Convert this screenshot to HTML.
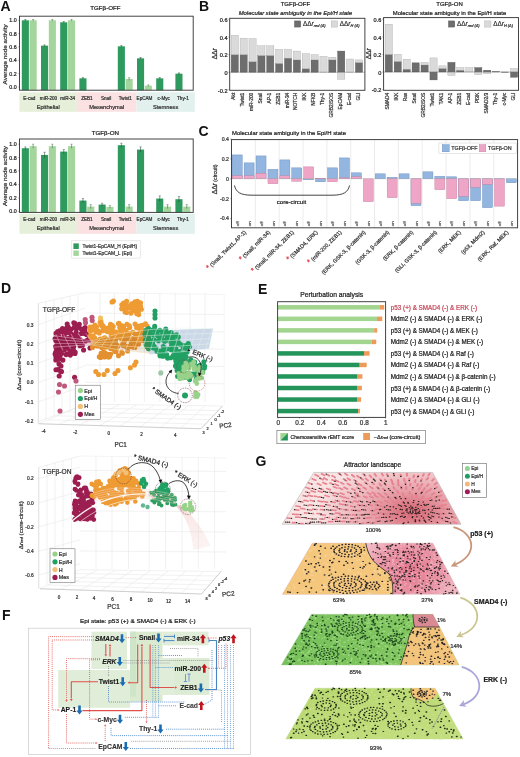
<!DOCTYPE html>
<html><head><meta charset="utf-8"><title>Figure</title>
<style>
html,body{margin:0;padding:0;background:#fff;width:520px;height:757px;overflow:hidden}
svg{display:block}
text{font-family:"Liberation Sans",Arial,sans-serif}
</style></head><body>
<svg xmlns="http://www.w3.org/2000/svg" width="520" height="757" viewBox="0 0 520 757">
<rect width="520" height="757" fill="#fff"/>
<text x="0.6" y="10.6" font-size="14" font-weight="bold" fill="#111">A</text>
<text x="105.4" y="10.2" font-size="6.2" text-anchor="middle" fill="#222" stroke="#222" stroke-width="0.22">TGFβ-OFF</text>
<rect x="19.5" y="92.3" width="57.4" height="19.5" fill="#e6efd9"/>
<rect x="76.9" y="92.3" width="59.6" height="19.5" fill="#fbe1e1"/>
<rect x="136.5" y="92.3" width="58.3" height="19.5" fill="#e2f1ee"/>
<rect x="21.8" y="20.3" width="7.1" height="69.9" fill="#2f9a5e"/>
<rect x="29.6" y="20.3" width="7.1" height="69.9" fill="#a3d59c"/>
<line x1="25.35" y1="19.5" x2="25.35" y2="21.1" stroke="#1a3a26" stroke-width="0.5"/>
<line x1="24.25" y1="19.5" x2="26.45" y2="19.5" stroke="#1a3a26" stroke-width="0.4"/>
<line x1="33.15" y1="19.5" x2="33.15" y2="21.1" stroke="#3a5a36" stroke-width="0.5"/>
<line x1="32.05" y1="19.5" x2="34.25" y2="19.5" stroke="#3a5a36" stroke-width="0.4"/>
<rect x="41" y="45.65" width="7.1" height="44.55" fill="#2f9a5e"/>
<rect x="48.8" y="20.3" width="7.1" height="69.9" fill="#a3d59c"/>
<line x1="44.55" y1="44.85" x2="44.55" y2="46.45" stroke="#1a3a26" stroke-width="0.5"/>
<line x1="43.45" y1="44.85" x2="45.65" y2="44.85" stroke="#1a3a26" stroke-width="0.4"/>
<line x1="52.35" y1="19.5" x2="52.35" y2="21.1" stroke="#3a5a36" stroke-width="0.5"/>
<line x1="51.25" y1="19.5" x2="53.45" y2="19.5" stroke="#3a5a36" stroke-width="0.4"/>
<rect x="60.2" y="22.3" width="7.1" height="67.9" fill="#2f9a5e"/>
<rect x="68" y="20.3" width="7.1" height="69.9" fill="#a3d59c"/>
<line x1="63.75" y1="21.5" x2="63.75" y2="23.1" stroke="#1a3a26" stroke-width="0.5"/>
<line x1="62.65" y1="21.5" x2="64.85" y2="21.5" stroke="#1a3a26" stroke-width="0.4"/>
<line x1="71.55" y1="19.5" x2="71.55" y2="21.1" stroke="#3a5a36" stroke-width="0.5"/>
<line x1="70.45" y1="19.5" x2="72.65" y2="19.5" stroke="#3a5a36" stroke-width="0.4"/>
<rect x="79.4" y="78.33" width="7.1" height="11.87" fill="#2f9a5e"/>
<line x1="82.95" y1="77.53" x2="82.95" y2="79.13" stroke="#1a3a26" stroke-width="0.5"/>
<line x1="81.85" y1="77.53" x2="84.05" y2="77.53" stroke="#1a3a26" stroke-width="0.4"/>
<rect x="117.8" y="46.31" width="7.1" height="43.89" fill="#2f9a5e"/>
<rect x="125.6" y="79" width="7.1" height="11.2" fill="#a3d59c"/>
<line x1="121.35" y1="45.51" x2="121.35" y2="47.11" stroke="#1a3a26" stroke-width="0.5"/>
<line x1="120.25" y1="45.51" x2="122.45" y2="45.51" stroke="#1a3a26" stroke-width="0.4"/>
<line x1="129.15" y1="77.66" x2="129.15" y2="80.33" stroke="#3a5a36" stroke-width="0.5"/>
<line x1="128.05" y1="77.66" x2="130.25" y2="77.66" stroke="#3a5a36" stroke-width="0.4"/>
<rect x="137" y="58.32" width="7.1" height="31.88" fill="#2f9a5e"/>
<rect x="144.8" y="85.67" width="7.1" height="4.53" fill="#a3d59c"/>
<line x1="140.55" y1="57.52" x2="140.55" y2="59.12" stroke="#1a3a26" stroke-width="0.5"/>
<line x1="139.45" y1="57.52" x2="141.65" y2="57.52" stroke="#1a3a26" stroke-width="0.4"/>
<line x1="148.35" y1="84.87" x2="148.35" y2="86.47" stroke="#3a5a36" stroke-width="0.5"/>
<line x1="147.25" y1="84.87" x2="149.45" y2="84.87" stroke="#3a5a36" stroke-width="0.4"/>
<rect x="156.2" y="78.33" width="7.1" height="11.87" fill="#2f9a5e"/>
<line x1="159.75" y1="77.53" x2="159.75" y2="79.13" stroke="#1a3a26" stroke-width="0.5"/>
<line x1="158.65" y1="77.53" x2="160.85" y2="77.53" stroke="#1a3a26" stroke-width="0.4"/>
<rect x="175.4" y="73.66" width="7.1" height="16.54" fill="#2f9a5e"/>
<line x1="178.95" y1="72.86" x2="178.95" y2="74.46" stroke="#1a3a26" stroke-width="0.5"/>
<line x1="177.85" y1="72.86" x2="180.05" y2="72.86" stroke="#1a3a26" stroke-width="0.4"/>
<rect x="19.5" y="16.2" width="173.7" height="74" fill="none" stroke="#3a3a3a" stroke-width="0.95"/>
<text x="16.7" y="88.9" font-size="5.3" text-anchor="end" fill="#222" stroke="#222" stroke-width="0.22">0.0</text>
<line x1="18.2" y1="87" x2="19.5" y2="87" stroke="#333" stroke-width="0.4"/>
<text x="16.7" y="75.56" font-size="5.3" text-anchor="end" fill="#222" stroke="#222" stroke-width="0.22">0.2</text>
<line x1="18.2" y1="73.66" x2="19.5" y2="73.66" stroke="#333" stroke-width="0.4"/>
<text x="16.7" y="62.22" font-size="5.3" text-anchor="end" fill="#222" stroke="#222" stroke-width="0.22">0.4</text>
<line x1="18.2" y1="60.32" x2="19.5" y2="60.32" stroke="#333" stroke-width="0.4"/>
<text x="16.7" y="48.88" font-size="5.3" text-anchor="end" fill="#222" stroke="#222" stroke-width="0.22">0.6</text>
<line x1="18.2" y1="46.98" x2="19.5" y2="46.98" stroke="#333" stroke-width="0.4"/>
<text x="16.7" y="35.54" font-size="5.3" text-anchor="end" fill="#222" stroke="#222" stroke-width="0.22">0.8</text>
<line x1="18.2" y1="33.64" x2="19.5" y2="33.64" stroke="#333" stroke-width="0.4"/>
<text x="16.7" y="22.2" font-size="5.3" text-anchor="end" fill="#222" stroke="#222" stroke-width="0.22">1.0</text>
<line x1="18.2" y1="20.3" x2="19.5" y2="20.3" stroke="#333" stroke-width="0.4"/>
<text x="7.4" y="54.4" font-size="5.8" text-anchor="middle" fill="#333" stroke="#333" stroke-width="0.22" textLength="60" lengthAdjust="spacingAndGlyphs" transform="rotate(-90 7.4 54.4)">Average node activity</text>
<text x="29.3" y="99.7" font-size="4.6" text-anchor="middle" fill="#333" stroke="#333" stroke-width="0.22">E-cad</text>
<text x="48.5" y="99.7" font-size="4.6" text-anchor="middle" fill="#333" stroke="#333" stroke-width="0.22">miR-200</text>
<text x="67.7" y="99.7" font-size="4.6" text-anchor="middle" fill="#333" stroke="#333" stroke-width="0.22">miR-34</text>
<text x="86.9" y="99.7" font-size="4.6" text-anchor="middle" fill="#333" stroke="#333" stroke-width="0.22">ZEB1</text>
<text x="106.1" y="99.7" font-size="4.6" text-anchor="middle" fill="#333" stroke="#333" stroke-width="0.22">Snail</text>
<text x="125.3" y="99.7" font-size="4.6" text-anchor="middle" fill="#333" stroke="#333" stroke-width="0.22">Twist1</text>
<text x="144.5" y="99.7" font-size="4.6" text-anchor="middle" fill="#333" stroke="#333" stroke-width="0.22">EpCAM</text>
<text x="163.7" y="99.7" font-size="4.6" text-anchor="middle" fill="#333" stroke="#333" stroke-width="0.22">c-Myc</text>
<text x="182.9" y="99.7" font-size="4.6" text-anchor="middle" fill="#333" stroke="#333" stroke-width="0.22">Thy-1</text>
<text x="48.2" y="108.5" font-size="5.7" text-anchor="middle" fill="#333" stroke="#333" stroke-width="0.22">Epithelial</text>
<text x="106.7" y="108.5" font-size="5.7" text-anchor="middle" fill="#333" stroke="#333" stroke-width="0.22">Mesenchymal</text>
<text x="165.6" y="108.5" font-size="5.7" text-anchor="middle" fill="#333" stroke="#333" stroke-width="0.22">Stemness</text>
<text x="105.4" y="134.8" font-size="6.2" text-anchor="middle" fill="#222" stroke="#222" stroke-width="0.22">TGFβ-ON</text>
<rect x="19.5" y="213.8" width="57.4" height="20" fill="#e6efd9"/>
<rect x="76.9" y="213.8" width="59.6" height="20" fill="#fbe1e1"/>
<rect x="136.5" y="213.8" width="58.3" height="20" fill="#e2f1ee"/>
<rect x="21.8" y="148.23" width="7.1" height="64.17" fill="#2f9a5e"/>
<rect x="29.6" y="146.21" width="7.1" height="66.19" fill="#a3d59c"/>
<line x1="25.35" y1="146.88" x2="25.35" y2="149.57" stroke="#1a3a26" stroke-width="0.5"/>
<line x1="24.25" y1="146.88" x2="26.45" y2="146.88" stroke="#1a3a26" stroke-width="0.4"/>
<line x1="33.15" y1="144.2" x2="33.15" y2="148.23" stroke="#3a5a36" stroke-width="0.5"/>
<line x1="32.05" y1="144.2" x2="34.25" y2="144.2" stroke="#3a5a36" stroke-width="0.4"/>
<rect x="41" y="154.94" width="7.1" height="57.46" fill="#2f9a5e"/>
<rect x="48.8" y="146.21" width="7.1" height="66.19" fill="#a3d59c"/>
<line x1="44.55" y1="152.25" x2="44.55" y2="157.62" stroke="#1a3a26" stroke-width="0.5"/>
<line x1="43.45" y1="152.25" x2="45.65" y2="152.25" stroke="#1a3a26" stroke-width="0.4"/>
<line x1="52.35" y1="144.2" x2="52.35" y2="148.23" stroke="#3a5a36" stroke-width="0.5"/>
<line x1="51.25" y1="144.2" x2="53.45" y2="144.2" stroke="#3a5a36" stroke-width="0.4"/>
<rect x="60.2" y="151.58" width="7.1" height="60.82" fill="#2f9a5e"/>
<rect x="68" y="146.21" width="7.1" height="66.19" fill="#a3d59c"/>
<line x1="63.75" y1="149.57" x2="63.75" y2="153.59" stroke="#1a3a26" stroke-width="0.5"/>
<line x1="62.65" y1="149.57" x2="64.85" y2="149.57" stroke="#1a3a26" stroke-width="0.4"/>
<line x1="71.55" y1="144.2" x2="71.55" y2="148.23" stroke="#3a5a36" stroke-width="0.5"/>
<line x1="70.45" y1="144.2" x2="72.65" y2="144.2" stroke="#3a5a36" stroke-width="0.4"/>
<rect x="79.4" y="200.56" width="7.1" height="11.84" fill="#2f9a5e"/>
<rect x="87.2" y="206.6" width="7.1" height="5.8" fill="#a3d59c"/>
<line x1="82.95" y1="198.55" x2="82.95" y2="202.58" stroke="#1a3a26" stroke-width="0.5"/>
<line x1="81.85" y1="198.55" x2="84.05" y2="198.55" stroke="#1a3a26" stroke-width="0.4"/>
<line x1="90.75" y1="204.59" x2="90.75" y2="208.62" stroke="#3a5a36" stroke-width="0.5"/>
<line x1="89.65" y1="204.59" x2="91.85" y2="204.59" stroke="#3a5a36" stroke-width="0.4"/>
<rect x="98.6" y="204.59" width="7.1" height="7.81" fill="#2f9a5e"/>
<rect x="106.4" y="206.94" width="7.1" height="5.46" fill="#a3d59c"/>
<line x1="102.15" y1="203.25" x2="102.15" y2="205.93" stroke="#1a3a26" stroke-width="0.5"/>
<line x1="101.05" y1="203.25" x2="103.25" y2="203.25" stroke="#1a3a26" stroke-width="0.4"/>
<line x1="109.95" y1="205.6" x2="109.95" y2="208.28" stroke="#3a5a36" stroke-width="0.5"/>
<line x1="108.85" y1="205.6" x2="111.05" y2="205.6" stroke="#3a5a36" stroke-width="0.4"/>
<rect x="117.8" y="145.21" width="7.1" height="67.19" fill="#2f9a5e"/>
<rect x="125.6" y="206.6" width="7.1" height="5.8" fill="#a3d59c"/>
<line x1="121.35" y1="143.19" x2="121.35" y2="147.22" stroke="#1a3a26" stroke-width="0.5"/>
<line x1="120.25" y1="143.19" x2="122.45" y2="143.19" stroke="#1a3a26" stroke-width="0.4"/>
<line x1="129.15" y1="204.59" x2="129.15" y2="208.62" stroke="#3a5a36" stroke-width="0.5"/>
<line x1="128.05" y1="204.59" x2="130.25" y2="204.59" stroke="#3a5a36" stroke-width="0.4"/>
<rect x="137" y="149.57" width="7.1" height="62.83" fill="#2f9a5e"/>
<line x1="140.55" y1="146.88" x2="140.55" y2="152.25" stroke="#1a3a26" stroke-width="0.5"/>
<line x1="139.45" y1="146.88" x2="141.65" y2="146.88" stroke="#1a3a26" stroke-width="0.4"/>
<rect x="156.2" y="198.55" width="7.1" height="13.85" fill="#2f9a5e"/>
<rect x="164" y="206.6" width="7.1" height="5.8" fill="#a3d59c"/>
<line x1="159.75" y1="195.87" x2="159.75" y2="201.24" stroke="#1a3a26" stroke-width="0.5"/>
<line x1="158.65" y1="195.87" x2="160.85" y2="195.87" stroke="#1a3a26" stroke-width="0.4"/>
<line x1="167.55" y1="204.59" x2="167.55" y2="208.62" stroke="#3a5a36" stroke-width="0.5"/>
<line x1="166.45" y1="204.59" x2="168.65" y2="204.59" stroke="#3a5a36" stroke-width="0.4"/>
<rect x="175.4" y="199.22" width="7.1" height="13.18" fill="#2f9a5e"/>
<rect x="183.2" y="206.6" width="7.1" height="5.8" fill="#a3d59c"/>
<line x1="178.95" y1="196.54" x2="178.95" y2="201.91" stroke="#1a3a26" stroke-width="0.5"/>
<line x1="177.85" y1="196.54" x2="180.05" y2="196.54" stroke="#1a3a26" stroke-width="0.4"/>
<line x1="186.75" y1="204.59" x2="186.75" y2="208.62" stroke="#3a5a36" stroke-width="0.5"/>
<line x1="185.65" y1="204.59" x2="187.85" y2="204.59" stroke="#3a5a36" stroke-width="0.4"/>
<rect x="19.5" y="139" width="173.7" height="73.4" fill="none" stroke="#3a3a3a" stroke-width="0.95"/>
<text x="16.7" y="213.2" font-size="5.3" text-anchor="end" fill="#222" stroke="#222" stroke-width="0.22">0.0</text>
<line x1="18.2" y1="211.3" x2="19.5" y2="211.3" stroke="#333" stroke-width="0.4"/>
<text x="16.7" y="199.78" font-size="5.3" text-anchor="end" fill="#222" stroke="#222" stroke-width="0.22">0.2</text>
<line x1="18.2" y1="197.88" x2="19.5" y2="197.88" stroke="#333" stroke-width="0.4"/>
<text x="16.7" y="186.36" font-size="5.3" text-anchor="end" fill="#222" stroke="#222" stroke-width="0.22">0.4</text>
<line x1="18.2" y1="184.46" x2="19.5" y2="184.46" stroke="#333" stroke-width="0.4"/>
<text x="16.7" y="172.94" font-size="5.3" text-anchor="end" fill="#222" stroke="#222" stroke-width="0.22">0.6</text>
<line x1="18.2" y1="171.04" x2="19.5" y2="171.04" stroke="#333" stroke-width="0.4"/>
<text x="16.7" y="159.52" font-size="5.3" text-anchor="end" fill="#222" stroke="#222" stroke-width="0.22">0.8</text>
<line x1="18.2" y1="157.62" x2="19.5" y2="157.62" stroke="#333" stroke-width="0.4"/>
<text x="16.7" y="146.1" font-size="5.3" text-anchor="end" fill="#222" stroke="#222" stroke-width="0.22">1.0</text>
<line x1="18.2" y1="144.2" x2="19.5" y2="144.2" stroke="#333" stroke-width="0.4"/>
<text x="7.4" y="176" font-size="5.8" text-anchor="middle" fill="#333" stroke="#333" stroke-width="0.22" textLength="60" lengthAdjust="spacingAndGlyphs" transform="rotate(-90 7.4 176)">Average node activity</text>
<text x="29.3" y="221.2" font-size="4.6" text-anchor="middle" fill="#333" stroke="#333" stroke-width="0.22">E-cad</text>
<text x="48.5" y="221.2" font-size="4.6" text-anchor="middle" fill="#333" stroke="#333" stroke-width="0.22">miR-200</text>
<text x="67.7" y="221.2" font-size="4.6" text-anchor="middle" fill="#333" stroke="#333" stroke-width="0.22">miR-34</text>
<text x="86.9" y="221.2" font-size="4.6" text-anchor="middle" fill="#333" stroke="#333" stroke-width="0.22">ZEB1</text>
<text x="106.1" y="221.2" font-size="4.6" text-anchor="middle" fill="#333" stroke="#333" stroke-width="0.22">Snail</text>
<text x="125.3" y="221.2" font-size="4.6" text-anchor="middle" fill="#333" stroke="#333" stroke-width="0.22">Twist1</text>
<text x="144.5" y="221.2" font-size="4.6" text-anchor="middle" fill="#333" stroke="#333" stroke-width="0.22">EpCAM</text>
<text x="163.7" y="221.2" font-size="4.6" text-anchor="middle" fill="#333" stroke="#333" stroke-width="0.22">c-Myc</text>
<text x="182.9" y="221.2" font-size="4.6" text-anchor="middle" fill="#333" stroke="#333" stroke-width="0.22">Thy-1</text>
<text x="48.2" y="230" font-size="5.7" text-anchor="middle" fill="#333" stroke="#333" stroke-width="0.22">Epithelial</text>
<text x="106.7" y="230" font-size="5.7" text-anchor="middle" fill="#333" stroke="#333" stroke-width="0.22">Mesenchymal</text>
<text x="165.6" y="230" font-size="5.7" text-anchor="middle" fill="#333" stroke="#333" stroke-width="0.22">Stemness</text>
<rect x="71.8" y="240.8" width="68.4" height="17.3" fill="white" stroke="#d4d4d4" stroke-width="0.5"/>
<rect x="73.4" y="243.4" width="5.4" height="5.6" fill="#2f9a5e"/>
<rect x="73.4" y="250.5" width="5.4" height="5.4" fill="#a3d59c"/>
<text x="82.6" y="248.2" font-size="4.95" fill="#333" stroke="#333" stroke-width="0.22" textLength="54.6" lengthAdjust="spacingAndGlyphs">Twist1-EpCAM_H (Epi/H)</text>
<text x="82.6" y="255.1" font-size="4.95" fill="#333" stroke="#333" stroke-width="0.22" textLength="49.6" lengthAdjust="spacingAndGlyphs">Twist1-EpCAM_L (Epi)</text>
<text x="199" y="10.5" font-size="14" font-weight="bold" fill="#111">B</text>
<text x="295.4" y="6.4" font-size="6" text-anchor="middle" fill="#222" stroke="#222" stroke-width="0.22">TGFβ-OFF</text>
<text x="295.4" y="15.4" font-size="5.9" text-anchor="middle" font-style="italic" fill="#222" stroke="#222" stroke-width="0.22" textLength="113.5" lengthAdjust="spacingAndGlyphs">Molecular state ambiguity in the Epi/H state</text>
<rect x="231.2" y="54.6" width="7.2" height="17.6" fill="#6d6d6d" stroke="#555" stroke-width="0.35"/>
<rect x="231.2" y="35.24" width="7.2" height="19.36" fill="#dadada" stroke="#a8a8a8" stroke-width="0.35"/>
<rect x="240.07" y="54.6" width="7.2" height="17.6" fill="#6d6d6d" stroke="#555" stroke-width="0.35"/>
<rect x="240.07" y="38.14" width="7.2" height="16.46" fill="#dadada" stroke="#a8a8a8" stroke-width="0.35"/>
<rect x="248.94" y="61.64" width="7.2" height="10.56" fill="#6d6d6d" stroke="#555" stroke-width="0.35"/>
<rect x="248.94" y="38.58" width="7.2" height="23.06" fill="#dadada" stroke="#a8a8a8" stroke-width="0.35"/>
<rect x="257.81" y="55.48" width="7.2" height="16.72" fill="#6d6d6d" stroke="#555" stroke-width="0.35"/>
<rect x="257.81" y="45.8" width="7.2" height="9.68" fill="#dadada" stroke="#a8a8a8" stroke-width="0.35"/>
<rect x="266.68" y="55.48" width="7.2" height="16.72" fill="#6d6d6d" stroke="#555" stroke-width="0.35"/>
<rect x="266.68" y="45.8" width="7.2" height="9.68" fill="#dadada" stroke="#a8a8a8" stroke-width="0.35"/>
<rect x="275.55" y="63.4" width="7.2" height="8.8" fill="#6d6d6d" stroke="#555" stroke-width="0.35"/>
<rect x="275.55" y="49.32" width="7.2" height="14.08" fill="#dadada" stroke="#a8a8a8" stroke-width="0.35"/>
<rect x="284.42" y="58.12" width="7.2" height="14.08" fill="#6d6d6d" stroke="#555" stroke-width="0.35"/>
<rect x="284.42" y="49.32" width="7.2" height="8.8" fill="#dadada" stroke="#a8a8a8" stroke-width="0.35"/>
<rect x="293.29" y="59.88" width="7.2" height="12.32" fill="#6d6d6d" stroke="#555" stroke-width="0.35"/>
<rect x="293.29" y="51.08" width="7.2" height="8.8" fill="#dadada" stroke="#a8a8a8" stroke-width="0.35"/>
<rect x="302.16" y="68.68" width="7.2" height="3.52" fill="#6d6d6d" stroke="#555" stroke-width="0.35"/>
<rect x="302.16" y="53.72" width="7.2" height="14.96" fill="#dadada" stroke="#a8a8a8" stroke-width="0.35"/>
<rect x="311.03" y="59.88" width="7.2" height="12.32" fill="#6d6d6d" stroke="#555" stroke-width="0.35"/>
<rect x="311.03" y="54.6" width="7.2" height="5.28" fill="#dadada" stroke="#a8a8a8" stroke-width="0.35"/>
<rect x="319.9" y="56.36" width="7.2" height="15.84" fill="#dadada" stroke="#a8a8a8" stroke-width="0.35"/>
<rect x="328.77" y="59.88" width="7.2" height="12.32" fill="#6d6d6d" stroke="#555" stroke-width="0.35"/>
<rect x="328.77" y="57.24" width="7.2" height="2.64" fill="#dadada" stroke="#a8a8a8" stroke-width="0.35"/>
<rect x="337.64" y="51.08" width="7.2" height="21.12" fill="#6d6d6d" stroke="#555" stroke-width="0.35"/>
<rect x="337.64" y="72.2" width="7.2" height="7.04" fill="#dadada" stroke="#a8a8a8" stroke-width="0.35"/>
<rect x="346.51" y="59" width="7.2" height="13.2" fill="#dadada" stroke="#a8a8a8" stroke-width="0.35"/>
<rect x="355.38" y="62.52" width="7.2" height="9.68" fill="#6d6d6d" stroke="#555" stroke-width="0.35"/>
<rect x="355.38" y="59.88" width="7.2" height="2.64" fill="#dadada" stroke="#a8a8a8" stroke-width="0.35"/>
<line x1="229.7" y1="72.2" x2="364.9" y2="72.2" stroke="#555" stroke-width="0.4"/>
<rect x="229.7" y="18.3" width="135.2" height="72" fill="none" stroke="#3a3a3a" stroke-width="0.95"/>
<text x="227.5" y="22.2" font-size="5.6" text-anchor="end" fill="#222" stroke="#222" stroke-width="0.22">0.6</text>
<line x1="228.4" y1="19.4" x2="229.7" y2="19.4" stroke="#333" stroke-width="0.4"/>
<text x="227.5" y="39.8" font-size="5.6" text-anchor="end" fill="#222" stroke="#222" stroke-width="0.22">0.4</text>
<line x1="228.4" y1="37" x2="229.7" y2="37" stroke="#333" stroke-width="0.4"/>
<text x="227.5" y="57.4" font-size="5.6" text-anchor="end" fill="#222" stroke="#222" stroke-width="0.22">0.2</text>
<line x1="228.4" y1="54.6" x2="229.7" y2="54.6" stroke="#333" stroke-width="0.4"/>
<text x="227.5" y="75" font-size="5.6" text-anchor="end" fill="#222" stroke="#222" stroke-width="0.22">0</text>
<line x1="228.4" y1="72.2" x2="229.7" y2="72.2" stroke="#333" stroke-width="0.4"/>
<text x="227.5" y="92.6" font-size="5.6" text-anchor="end" fill="#222" stroke="#222" stroke-width="0.22">-0.2</text>
<line x1="228.4" y1="89.8" x2="229.7" y2="89.8" stroke="#333" stroke-width="0.4"/>
<text x="217.1" y="53.8" font-size="6.6" text-anchor="middle" fill="#333" stroke="#333" stroke-width="0.22" transform="rotate(-90 217.1 53.8)">ΔΔ<tspan font-style="italic">r</tspan></text>
<text x="235.4" y="92.7" font-size="4.85" text-anchor="end" fill="#333" stroke="#333" stroke-width="0.22" transform="rotate(-90 235.4 92.7)">Akt</text>
<text x="244.27" y="92.7" font-size="4.85" text-anchor="end" fill="#333" stroke="#333" stroke-width="0.22" transform="rotate(-90 244.27 92.7)">Twist1</text>
<text x="253.14" y="92.7" font-size="4.85" text-anchor="end" fill="#333" stroke="#333" stroke-width="0.22" transform="rotate(-90 253.14 92.7)">miR-200</text>
<text x="262.01" y="92.7" font-size="4.85" text-anchor="end" fill="#333" stroke="#333" stroke-width="0.22" transform="rotate(-90 262.01 92.7)">Snail</text>
<text x="270.88" y="92.7" font-size="4.85" text-anchor="end" fill="#333" stroke="#333" stroke-width="0.22" transform="rotate(-90 270.88 92.7)">AP-1</text>
<text x="279.75" y="92.7" font-size="4.85" text-anchor="end" fill="#333" stroke="#333" stroke-width="0.22" transform="rotate(-90 279.75 92.7)">ZEB1</text>
<text x="288.62" y="92.7" font-size="4.85" text-anchor="end" fill="#333" stroke="#333" stroke-width="0.22" transform="rotate(-90 288.62 92.7)">miR-34</text>
<text x="297.49" y="92.7" font-size="4.85" text-anchor="end" fill="#333" stroke="#333" stroke-width="0.22" transform="rotate(-90 297.49 92.7)">NOTCH</text>
<text x="306.36" y="92.7" font-size="4.85" text-anchor="end" fill="#333" stroke="#333" stroke-width="0.22" transform="rotate(-90 306.36 92.7)">IKK</text>
<text x="315.23" y="92.7" font-size="4.85" text-anchor="end" fill="#333" stroke="#333" stroke-width="0.22" transform="rotate(-90 315.23 92.7)">NFKB</text>
<text x="324.1" y="92.7" font-size="4.85" text-anchor="end" fill="#333" stroke="#333" stroke-width="0.22" transform="rotate(-90 324.1 92.7)">Thy-1</text>
<text x="332.97" y="92.7" font-size="4.85" text-anchor="end" fill="#333" stroke="#333" stroke-width="0.22" transform="rotate(-90 332.97 92.7)">GRB2/SOS</text>
<text x="341.84" y="92.7" font-size="4.85" text-anchor="end" fill="#333" stroke="#333" stroke-width="0.22" transform="rotate(-90 341.84 92.7)">EpCAM</text>
<text x="350.71" y="92.7" font-size="4.85" text-anchor="end" fill="#333" stroke="#333" stroke-width="0.22" transform="rotate(-90 350.71 92.7)">E-cad</text>
<text x="359.58" y="92.7" font-size="4.85" text-anchor="end" fill="#333" stroke="#333" stroke-width="0.22" transform="rotate(-90 359.58 92.7)">GLI</text>
<rect x="294.4" y="20.9" width="6.4" height="6.2" fill="#6d6d6d" stroke="#555" stroke-width="0.35"/>
<text x="303" y="26" font-size="6.4" fill="#333" stroke="#333" stroke-width="0.22">ΔΔ<tspan font-style="italic">r</tspan><tspan font-size="3.9" font-style="italic" dy="0.9">red (Δ)</tspan></text>
<rect x="331.2" y="20.9" width="6.4" height="6.2" fill="#dadada" stroke="#a8a8a8" stroke-width="0.35"/>
<text x="339.8" y="26" font-size="6.4" fill="#333" stroke="#333" stroke-width="0.22">ΔΔ<tspan font-style="italic">r</tspan><tspan font-size="3.9" font-style="italic" dy="0.9">H (Δ)</tspan></text>
<text x="449.5" y="6.4" font-size="6" text-anchor="middle" fill="#222" stroke="#222" stroke-width="0.22">TGFβ-ON</text>
<text x="449.5" y="15.4" font-size="5.9" text-anchor="middle" fill="#222" stroke="#222" stroke-width="0.22" textLength="113.5" lengthAdjust="spacingAndGlyphs">Molecular state ambiguity in the Epi/H state</text>
<rect x="385.2" y="54.4" width="7.2" height="17.6" fill="#6d6d6d" stroke="#555" stroke-width="0.35"/>
<rect x="385.2" y="24.22" width="7.2" height="30.18" fill="#dadada" stroke="#a8a8a8" stroke-width="0.35"/>
<rect x="394.15" y="61.44" width="7.2" height="10.56" fill="#6d6d6d" stroke="#555" stroke-width="0.35"/>
<rect x="394.15" y="54.4" width="7.2" height="7.04" fill="#dadada" stroke="#a8a8a8" stroke-width="0.35"/>
<rect x="403.1" y="69.18" width="7.2" height="2.82" fill="#6d6d6d" stroke="#555" stroke-width="0.35"/>
<rect x="403.1" y="59.24" width="7.2" height="9.94" fill="#dadada" stroke="#a8a8a8" stroke-width="0.35"/>
<rect x="412.05" y="62.85" width="7.2" height="9.15" fill="#6d6d6d" stroke="#555" stroke-width="0.35"/>
<rect x="421" y="64.96" width="7.2" height="7.04" fill="#6d6d6d" stroke="#555" stroke-width="0.35"/>
<rect x="421" y="62.32" width="7.2" height="2.64" fill="#dadada" stroke="#a8a8a8" stroke-width="0.35"/>
<rect x="429.95" y="72" width="7.2" height="7.92" fill="#6d6d6d" stroke="#555" stroke-width="0.35"/>
<rect x="429.95" y="57.92" width="7.2" height="14.08" fill="#dadada" stroke="#a8a8a8" stroke-width="0.35"/>
<rect x="438.9" y="68.48" width="7.2" height="3.52" fill="#6d6d6d" stroke="#555" stroke-width="0.35"/>
<rect x="438.9" y="65.84" width="7.2" height="2.64" fill="#dadada" stroke="#a8a8a8" stroke-width="0.35"/>
<rect x="447.85" y="62.32" width="7.2" height="9.68" fill="#6d6d6d" stroke="#555" stroke-width="0.35"/>
<rect x="447.85" y="72" width="7.2" height="3.52" fill="#dadada" stroke="#a8a8a8" stroke-width="0.35"/>
<rect x="456.8" y="70.24" width="7.2" height="1.76" fill="#6d6d6d" stroke="#555" stroke-width="0.35"/>
<rect x="456.8" y="67.6" width="7.2" height="2.64" fill="#dadada" stroke="#a8a8a8" stroke-width="0.35"/>
<rect x="465.75" y="67.6" width="7.2" height="4.4" fill="#dadada" stroke="#a8a8a8" stroke-width="0.35"/>
<rect x="474.7" y="67.6" width="7.2" height="4.4" fill="#6d6d6d" stroke="#555" stroke-width="0.35"/>
<rect x="474.7" y="72" width="7.2" height="2.64" fill="#dadada" stroke="#a8a8a8" stroke-width="0.35"/>
<rect x="483.65" y="70.24" width="7.2" height="1.76" fill="#6d6d6d" stroke="#555" stroke-width="0.35"/>
<rect x="483.65" y="72" width="7.2" height="1.76" fill="#dadada" stroke="#a8a8a8" stroke-width="0.35"/>
<rect x="492.6" y="71.65" width="7.2" height="0.35" fill="#6d6d6d" stroke="#555" stroke-width="0.35"/>
<rect x="501.55" y="72" width="7.2" height="0.35" fill="#6d6d6d" stroke="#555" stroke-width="0.35"/>
<rect x="510.5" y="72" width="7.2" height="5.28" fill="#6d6d6d" stroke="#555" stroke-width="0.35"/>
<rect x="510.5" y="68.48" width="7.2" height="3.52" fill="#dadada" stroke="#a8a8a8" stroke-width="0.35"/>
<line x1="383.6" y1="72" x2="518.5" y2="72" stroke="#555" stroke-width="0.4"/>
<rect x="383.6" y="17.6" width="134.9" height="72.7" fill="none" stroke="#3a3a3a" stroke-width="0.95"/>
<text x="381.4" y="22" font-size="5.6" text-anchor="end" fill="#222" stroke="#222" stroke-width="0.22">0.6</text>
<line x1="382.3" y1="19.2" x2="383.6" y2="19.2" stroke="#333" stroke-width="0.4"/>
<text x="381.4" y="39.6" font-size="5.6" text-anchor="end" fill="#222" stroke="#222" stroke-width="0.22">0.4</text>
<line x1="382.3" y1="36.8" x2="383.6" y2="36.8" stroke="#333" stroke-width="0.4"/>
<text x="381.4" y="57.2" font-size="5.6" text-anchor="end" fill="#222" stroke="#222" stroke-width="0.22">0.2</text>
<line x1="382.3" y1="54.4" x2="383.6" y2="54.4" stroke="#333" stroke-width="0.4"/>
<text x="381.4" y="74.8" font-size="5.6" text-anchor="end" fill="#222" stroke="#222" stroke-width="0.22">0</text>
<line x1="382.3" y1="72" x2="383.6" y2="72" stroke="#333" stroke-width="0.4"/>
<text x="381.4" y="92.4" font-size="5.6" text-anchor="end" fill="#222" stroke="#222" stroke-width="0.22">-0.2</text>
<line x1="382.3" y1="89.6" x2="383.6" y2="89.6" stroke="#333" stroke-width="0.4"/>
<text x="371" y="53.8" font-size="6.6" text-anchor="middle" fill="#333" stroke="#333" stroke-width="0.22" transform="rotate(-90 371 53.8)">ΔΔ<tspan font-style="italic">r</tspan></text>
<text x="389.4" y="92.7" font-size="4.85" text-anchor="end" fill="#333" stroke="#333" stroke-width="0.22" transform="rotate(-90 389.4 92.7)">SMAD4</text>
<text x="398.35" y="92.7" font-size="4.85" text-anchor="end" fill="#333" stroke="#333" stroke-width="0.22" transform="rotate(-90 398.35 92.7)">IKK</text>
<text x="407.3" y="92.7" font-size="4.85" text-anchor="end" fill="#333" stroke="#333" stroke-width="0.22" transform="rotate(-90 407.3 92.7)">Ras</text>
<text x="416.25" y="92.7" font-size="4.85" text-anchor="end" fill="#333" stroke="#333" stroke-width="0.22" transform="rotate(-90 416.25 92.7)">Snail</text>
<text x="425.2" y="92.7" font-size="4.85" text-anchor="end" fill="#333" stroke="#333" stroke-width="0.22" transform="rotate(-90 425.2 92.7)">GRB2/SOS</text>
<text x="434.15" y="92.7" font-size="4.85" text-anchor="end" fill="#333" stroke="#333" stroke-width="0.22" transform="rotate(-90 434.15 92.7)">Twist1</text>
<text x="443.1" y="92.7" font-size="4.85" text-anchor="end" fill="#333" stroke="#333" stroke-width="0.22" transform="rotate(-90 443.1 92.7)">TAK1</text>
<text x="452.05" y="92.7" font-size="4.85" text-anchor="end" fill="#333" stroke="#333" stroke-width="0.22" transform="rotate(-90 452.05 92.7)">AP-1</text>
<text x="461" y="92.7" font-size="4.85" text-anchor="end" fill="#333" stroke="#333" stroke-width="0.22" transform="rotate(-90 461 92.7)">ZEB1</text>
<text x="469.95" y="92.7" font-size="4.85" text-anchor="end" fill="#333" stroke="#333" stroke-width="0.22" transform="rotate(-90 469.95 92.7)">E-cad</text>
<text x="478.9" y="92.7" font-size="4.85" text-anchor="end" fill="#333" stroke="#333" stroke-width="0.22" transform="rotate(-90 478.9 92.7)">PI3K</text>
<text x="487.85" y="92.7" font-size="4.85" text-anchor="end" fill="#333" stroke="#333" stroke-width="0.22" transform="rotate(-90 487.85 92.7)">SMAD2/3</text>
<text x="496.8" y="92.7" font-size="4.85" text-anchor="end" fill="#333" stroke="#333" stroke-width="0.22" transform="rotate(-90 496.8 92.7)">Thy-1</text>
<text x="505.75" y="92.7" font-size="4.85" text-anchor="end" fill="#333" stroke="#333" stroke-width="0.22" transform="rotate(-90 505.75 92.7)">c-Myc</text>
<text x="514.7" y="92.7" font-size="4.85" text-anchor="end" fill="#333" stroke="#333" stroke-width="0.22" transform="rotate(-90 514.7 92.7)">GLI</text>
<rect x="448.4" y="20.9" width="6.4" height="6.2" fill="#6d6d6d" stroke="#555" stroke-width="0.35"/>
<text x="457" y="26" font-size="6.4" fill="#333" stroke="#333" stroke-width="0.22">ΔΔ<tspan font-style="italic">r</tspan><tspan font-size="3.9" font-style="italic" dy="0.9">red (Δ)</tspan></text>
<rect x="484.6" y="20.9" width="6.4" height="6.2" fill="#dadada" stroke="#a8a8a8" stroke-width="0.35"/>
<text x="493.2" y="26" font-size="6.4" fill="#333" stroke="#333" stroke-width="0.22">ΔΔ<tspan font-style="italic">r</tspan><tspan font-size="3.9" font-style="italic" dy="0.9">H (Δ)</tspan></text>
<text x="198.6" y="135.5" font-size="14" font-weight="bold" fill="#111">C</text>
<text x="232" y="135.3" font-size="5.9" fill="#222" stroke="#222" stroke-width="0.22" textLength="114" lengthAdjust="spacingAndGlyphs">Molecular state ambiguity in the Epi/H state</text>
<line x1="255.34" y1="139.6" x2="255.34" y2="227.8" stroke="#d8d8d8" stroke-width="0.5"/>
<line x1="279.18" y1="139.6" x2="279.18" y2="227.8" stroke="#d8d8d8" stroke-width="0.5"/>
<line x1="303.02" y1="139.6" x2="303.02" y2="227.8" stroke="#d8d8d8" stroke-width="0.5"/>
<line x1="326.87" y1="139.6" x2="326.87" y2="227.8" stroke="#d8d8d8" stroke-width="0.5"/>
<line x1="350.71" y1="139.6" x2="350.71" y2="227.8" stroke="#d8d8d8" stroke-width="0.5"/>
<line x1="374.55" y1="139.6" x2="374.55" y2="227.8" stroke="#d8d8d8" stroke-width="0.5"/>
<line x1="398.39" y1="139.6" x2="398.39" y2="227.8" stroke="#d8d8d8" stroke-width="0.5"/>
<line x1="422.23" y1="139.6" x2="422.23" y2="227.8" stroke="#d8d8d8" stroke-width="0.5"/>
<line x1="446.08" y1="139.6" x2="446.08" y2="227.8" stroke="#d8d8d8" stroke-width="0.5"/>
<line x1="469.92" y1="139.6" x2="469.92" y2="227.8" stroke="#d8d8d8" stroke-width="0.5"/>
<line x1="493.76" y1="139.6" x2="493.76" y2="227.8" stroke="#d8d8d8" stroke-width="0.5"/>
<rect x="232.2" y="154.92" width="10" height="23.88" fill="#92b6e0" stroke="#6487b8" stroke-width="0.4"/>
<rect x="232.2" y="175.81" width="10" height="2.99" fill="#efa6c6" stroke="#c47b9c" stroke-width="0.4"/>
<text x="238.8" y="226.2" font-size="4.4" fill="#555" stroke="#555" stroke-width="0.22" transform="rotate(-90 238.8 226.2)">off</text>
<rect x="244.1" y="162.88" width="10" height="15.92" fill="#92b6e0" stroke="#6487b8" stroke-width="0.4"/>
<rect x="244.1" y="175.81" width="10" height="2.99" fill="#efa6c6" stroke="#c47b9c" stroke-width="0.4"/>
<text x="250.7" y="226.2" font-size="4.4" fill="#555" stroke="#555" stroke-width="0.22" transform="rotate(-90 250.7 226.2)">on</text>
<rect x="256.04" y="155.92" width="10" height="22.88" fill="#92b6e0" stroke="#6487b8" stroke-width="0.4"/>
<rect x="256.04" y="173.33" width="10" height="5.47" fill="#efa6c6" stroke="#c47b9c" stroke-width="0.4"/>
<text x="262.64" y="226.2" font-size="4.4" fill="#555" stroke="#555" stroke-width="0.22" transform="rotate(-90 262.64 226.2)">off</text>
<rect x="267.94" y="169.35" width="10" height="9.45" fill="#92b6e0" stroke="#6487b8" stroke-width="0.4"/>
<rect x="267.94" y="178.8" width="10" height="4.97" fill="#efa6c6" stroke="#c47b9c" stroke-width="0.4"/>
<text x="274.54" y="226.2" font-size="4.4" fill="#555" stroke="#555" stroke-width="0.22" transform="rotate(-90 274.54 226.2)">on</text>
<rect x="279.88" y="159.9" width="10" height="18.91" fill="#92b6e0" stroke="#6487b8" stroke-width="0.4"/>
<rect x="279.88" y="175.81" width="10" height="2.99" fill="#efa6c6" stroke="#c47b9c" stroke-width="0.4"/>
<text x="286.48" y="226.2" font-size="4.4" fill="#555" stroke="#555" stroke-width="0.22" transform="rotate(-90 286.48 226.2)">off</text>
<rect x="291.78" y="167.86" width="10" height="10.94" fill="#92b6e0" stroke="#6487b8" stroke-width="0.4"/>
<rect x="291.78" y="178.8" width="10" height="2.49" fill="#efa6c6" stroke="#c47b9c" stroke-width="0.4"/>
<text x="298.38" y="226.2" font-size="4.4" fill="#555" stroke="#555" stroke-width="0.22" transform="rotate(-90 298.38 226.2)">on</text>
<rect x="303.72" y="178.8" width="10" height="1" fill="#92b6e0" stroke="#6487b8" stroke-width="0.4"/>
<rect x="303.72" y="166.86" width="10" height="11.94" fill="#efa6c6" stroke="#c47b9c" stroke-width="0.4"/>
<text x="310.32" y="226.2" font-size="4.4" fill="#555" stroke="#555" stroke-width="0.22" transform="rotate(-90 310.32 226.2)">off</text>
<rect x="315.62" y="178.8" width="10" height="2.99" fill="#92b6e0" stroke="#6487b8" stroke-width="0.4"/>
<rect x="315.62" y="178.3" width="10" height="0.5" fill="#efa6c6" stroke="#c47b9c" stroke-width="0.4"/>
<text x="322.23" y="226.2" font-size="4.4" fill="#555" stroke="#555" stroke-width="0.22" transform="rotate(-90 322.23 226.2)">on</text>
<rect x="327.57" y="167.86" width="10" height="10.94" fill="#92b6e0" stroke="#6487b8" stroke-width="0.4"/>
<rect x="327.57" y="178.8" width="10" height="2.99" fill="#efa6c6" stroke="#c47b9c" stroke-width="0.4"/>
<text x="334.17" y="226.2" font-size="4.4" fill="#555" stroke="#555" stroke-width="0.22" transform="rotate(-90 334.17 226.2)">off</text>
<rect x="339.47" y="157.91" width="10" height="20.9" fill="#92b6e0" stroke="#6487b8" stroke-width="0.4"/>
<rect x="339.47" y="177.81" width="10" height="1" fill="#efa6c6" stroke="#c47b9c" stroke-width="0.4"/>
<text x="346.07" y="226.2" font-size="4.4" fill="#555" stroke="#555" stroke-width="0.22" transform="rotate(-90 346.07 226.2)">on</text>
<rect x="351.41" y="172.83" width="10" height="5.97" fill="#92b6e0" stroke="#6487b8" stroke-width="0.4"/>
<rect x="351.41" y="176.81" width="10" height="1.99" fill="#efa6c6" stroke="#c47b9c" stroke-width="0.4"/>
<text x="358.01" y="226.2" font-size="4.4" fill="#555" stroke="#555" stroke-width="0.22" transform="rotate(-90 358.01 226.2)">off</text>
<rect x="363.31" y="178.8" width="10" height="22.88" fill="#efa6c6" stroke="#c47b9c" stroke-width="0.4"/>
<text x="369.91" y="226.2" font-size="4.4" fill="#555" stroke="#555" stroke-width="0.22" transform="rotate(-90 369.91 226.2)">on</text>
<rect x="375.25" y="173.83" width="10" height="4.97" fill="#92b6e0" stroke="#6487b8" stroke-width="0.4"/>
<text x="381.85" y="226.2" font-size="4.4" fill="#555" stroke="#555" stroke-width="0.22" transform="rotate(-90 381.85 226.2)">off</text>
<rect x="387.15" y="177.31" width="10" height="1.49" fill="#92b6e0" stroke="#6487b8" stroke-width="0.4"/>
<rect x="387.15" y="178.8" width="10" height="18.91" fill="#efa6c6" stroke="#c47b9c" stroke-width="0.4"/>
<text x="393.75" y="226.2" font-size="4.4" fill="#555" stroke="#555" stroke-width="0.22" transform="rotate(-90 393.75 226.2)">on</text>
<rect x="399.09" y="173.83" width="10" height="4.97" fill="#92b6e0" stroke="#6487b8" stroke-width="0.4"/>
<text x="405.69" y="226.2" font-size="4.4" fill="#555" stroke="#555" stroke-width="0.22" transform="rotate(-90 405.69 226.2)">off</text>
<rect x="410.99" y="178.8" width="10" height="26.87" fill="#92b6e0" stroke="#6487b8" stroke-width="0.4"/>
<rect x="410.99" y="178.8" width="10" height="24.38" fill="#efa6c6" stroke="#c47b9c" stroke-width="0.4"/>
<text x="417.59" y="226.2" font-size="4.4" fill="#555" stroke="#555" stroke-width="0.22" transform="rotate(-90 417.59 226.2)">on</text>
<rect x="422.93" y="171.84" width="10" height="6.97" fill="#92b6e0" stroke="#6487b8" stroke-width="0.4"/>
<text x="429.53" y="226.2" font-size="4.4" fill="#555" stroke="#555" stroke-width="0.22" transform="rotate(-90 429.53 226.2)">off</text>
<rect x="434.83" y="176.31" width="10" height="2.49" fill="#92b6e0" stroke="#6487b8" stroke-width="0.4"/>
<rect x="434.83" y="178.8" width="10" height="10.94" fill="#efa6c6" stroke="#c47b9c" stroke-width="0.4"/>
<text x="441.43" y="226.2" font-size="4.4" fill="#555" stroke="#555" stroke-width="0.22" transform="rotate(-90 441.43 226.2)">on</text>
<rect x="446.78" y="176.81" width="10" height="1.99" fill="#92b6e0" stroke="#6487b8" stroke-width="0.4"/>
<rect x="446.78" y="178.8" width="10" height="19.9" fill="#efa6c6" stroke="#c47b9c" stroke-width="0.4"/>
<text x="453.38" y="226.2" font-size="4.4" fill="#555" stroke="#555" stroke-width="0.22" transform="rotate(-90 453.38 226.2)">off</text>
<rect x="458.68" y="178.8" width="10" height="21.89" fill="#92b6e0" stroke="#6487b8" stroke-width="0.4"/>
<rect x="458.68" y="178.8" width="10" height="17.41" fill="#efa6c6" stroke="#c47b9c" stroke-width="0.4"/>
<text x="465.28" y="226.2" font-size="4.4" fill="#555" stroke="#555" stroke-width="0.22" transform="rotate(-90 465.28 226.2)">on</text>
<rect x="470.62" y="178.8" width="10" height="21.89" fill="#92b6e0" stroke="#6487b8" stroke-width="0.4"/>
<rect x="470.62" y="178.8" width="10" height="8.46" fill="#efa6c6" stroke="#c47b9c" stroke-width="0.4"/>
<text x="477.22" y="226.2" font-size="4.4" fill="#555" stroke="#555" stroke-width="0.22" transform="rotate(-90 477.22 226.2)">off</text>
<rect x="482.52" y="178.8" width="10" height="28.85" fill="#92b6e0" stroke="#6487b8" stroke-width="0.4"/>
<rect x="482.52" y="178.8" width="10" height="5.47" fill="#efa6c6" stroke="#c47b9c" stroke-width="0.4"/>
<text x="489.12" y="226.2" font-size="4.4" fill="#555" stroke="#555" stroke-width="0.22" transform="rotate(-90 489.12 226.2)">on</text>
<rect x="494.46" y="178.8" width="10" height="0.5" fill="#92b6e0" stroke="#6487b8" stroke-width="0.4"/>
<rect x="494.46" y="178.8" width="10" height="27.36" fill="#efa6c6" stroke="#c47b9c" stroke-width="0.4"/>
<text x="501.06" y="226.2" font-size="4.4" fill="#555" stroke="#555" stroke-width="0.22" transform="rotate(-90 501.06 226.2)">off</text>
<rect x="506.36" y="178.8" width="10" height="3.98" fill="#92b6e0" stroke="#6487b8" stroke-width="0.4"/>
<text x="512.96" y="226.2" font-size="4.4" fill="#555" stroke="#555" stroke-width="0.22" transform="rotate(-90 512.96 226.2)">on</text>
<line x1="231.5" y1="178.8" x2="517.6" y2="178.8" stroke="#bbb" stroke-width="0.4"/>
<rect x="231.5" y="139.6" width="286.1" height="88.2" fill="none" stroke="#3a3a3a" stroke-width="0.95"/>
<text x="228.9" y="140.8" font-size="5.2" text-anchor="end" fill="#333" stroke="#333" stroke-width="0.22">0.4</text>
<line x1="230.2" y1="139" x2="231.5" y2="139" stroke="#333" stroke-width="0.4"/>
<text x="228.9" y="160.7" font-size="5.2" text-anchor="end" fill="#333" stroke="#333" stroke-width="0.22">0.2</text>
<line x1="230.2" y1="158.9" x2="231.5" y2="158.9" stroke="#333" stroke-width="0.4"/>
<text x="228.9" y="180.6" font-size="5.2" text-anchor="end" fill="#333" stroke="#333" stroke-width="0.22">0</text>
<line x1="230.2" y1="178.8" x2="231.5" y2="178.8" stroke="#333" stroke-width="0.4"/>
<text x="228.9" y="200.5" font-size="5.2" text-anchor="end" fill="#333" stroke="#333" stroke-width="0.22">-0.2</text>
<line x1="230.2" y1="198.7" x2="231.5" y2="198.7" stroke="#333" stroke-width="0.4"/>
<text x="228.9" y="220.4" font-size="5.2" text-anchor="end" fill="#333" stroke="#333" stroke-width="0.22">-0.4</text>
<line x1="230.2" y1="218.6" x2="231.5" y2="218.6" stroke="#333" stroke-width="0.4"/>
<text x="217.2" y="179.3" font-size="5.3" text-anchor="middle" fill="#333" stroke="#333" stroke-width="0.22" transform="rotate(-90 217.2 179.3)"><tspan font-size="6.6">ΔΔ<tspan font-style="italic">r</tspan></tspan> (circuit)</text>
<path d="M234.5 185.5 C236 192 240 195.2 252 195.2 L332 195.2 C344 195.2 348 192 349.5 185.5" fill="none" stroke="#3a3a3a" stroke-width="0.95"/>
<text x="291.5" y="204.3" font-size="6" text-anchor="middle" fill="#222" stroke="#222" stroke-width="0.22">core-circuit</text>
<rect x="438.9" y="143" width="77.6" height="10.4" fill="white" stroke="#cfcfcf" stroke-width="0.5"/>
<rect x="442.3" y="144.6" width="6.9" height="7.2" fill="#92b6e0" stroke="#6487b8" stroke-width="0.4"/>
<text x="451.2" y="150.4" font-size="5.4" fill="#333" stroke="#333" stroke-width="0.22">TGFβ-OFF</text>
<rect x="479.2" y="144.6" width="6.6" height="7.2" fill="#efa6c6" stroke="#c47b9c" stroke-width="0.4"/>
<text x="487.9" y="150.4" font-size="5.4" fill="#333" stroke="#333" stroke-width="0.22">TGFβ-ON</text>
<text x="246.62" y="232.6" font-size="5.45" text-anchor="end" fill="#333" stroke="#333" stroke-width="0.22" transform="rotate(-45 246.62 232.6)"><tspan fill="#e0303a" stroke="#e0303a" font-size="7.5">*</tspan>  (Snail, Twist1, AP-1)</text>
<text x="270.46" y="232.6" font-size="5.45" text-anchor="end" fill="#333" stroke="#333" stroke-width="0.22" transform="rotate(-45 270.46 232.6)"><tspan fill="#e0303a" stroke="#e0303a" font-size="7.5">*</tspan>  (Snail, miR-34)</text>
<text x="294.3" y="232.6" font-size="5.45" text-anchor="end" fill="#333" stroke="#333" stroke-width="0.22" transform="rotate(-45 294.3 232.6)"><tspan fill="#e0303a" stroke="#e0303a" font-size="7.5">*</tspan>  (Snail, miR-34, ZEB1)</text>
<text x="318.15" y="232.6" font-size="5.45" text-anchor="end" fill="#333" stroke="#333" stroke-width="0.22" transform="rotate(-45 318.15 232.6)"><tspan fill="#e0303a" stroke="#e0303a" font-size="7.5">*</tspan>  (SMAD4, ERK)</text>
<text x="341.99" y="232.6" font-size="5.45" text-anchor="end" fill="#333" stroke="#333" stroke-width="0.22" transform="rotate(-45 341.99 232.6)"><tspan fill="#e0303a" stroke="#e0303a" font-size="7.5">*</tspan>  (miR-200, ZEB1)</text>
<text x="365.83" y="232.6" font-size="5.45" text-anchor="end" fill="#333" stroke="#333" stroke-width="0.22" transform="rotate(-45 365.83 232.6)">(ERK, GSK-3, β-catenin)</text>
<text x="389.67" y="232.6" font-size="5.45" text-anchor="end" fill="#333" stroke="#333" stroke-width="0.22" transform="rotate(-45 389.67 232.6)">(GSK-3, β-catenin)</text>
<text x="413.51" y="232.6" font-size="5.45" text-anchor="end" fill="#333" stroke="#333" stroke-width="0.22" transform="rotate(-45 413.51 232.6)">(ERK, β-catenin)</text>
<text x="437.35" y="232.6" font-size="5.45" text-anchor="end" fill="#333" stroke="#333" stroke-width="0.22" transform="rotate(-45 437.35 232.6)">(GLI, GSK-3, β-catenin)</text>
<text x="461.2" y="232.6" font-size="5.45" text-anchor="end" fill="#333" stroke="#333" stroke-width="0.22" transform="rotate(-45 461.2 232.6)">(ERK, MEK)</text>
<text x="485.04" y="232.6" font-size="5.45" text-anchor="end" fill="#333" stroke="#333" stroke-width="0.22" transform="rotate(-45 485.04 232.6)">(p53, Mdm2)</text>
<text x="508.88" y="232.6" font-size="5.45" text-anchor="end" fill="#333" stroke="#333" stroke-width="0.22" transform="rotate(-45 508.88 232.6)">(ERK, Raf, MEK)</text>
<text x="258" y="293.6" font-size="14" font-weight="bold" fill="#111">E</text>
<text x="300.2" y="297.4" font-size="6.6" fill="#222" stroke="#222" stroke-width="0.22" textLength="63" lengthAdjust="spacingAndGlyphs">Perturbation analysis</text>
<rect x="278" y="305.05" width="101.91" height="4.5" fill="#a2d58f"/>
<rect x="379.91" y="305.05" width="4.3" height="4.5" fill="#ee9a5a"/>
<text x="390.8" y="309.8" font-size="6.3" fill="#c8485a" stroke="#c8485a" stroke-width="0.22">p53 (+) &amp; SMAD4 (-) &amp; ERK (-)</text>
<rect x="278" y="316.58" width="98.9" height="4.5" fill="#a2d58f"/>
<rect x="376.9" y="316.58" width="5.38" height="4.5" fill="#ee9a5a"/>
<text x="390.8" y="321.33" font-size="6.3" fill="#222" stroke="#222" stroke-width="0.22">Mdm2 (-) &amp; SMAD4 (-) &amp; ERK (-)</text>
<rect x="278" y="328.11" width="96.21" height="4.5" fill="#a2d58f"/>
<rect x="374.21" y="328.11" width="3.01" height="4.5" fill="#ee9a5a"/>
<text x="390.8" y="332.86" font-size="6.3" fill="#222" stroke="#222" stroke-width="0.22">p53 (+) &amp; SMAD4 (-) &amp; MEK (-)</text>
<rect x="278" y="339.64" width="93.53" height="4.5" fill="#a2d58f"/>
<rect x="371.52" y="339.64" width="4.73" height="4.5" fill="#ee9a5a"/>
<text x="390.8" y="344.39" font-size="6.3" fill="#222" stroke="#222" stroke-width="0.22">Mdm2 (-) &amp; SMAD4 (-) &amp; MEK (-)</text>
<rect x="278" y="351.17" width="86" height="4.5" fill="#23955a"/>
<rect x="364" y="351.17" width="5.59" height="4.5" fill="#ee9a5a"/>
<text x="390.8" y="355.92" font-size="6.3" fill="#222" stroke="#222" stroke-width="0.22">p53 (+) &amp; SMAD4 (-) &amp; Raf (-)</text>
<rect x="278" y="362.7" width="81.7" height="4.5" fill="#23955a"/>
<rect x="359.7" y="362.7" width="6.99" height="4.5" fill="#ee9a5a"/>
<text x="390.8" y="367.45" font-size="6.3" fill="#222" stroke="#222" stroke-width="0.22">Mdm2 (-) &amp; SMAD4 (-) &amp; Raf (-)</text>
<rect x="278" y="374.23" width="79.55" height="4.5" fill="#23955a"/>
<rect x="357.55" y="374.23" width="4.84" height="4.5" fill="#ee9a5a"/>
<text x="390.8" y="378.98" font-size="6.3" fill="#222" stroke="#222" stroke-width="0.22">Mdm2 (-) &amp; SMAD4 (-) &amp; β-catenin (-)</text>
<rect x="278" y="385.76" width="79.55" height="4.5" fill="#23955a"/>
<rect x="357.55" y="385.76" width="4.3" height="4.5" fill="#ee9a5a"/>
<text x="390.8" y="390.51" font-size="6.3" fill="#222" stroke="#222" stroke-width="0.22">p53 (+) &amp; SMAD4 (-) &amp; β-catenin (-)</text>
<rect x="278" y="397.29" width="79.55" height="4.5" fill="#23955a"/>
<rect x="357.55" y="397.29" width="3.55" height="4.5" fill="#ee9a5a"/>
<text x="390.8" y="402.04" font-size="6.3" fill="#222" stroke="#222" stroke-width="0.22">Mdm2 (-) &amp; SMAD4 (-) &amp; GLI (-)</text>
<rect x="278" y="408.82" width="80.09" height="4.5" fill="#23955a"/>
<rect x="358.09" y="408.82" width="1.93" height="4.5" fill="#ee9a5a"/>
<text x="390.8" y="413.57" font-size="6.3" fill="#222" stroke="#222" stroke-width="0.22">p53 (+) &amp; SMAD4 (-) &amp; GLI (-)</text>
<rect x="277.6" y="301.7" width="108" height="115.7" fill="none" stroke="#3a3a3a" stroke-width="0.95"/>
<line x1="278" y1="417.4" x2="278" y2="418.7" stroke="#333" stroke-width="0.4"/>
<text x="278.3" y="425.3" font-size="6.4" text-anchor="middle" fill="#333" stroke="#333" stroke-width="0.22">0</text>
<line x1="299.5" y1="417.4" x2="299.5" y2="418.7" stroke="#333" stroke-width="0.4"/>
<text x="299.8" y="425.3" font-size="6.4" text-anchor="middle" fill="#333" stroke="#333" stroke-width="0.22">0.2</text>
<line x1="321" y1="417.4" x2="321" y2="418.7" stroke="#333" stroke-width="0.4"/>
<text x="321.3" y="425.3" font-size="6.4" text-anchor="middle" fill="#333" stroke="#333" stroke-width="0.22">0.4</text>
<line x1="342.5" y1="417.4" x2="342.5" y2="418.7" stroke="#333" stroke-width="0.4"/>
<text x="342.8" y="425.3" font-size="6.4" text-anchor="middle" fill="#333" stroke="#333" stroke-width="0.22">0.6</text>
<line x1="364" y1="417.4" x2="364" y2="418.7" stroke="#333" stroke-width="0.4"/>
<text x="364.3" y="425.3" font-size="6.4" text-anchor="middle" fill="#333" stroke="#333" stroke-width="0.22">0.8</text>
<line x1="385.5" y1="417.4" x2="385.5" y2="418.7" stroke="#333" stroke-width="0.4"/>
<text x="385.8" y="425.3" font-size="6.4" text-anchor="middle" fill="#333" stroke="#333" stroke-width="0.22">1</text>
<rect x="276.9" y="430.5" width="148.6" height="13.2" fill="white" stroke="#666" stroke-width="0.6"/>
<polygon points="280.4,433.0 287.9,433.0 280.4,440.6" fill="#a2d58f"/>
<polygon points="287.9,433.0 287.9,440.6 280.4,440.6" fill="#23955a"/>
<text x="290.6" y="438.9" font-size="5.5" fill="#222" stroke="#222" stroke-width="0.22" textLength="63.5" lengthAdjust="spacingAndGlyphs">Chemosensitive rEMT score</text>
<rect x="363.2" y="433" width="6.8" height="7" fill="#ee9a5a"/>
<text x="373.8" y="438.9" font-size="5.5" fill="#222" stroke="#222" stroke-width="0.22" textLength="46.5" lengthAdjust="spacingAndGlyphs">−Δ<tspan font-style="italic">r</tspan><tspan font-size="3.6" font-style="italic">red</tspan> (core-circuit)</text>
<text x="1" y="293.3" font-size="14" font-weight="bold" fill="#111">D</text>
<line x1="85.4" y1="313" x2="224.2" y2="314.5" stroke="#e2e2e2" stroke-width="0.5"/>
<line x1="85.4" y1="330.4" x2="224.2" y2="331.9" stroke="#e2e2e2" stroke-width="0.5"/>
<line x1="85.4" y1="347.7" x2="224.2" y2="349.2" stroke="#e2e2e2" stroke-width="0.5"/>
<line x1="85.4" y1="365" x2="224.2" y2="366.5" stroke="#e2e2e2" stroke-width="0.5"/>
<line x1="85.4" y1="382.3" x2="224.2" y2="383.8" stroke="#e2e2e2" stroke-width="0.5"/>
<line x1="100" y1="293" x2="100" y2="402" stroke="#e2e2e2" stroke-width="0.5"/>
<line x1="114.5" y1="293" x2="114.5" y2="402" stroke="#e2e2e2" stroke-width="0.5"/>
<line x1="129.5" y1="293" x2="129.5" y2="402" stroke="#e2e2e2" stroke-width="0.5"/>
<line x1="144.4" y1="293" x2="144.4" y2="402" stroke="#e2e2e2" stroke-width="0.5"/>
<line x1="159.8" y1="293" x2="159.8" y2="402" stroke="#e2e2e2" stroke-width="0.5"/>
<line x1="175.2" y1="293" x2="175.2" y2="402" stroke="#e2e2e2" stroke-width="0.5"/>
<line x1="190" y1="293" x2="190" y2="402" stroke="#e2e2e2" stroke-width="0.5"/>
<line x1="205" y1="293" x2="205" y2="402" stroke="#e2e2e2" stroke-width="0.5"/>
<line x1="38.3" y1="324.8" x2="85.4" y2="307.8" stroke="#e2e2e2" stroke-width="0.5"/>
<line x1="38.3" y1="343.9" x2="85.4" y2="326.9" stroke="#e2e2e2" stroke-width="0.5"/>
<line x1="38.3" y1="363.1" x2="85.4" y2="346.1" stroke="#e2e2e2" stroke-width="0.5"/>
<line x1="38.3" y1="382.6" x2="85.4" y2="365.6" stroke="#e2e2e2" stroke-width="0.5"/>
<line x1="38.3" y1="402" x2="85.4" y2="385" stroke="#e2e2e2" stroke-width="0.5"/>
<line x1="38.3" y1="421.5" x2="85.4" y2="404.5" stroke="#e2e2e2" stroke-width="0.5"/>
<line x1="46" y1="301.57" x2="46" y2="420.43" stroke="#e2e2e2" stroke-width="0.5"/>
<line x1="54" y1="299.77" x2="54" y2="417.03" stroke="#e2e2e2" stroke-width="0.5"/>
<line x1="62" y1="297.97" x2="62" y2="413.64" stroke="#e2e2e2" stroke-width="0.5"/>
<line x1="70" y1="296.17" x2="70" y2="410.24" stroke="#e2e2e2" stroke-width="0.5"/>
<line x1="78" y1="294.37" x2="78" y2="406.84" stroke="#e2e2e2" stroke-width="0.5"/>
<line x1="38.75" y1="423.75" x2="201" y2="428.75" stroke="#e2e2e2" stroke-width="0.5"/>
<line x1="48.08" y1="419.8" x2="205.3" y2="424.2" stroke="#e2e2e2" stroke-width="0.5"/>
<line x1="57.41" y1="415.85" x2="209.6" y2="419.65" stroke="#e2e2e2" stroke-width="0.5"/>
<line x1="66.74" y1="411.9" x2="213.9" y2="415.1" stroke="#e2e2e2" stroke-width="0.5"/>
<line x1="76.07" y1="407.95" x2="218.2" y2="410.55" stroke="#e2e2e2" stroke-width="0.5"/>
<line x1="85.4" y1="404" x2="222.5" y2="406" stroke="#e2e2e2" stroke-width="0.5"/>
<line x1="38.75" y1="423.75" x2="85.4" y2="404" stroke="#e2e2e2" stroke-width="0.5"/>
<line x1="59.03" y1="424.38" x2="102.54" y2="404.25" stroke="#e2e2e2" stroke-width="0.5"/>
<line x1="79.31" y1="425" x2="119.68" y2="404.5" stroke="#e2e2e2" stroke-width="0.5"/>
<line x1="99.59" y1="425.62" x2="136.81" y2="404.75" stroke="#e2e2e2" stroke-width="0.5"/>
<line x1="119.88" y1="426.25" x2="153.95" y2="405" stroke="#e2e2e2" stroke-width="0.5"/>
<line x1="140.16" y1="426.88" x2="171.09" y2="405.25" stroke="#e2e2e2" stroke-width="0.5"/>
<line x1="160.44" y1="427.5" x2="188.22" y2="405.5" stroke="#e2e2e2" stroke-width="0.5"/>
<line x1="180.72" y1="428.12" x2="205.36" y2="405.75" stroke="#e2e2e2" stroke-width="0.5"/>
<line x1="201" y1="428.75" x2="222.5" y2="406" stroke="#e2e2e2" stroke-width="0.5"/>
<line x1="38.3" y1="303.3" x2="38.3" y2="423.75" stroke="#c8c8c8" stroke-width="0.6"/>
<line x1="38.3" y1="303.3" x2="85.4" y2="292.7" stroke="#e0e0e0" stroke-width="0.5"/>
<line x1="85.4" y1="292.7" x2="224.2" y2="294.5" stroke="#e8e8e8" stroke-width="0.5"/>
<line x1="224.2" y1="294.5" x2="224.2" y2="404" stroke="#e8e8e8" stroke-width="0.5"/>
<line x1="38.75" y1="423.75" x2="201" y2="428.75" stroke="#b8b8b8" stroke-width="0.6"/>
<line x1="201" y1="428.75" x2="222.5" y2="406" stroke="#b8b8b8" stroke-width="0.6"/>
<text x="33.4" y="326.6" font-size="4.8" text-anchor="end" fill="#333" stroke="#333" stroke-width="0.22">0.3</text>
<text x="33.4" y="345.7" font-size="4.8" text-anchor="end" fill="#333" stroke="#333" stroke-width="0.22">0.2</text>
<text x="33.4" y="364.9" font-size="4.8" text-anchor="end" fill="#333" stroke="#333" stroke-width="0.22">0.1</text>
<text x="33.4" y="384.4" font-size="4.8" text-anchor="end" fill="#333" stroke="#333" stroke-width="0.22">0.0</text>
<text x="33.4" y="403.8" font-size="4.8" text-anchor="end" fill="#333" stroke="#333" stroke-width="0.22">-0.1</text>
<text x="33.4" y="423.3" font-size="4.8" text-anchor="end" fill="#333" stroke="#333" stroke-width="0.22">-0.2</text>
<text x="20.6" y="365" font-size="6" text-anchor="middle" fill="#333" stroke="#333" stroke-width="0.22" textLength="51" lengthAdjust="spacingAndGlyphs" transform="rotate(-90 20.6 365)">Δ<tspan font-style="italic">r</tspan><tspan font-size="4.0" font-style="italic">red</tspan> (core-circuit)</text>
<text x="43.5" y="433.2" font-size="4.6" text-anchor="middle" fill="#333" stroke="#333" stroke-width="0.22">-4</text>
<text x="75.4" y="434.2" font-size="4.6" text-anchor="middle" fill="#333" stroke="#333" stroke-width="0.22">-2</text>
<text x="108.8" y="435.2" font-size="4.6" text-anchor="middle" fill="#333" stroke="#333" stroke-width="0.22">0</text>
<text x="141.5" y="436.4" font-size="4.6" text-anchor="middle" fill="#333" stroke="#333" stroke-width="0.22">2</text>
<text x="175.4" y="437.4" font-size="4.6" text-anchor="middle" fill="#333" stroke="#333" stroke-width="0.22">4</text>
<text x="120.6" y="446.6" font-size="6.4" text-anchor="middle" fill="#333" stroke="#333" stroke-width="0.22">PC1</text>
<text x="203.5" y="433.5" font-size="3.9" text-anchor="middle" fill="#333" stroke="#333" stroke-width="0.22">3</text>
<text x="207.5" y="429.5" font-size="3.9" text-anchor="middle" fill="#333" stroke="#333" stroke-width="0.22">2</text>
<text x="211.5" y="425" font-size="3.9" text-anchor="middle" fill="#333" stroke="#333" stroke-width="0.22">1</text>
<text x="215.5" y="420.5" font-size="3.9" text-anchor="middle" fill="#333" stroke="#333" stroke-width="0.22">0</text>
<text x="218.8" y="416.5" font-size="3.9" text-anchor="middle" fill="#333" stroke="#333" stroke-width="0.22">-1</text>
<text x="222.5" y="412.5" font-size="3.9" text-anchor="middle" fill="#333" stroke="#333" stroke-width="0.22">-2</text>
<text x="225.6" y="427.6" font-size="6.4" text-anchor="middle" fill="#333" stroke="#333" stroke-width="0.22" transform="rotate(-6 225.6 427.6)">PC2</text>
<text x="42.8" y="312.3" font-size="6.6" fill="#333" stroke="#333" stroke-width="0.22">TGFβ-OFF</text>
<polygon points="140,331 213,328.5 209,348.5 180,352 150,354.5" fill="#c6d3e6" stroke="none" stroke-width="0.5" opacity="0.9"/>
<path d="M66.7 328h0M78.4 324.9h0M74.3 336.6h0M57.1 342.3h0M56.3 339.3h0M70.3 355.1h0M59.5 330.9h0M75.8 337.9h0M85.9 333.6h0M66.1 354.6h0M61.5 345.3h0M78 336.9h0M74.7 324.5h0M79.5 339.1h0M66.3 345.4h0M71.3 334h0M83.6 350h0M63.8 345h0M81.3 333.5h0M70.1 352.3h0M60.5 341.6h0M56.4 348.7h0M82.5 344.9h0M86.5 334.5h0M80 345.8h0M75.9 340.2h0M72.1 348.6h0M57.2 350.1h0M84.6 333.4h0M68.9 348.7h0M55.8 340.5h0M57.1 352.7h0M59.7 331.9h0M57.9 340h0M65 338.6h0M61.3 331.3h0M63.4 341.4h0M76.2 332.5h0M55.1 338.8h0M68.3 344.7h0M73.6 346.7h0M79.3 324.2h0M69.1 338h0M58.7 347.4h0M62.5 328.5h0M67.2 324.1h0M58.7 336.5h0M55.9 357h0M77.1 327.9h0M64.1 335.9h0M68.1 326.9h0M71.8 341.4h0M67.3 332.6h0M84.8 328.5h0M55.8 360h0M74 327.9h0M74.6 323.1h0M64.4 336.7h0M61 352.9h0M74.2 353.2h0M66.9 330.9h0M63.2 342.7h0M56 333.2h0M64.3 349.7h0M89.4 339.9h0M89.4 336.6h0M62.9 331.1h0M62.1 330.2h0M85.3 341.2h0M58.1 348.4h0M82 341.1h0M61.4 353.6h0M67 354h0M90 337.8h0M81.1 328.8h0M60.3 355.1h0M67.6 343.9h0M90 348h0M84.7 330.4h0M64.1 333.7h0M63.7 345.5h0M64.3 338.8h0M59.7 358.4h0M67.7 340.3h0M73.1 343.3h0M73.8 322.7h0M70.8 329.3h0M55.1 354h0M61.2 340.9h0M81.1 344.3h0M66.7 342.7h0M75 353.4h0M58.8 344.4h0M63.9 333.1h0M82.8 342.3h0M75.2 352.4h0M87.8 339.7h0M77.1 342.2h0M73.4 349.7h0M71.3 343.3h0M85.2 327.5h0M59.4 339.7h0M57.6 331.6h0M57.6 348.8h0M60.6 350.6h0M78.8 327.7h0M62.9 360.1h0M69.3 341.5h0M60.8 339.3h0M73.6 335.6h0" stroke="#9c1d4f" stroke-width="5.1" stroke-linecap="round" fill="none"/>
<path d="M56.4 353.6h0M60.1 345.5h0M58.9 356.9h0M59.4 358.8h0M60.5 371.2h0M55.7 352.2h0M56.9 348.5h0M58 369.6h0M60.7 352h0M56 369.8h0M59 363.9h0M55.6 346.6h0" stroke="#9c1d4f" stroke-width="5.1" stroke-linecap="round" fill="none"/>
<circle cx="61" cy="366" r="2.55" fill="#9c1d4f"/>
<circle cx="61.5" cy="371.5" r="2.55" fill="#9c1d4f"/>
<circle cx="59.2" cy="376" r="2.55" fill="#9c1d4f"/>
<circle cx="59.5" cy="384.5" r="2.55" fill="#c0577c"/>
<circle cx="64.5" cy="386" r="2.55" fill="#c0577c"/>
<circle cx="74.6" cy="377.3" r="2.55" fill="#9c1d4f"/>
<circle cx="76" cy="381" r="2.55" fill="#c0577c"/>
<circle cx="58.5" cy="392" r="2.55" fill="#c0577c"/>
<circle cx="60" cy="411" r="2.55" fill="#c0577c"/>
<circle cx="85.2" cy="319.6" r="2.55" fill="#c0577c"/>
<circle cx="85.5" cy="322.8" r="2.55" fill="#c0577c"/>
<circle cx="92" cy="317.3" r="2.55" fill="#c0577c"/>
<circle cx="92.2" cy="320.5" r="2.55" fill="#c0577c"/>
<circle cx="100.5" cy="318" r="2.55" fill="#f2c060"/>
<circle cx="100.8" cy="320.4" r="2.55" fill="#f2c060"/>
<path d="M120.3 330.1h0M93.2 339.8h0M117.9 337.2h0M93.7 338.3h0M92.9 338.4h0M110 328.4h0M114.3 339.6h0M101.8 324.5h0M113.2 326.5h0M94.8 325.1h0M103.7 327.8h0M123.4 327.5h0M112 325.4h0M101 322.3h0M122.3 332.5h0M98.3 331h0M126 330.2h0M111.8 337.9h0M107.3 331.6h0M105.1 337.8h0M121.1 334.1h0M107.8 328.6h0M93.1 336.1h0M101.2 325.1h0M93.7 338h0M128.3 334.7h0M102.4 326.6h0M102.9 330.7h0M96.9 330.5h0M101.6 340.3h0M132.8 332.4h0M100.8 340.3h0M103.6 328.8h0M90 329.3h0M110.9 331.6h0M98.8 331.6h0M90.2 327h0M93.9 329.6h0M103.4 326.4h0M115.8 332.1h0M123 334.5h0M121.5 338.7h0M107.1 328.2h0M121.9 334.2h0M91.9 337.9h0M129.2 333.9h0M122.3 337.4h0M96.1 332h0M112.2 337.9h0M125.4 337.7h0M115.7 339h0M120 335.2h0M100.1 322.6h0M95.9 328.9h0M94.6 337.9h0M114.6 333.9h0M117.6 334.9h0M125.1 336.2h0M112.1 332.2h0M119 323.3h0M122.4 326.8h0M93.3 327h0M122.1 325.9h0M111.7 329.3h0M111.1 335h0M123.7 333.7h0M118.3 323.5h0M96.5 326.8h0M122.7 327.8h0M92.7 327.1h0M119.6 335.2h0M119.7 327.5h0M112.7 330.8h0M110.5 324.3h0M129.3 325.8h0M90.8 330.7h0M109.8 327.1h0M99.2 340h0M99.3 333h0M96.2 332h0M126.1 331.7h0M129 335.4h0M100.2 339.1h0M90.2 331.3h0M109.8 327.7h0M96.2 328.5h0M103.9 338h0M90.1 336.3h0M126.9 324.3h0M129.7 327.5h0" stroke="#ef9b33" stroke-width="5.1" stroke-linecap="round" fill="none"/>
<path d="M108.6 345.9h0M108 346.6h0M104.3 356.7h0M102.5 343.3h0M115.5 341.8h0M108.7 357.1h0M126 339h0M126.6 347h0M127.6 350.9h0M136.3 340.5h0M113.6 344.9h0M104.9 352.8h0M122.8 344h0M117.9 345.9h0M98.4 341.2h0M100.4 356.1h0M114.9 342.4h0M112.5 340.8h0M99.6 339.8h0M107.1 339.8h0M102 343.2h0M118.5 355.7h0M127.5 346.3h0M110.7 348.5h0M108.8 344.8h0M93.1 343.6h0M115.2 350.6h0M133.1 342.3h0M103.6 343h0M110 346.9h0M133.6 338.4h0M134.8 347.5h0M109.6 356.5h0M95.5 341.1h0M116.1 351.6h0M122.4 353.3h0M112.9 349h0M101.6 356.4h0M122.3 344.1h0M96.4 343h0M121.8 352h0M116.2 349.7h0M109.4 342.5h0M105.1 347.2h0M134.2 347.5h0M101.7 342.9h0M114.9 351.5h0M111 343.1h0M106.9 346.4h0M124.1 342h0M115.2 342.1h0M138.5 344.2h0M131 342.6h0M101.1 353.2h0M104.7 357h0M114.8 341.7h0M101.2 346.3h0M97.3 345.9h0M100.6 357.5h0M93 345.9h0M136.6 344.6h0M99.3 356.7h0M127.3 338.6h0M123.2 345.6h0M108.7 344.6h0M104 345h0M107.8 354.4h0M131.1 346.6h0M92.5 347.5h0M108.6 356.4h0M99.7 345.3h0M134.8 338.6h0M110.5 354.2h0M128.3 338.8h0M136 343.1h0M107 343.4h0M103.1 352.3h0M105.8 343.5h0M101.7 347.5h0M109.3 343h0" stroke="#e39030" stroke-width="5.1" stroke-linecap="round" fill="none"/>
<path d="M130 307.9h0M140.5 302.9h0M137.9 311.8h0M138.3 312.4h0M133.8 305.2h0M127.7 305.8h0M137.4 301.3h0M125.1 312h0M121.7 308.8h0M126.6 301.3h0M123 308h0M135.9 307.2h0M125.9 306.7h0M134 310.8h0M136.7 313.6h0M135 301.9h0M138.7 304.7h0M132.9 306h0M136.5 303.2h0M126.2 303.9h0M133.1 305.2h0M131.7 303.7h0M138 310.5h0M131 313.1h0M138.7 314.6h0M121.8 304.7h0M123.5 303h0M141.4 309.3h0M140.5 306h0M139.2 307.2h0M126.5 312.4h0M133.5 309.9h0M125.6 305.9h0M124 303.3h0M126.4 309.6h0" stroke="#ef9b33" stroke-width="5.1" stroke-linecap="round" fill="none"/>
<path d="M113.3 301.2h0M112 302h0M113.4 301.1h0" stroke="#ef9b33" stroke-width="5.1" stroke-linecap="round" fill="none"/>
<path d="M139.6 326.1h0M148.3 333h0M135.1 324h0M141.1 333h0M145.5 323.8h0M136.9 335.9h0M141.4 327.7h0M139.5 341.1h0M139.6 333.3h0M140.4 330.3h0M140.5 325.9h0M147.1 326.1h0M141.6 338.4h0M141.3 339.7h0M142.3 325.3h0M145.5 340.2h0M135.6 334.4h0M140.7 332.1h0M136.6 327.7h0M143.4 340.5h0" stroke="#ef9b33" stroke-width="5.1" stroke-linecap="round" fill="none"/>
<circle cx="95.8" cy="371.5" r="2.55" fill="#ef9b33"/>
<circle cx="98.5" cy="374.5" r="2.55" fill="#ef9b33"/>
<circle cx="107.3" cy="370.6" r="2.55" fill="#ef9b33"/>
<circle cx="104" cy="374.5" r="2.55" fill="#ef9b33"/>
<circle cx="130.4" cy="367.7" r="2.55" fill="#ef9b33"/>
<circle cx="134.5" cy="365" r="2.55" fill="#ef9b33"/>
<circle cx="136" cy="362" r="2.55" fill="#ef9b33"/>
<circle cx="115" cy="373.5" r="2.55" fill="#ef9b33"/>
<circle cx="118" cy="370.5" r="2.55" fill="#ef9b33"/>
<path d="M149 343.1h0M181 360.8h0M153.1 329.7h0M185.6 348h0M162.6 356.3h0M154 339.8h0M167.8 339.2h0M149.7 334.1h0M177.3 358.2h0M171.6 345.4h0M172.8 336.3h0M163.3 346.6h0M163.6 349.4h0M164.6 341.2h0M166.5 333.7h0M179.1 353.9h0M165.1 331.6h0M165.8 329h0M149.9 340.9h0M148.2 341.4h0M177.7 353.8h0M167.2 339h0M177.7 355.2h0M180.3 359.4h0M147 338h0M153.6 334.7h0M167.3 336.8h0M145.7 331.7h0M175.3 358.1h0M149.3 344.6h0M173.3 338.3h0M184.2 345.5h0M170.7 357.7h0M173 339.6h0M189.6 346.4h0M160.6 353.3h0M164.3 331.5h0M171 349.6h0M145.6 330.5h0M172.3 341h0M167.6 358.1h0M150.1 333.4h0M148.9 338.2h0M154.3 346.6h0M171.1 332.6h0M172.7 342.6h0M155.2 330.5h0M148.4 348.6h0M184.1 353.9h0M162.5 334.8h0M169.9 338h0M173.7 341.4h0M187.1 352.1h0M146 344.7h0M162.7 333.8h0M153.2 347.5h0M167.3 348.7h0M158.2 336.1h0M180 351.5h0M178.3 342.2h0M178.1 341.7h0M154.4 328.9h0M154.7 326.4h0M159.4 352.7h0M176 356.3h0M176.7 334.8h0M169.5 341.1h0M180.3 344.4h0M156.2 348.8h0M156 333.7h0M178.2 360h0M178.3 337.1h0M173 350.6h0M165.6 356.1h0M176.1 356.7h0M164.1 351.8h0M170.2 336.4h0M153.8 348h0M159.9 330.2h0M175.9 348.5h0M176.1 352.3h0M147 346.8h0M160.7 355.2h0M181.7 358h0M148.9 332.6h0M183 355h0M173.2 355.5h0M173.1 335.6h0M148.6 328.6h0M158.7 340.7h0M145 334.5h0M157 351.5h0M160.9 336.9h0M188.3 343.6h0M183.2 347.9h0M145.4 340.3h0M164.1 353.6h0M160 351.1h0M168.7 333h0M179.1 361.2h0M166.6 354.5h0M152.5 343.3h0M160 355.8h0M157.1 332.9h0M176.2 343.4h0M149.1 348.6h0M176.1 354.1h0M172.9 338.2h0M162.5 339.6h0M153.5 334.7h0" stroke="#21a064" stroke-width="5.1" stroke-linecap="round" fill="none"/>
<circle cx="155" cy="311" r="2.55" fill="#21a064"/>
<circle cx="155" cy="314.5" r="2.55" fill="#21a064"/>
<circle cx="155" cy="318" r="2.55" fill="#21a064"/>
<path d="M204.4 368h0M185.7 377.2h0M180.4 367.1h0M191.1 374.1h0M199.1 371.5h0M184.5 363.8h0M177.6 376.2h0M195.8 373.8h0M178.1 366.5h0M199.8 369.9h0M176.5 367.1h0M203.9 361.7h0M178.9 363.2h0M197.3 376.2h0M177.6 359.7h0M180.9 363.8h0M190.8 359.9h0M183.8 360.5h0M175.7 365.2h0M198.4 366.4h0M179.1 371.3h0M175.8 361h0M186 356.8h0M186.4 375h0M197 368h0M194.8 367.1h0M177.1 370.5h0M186.6 373.8h0M204.7 366.3h0M192.7 374h0M187.2 361.5h0M198 377.1h0M199.9 372.8h0M202.7 372.3h0M195.1 366.9h0M183.3 371.1h0M175.5 366.1h0M200.2 373.1h0M194.7 362h0M187.2 366.9h0M194.4 365.8h0M196.3 378.3h0M178.6 371.7h0M200 365.3h0M189.6 379.4h0" stroke="#21a064" stroke-width="5.1" stroke-linecap="round" fill="none"/>
<path d="M180.5 377.6h0M202.3 372.4h0M178.8 373.5h0M191.1 376.3h0M190.3 374.8h0M199.2 372.4h0M181.9 375.7h0M187 377.3h0M186 363.1h0M183.7 370h0M187.8 376h0M185.9 367.3h0M182.3 376.8h0M202.3 372.5h0M182.1 378h0M187 366.2h0M179.6 377.5h0M198.7 374.7h0M189.1 373.2h0M185.9 374.8h0M198.9 378.3h0M189.1 367.9h0M191.4 364.5h0M199.3 369.1h0M199.8 367.3h0M186.5 367.1h0M187.9 365.7h0M183.9 366.9h0M184.5 371.6h0M188 374.7h0M194.5 369.2h0M201.4 377.7h0M179.9 378.6h0M193.7 362.3h0M194.4 367h0" stroke="#98d18a" stroke-width="5.1" stroke-linecap="round" fill="none"/>
<path d="M195 381h0M195.5 394.3h0M196 381.2h0M198.2 394.6h0M195.3 396.7h0M197 394.4h0M197.3 396.8h0M197.8 395.6h0M195.4 392.5h0M196.7 393.6h0M196.4 396.5h0M196.8 383.6h0M195.5 380.9h0M196.6 379.2h0" stroke="#98d18a" stroke-width="4.6" stroke-linecap="round" fill="none"/>
<circle cx="160.8" cy="372.9" r="2.6" fill="#9fc8a8"/>
<polygon points="53,334.5 91,340.5 91,345.5 56,350.5" fill="#5a0a2a" stroke="none" stroke-width="0.5" opacity="0.18"/>
<line x1="53" y1="335.5" x2="91" y2="340.8" stroke="#f3c6d6" stroke-width="0.6" opacity="0.85"/>
<line x1="53" y1="339.4" x2="91" y2="342.1" stroke="#f3c6d6" stroke-width="0.6" opacity="0.85"/>
<line x1="53" y1="343.3" x2="91" y2="343.4" stroke="#f3c6d6" stroke-width="0.6" opacity="0.85"/>
<line x1="53" y1="347.2" x2="91" y2="344.7" stroke="#f3c6d6" stroke-width="0.6" opacity="0.85"/>
<line x1="56" y1="334.5" x2="63" y2="350.5" stroke="#f3c6d6" stroke-width="0.6" opacity="0.85"/>
<line x1="63.5" y1="334.2" x2="70.5" y2="348.9" stroke="#f3c6d6" stroke-width="0.6" opacity="0.85"/>
<line x1="71" y1="333.9" x2="78" y2="347.3" stroke="#f3c6d6" stroke-width="0.6" opacity="0.85"/>
<line x1="78.5" y1="333.6" x2="85.5" y2="345.7" stroke="#f3c6d6" stroke-width="0.6" opacity="0.85"/>
<line x1="86" y1="333.3" x2="93" y2="344.1" stroke="#f3c6d6" stroke-width="0.6" opacity="0.85"/>
<polygon points="91,340.8 120,333.5 150,329.5 150,353.5 120,350 91,344.7" fill="#8a5010" stroke="none" stroke-width="0.5" opacity="0.14"/>
<polyline points="91,340.8 120,333.5 150,329.5" fill="none" stroke="#fbe9bd" stroke-width="0.6" opacity="0.8"/>
<polyline points="150,329.5 180,328.2 213,328.5" fill="none" stroke="#e6f7ee" stroke-width="0.6" opacity="0.8"/>
<polyline points="91,341.77 120,337.62 150,335.5" fill="none" stroke="#fbe9bd" stroke-width="0.6" opacity="0.8"/>
<polyline points="150,335.5 180,334.15 213,333.5" fill="none" stroke="#e6f7ee" stroke-width="0.6" opacity="0.8"/>
<polyline points="91,342.75 120,341.75 150,341.5" fill="none" stroke="#fbe9bd" stroke-width="0.6" opacity="0.8"/>
<polyline points="150,341.5 180,340.1 213,338.5" fill="none" stroke="#e6f7ee" stroke-width="0.6" opacity="0.8"/>
<polyline points="91,343.73 120,345.88 150,347.5" fill="none" stroke="#fbe9bd" stroke-width="0.6" opacity="0.8"/>
<polyline points="150,347.5 180,346.05 213,343.5" fill="none" stroke="#e6f7ee" stroke-width="0.6" opacity="0.8"/>
<polyline points="91,344.7 120,350 150,353.5" fill="none" stroke="#fbe9bd" stroke-width="0.6" opacity="0.8"/>
<polyline points="150,353.5 180,352 213,348.5" fill="none" stroke="#e6f7ee" stroke-width="0.6" opacity="0.8"/>
<line x1="93.5" y1="345.16" x2="100.5" y2="338.41" stroke="#fbe9bd" stroke-width="0.6" opacity="0.8"/>
<line x1="101.5" y1="346.62" x2="108.5" y2="336.39" stroke="#fbe9bd" stroke-width="0.6" opacity="0.8"/>
<line x1="109.5" y1="348.08" x2="116.5" y2="334.38" stroke="#fbe9bd" stroke-width="0.6" opacity="0.8"/>
<line x1="117.5" y1="349.54" x2="124.5" y2="332.9" stroke="#fbe9bd" stroke-width="0.6" opacity="0.8"/>
<line x1="125.5" y1="350.64" x2="132.5" y2="331.83" stroke="#fbe9bd" stroke-width="0.6" opacity="0.8"/>
<line x1="133.5" y1="351.57" x2="140.5" y2="330.77" stroke="#fbe9bd" stroke-width="0.6" opacity="0.8"/>
<line x1="141.5" y1="352.51" x2="148.5" y2="329.7" stroke="#d9f5e4" stroke-width="0.6" opacity="0.8"/>
<line x1="149.5" y1="353.44" x2="156.5" y2="329.22" stroke="#d9f5e4" stroke-width="0.6" opacity="0.8"/>
<line x1="157.5" y1="353.12" x2="164.5" y2="328.87" stroke="#d9f5e4" stroke-width="0.6" opacity="0.8"/>
<line x1="165.5" y1="352.73" x2="172.5" y2="328.52" stroke="#d9f5e4" stroke-width="0.6" opacity="0.8"/>
<line x1="173.5" y1="352.32" x2="180.5" y2="328.2" stroke="#d9f5e4" stroke-width="0.6" opacity="0.8"/>
<line x1="181.5" y1="351.82" x2="188.5" y2="328.28" stroke="#d9f5e4" stroke-width="0.6" opacity="0.8"/>
<line x1="189.5" y1="350.85" x2="196.5" y2="328.35" stroke="#d9f5e4" stroke-width="0.6" opacity="0.8"/>
<line x1="197.5" y1="349.89" x2="204.5" y2="328.42" stroke="#d9f5e4" stroke-width="0.6" opacity="0.8"/>
<line x1="205.5" y1="348.92" x2="212.5" y2="328.5" stroke="#d9f5e4" stroke-width="0.6" opacity="0.8"/>
<circle cx="185" cy="395.4" r="7.3" fill="none" stroke="#6a2030" stroke-width="0.65" stroke-dasharray="0.9 0.9"/>
<circle cx="185" cy="395.4" r="3" fill="#21a064"/>
<circle cx="197" cy="383.3" r="7.8" fill="none" stroke="#b04048" stroke-width="0.6" stroke-dasharray="0.9 0.9"/>
<circle cx="183.3" cy="366.5" r="6.5" fill="none" stroke="#903040" stroke-width="0.5" stroke-dasharray="0.9 0.9"/>
<path d="M178.5 393.5 C166 392 162 380 170.5 371.5" fill="none" stroke="#111" stroke-width="0.8"/>
<polygon points="172.2,369.6 168.6,371.2 171.4,373.4" fill="#111"/>
<path d="M188.4 357.3 C198 354.5 204 364 199.8 374" fill="none" stroke="#111" stroke-width="0.8"/>
<polygon points="199.2,376.2 197.8,372.6 201.6,373.6" fill="#111"/>
<text x="151" y="390" font-size="6.4" fill="#222" stroke="#222" stroke-width="0.22" transform="rotate(35 151 390)">* SMAD4 (-)</text>
<text x="192" y="353.6" font-size="6.4" fill="#222" stroke="#222" stroke-width="0.22" transform="rotate(22 192 353.6)">ERK (-)</text>
<polygon points="188.7,348.6 187.4,351.2 190.2,350.9" fill="#111"/>
<rect x="75.2" y="385.2" width="25.3" height="34.4" fill="white" stroke="#555" stroke-width="0.5" opacity="0.95"/>
<circle cx="80.4" cy="390.6" r="2.6" fill="#98d18a"/>
<text x="84.2" y="392.5" font-size="5.4" fill="#333" stroke="#333" stroke-width="0.22">Epi</text>
<circle cx="80.4" cy="398.5" r="2.6" fill="#21a064"/>
<text x="84.2" y="400.4" font-size="5.4" fill="#333" stroke="#333" stroke-width="0.22">Epi/H</text>
<circle cx="80.4" cy="406.4" r="2.6" fill="#f3c07a"/>
<text x="84.2" y="408.3" font-size="5.4" fill="#333" stroke="#333" stroke-width="0.22">H</text>
<circle cx="80.4" cy="414.3" r="2.6" fill="#9c1d4f"/>
<text x="84.2" y="416.2" font-size="5.4" fill="#333" stroke="#333" stroke-width="0.22">Mes</text>
<line x1="38.75" y1="478.6" x2="80" y2="467.1" stroke="#e2e2e2" stroke-width="0.5"/>
<line x1="38.75" y1="502.9" x2="80" y2="491.4" stroke="#e2e2e2" stroke-width="0.5"/>
<line x1="38.75" y1="526.9" x2="80" y2="515.4" stroke="#e2e2e2" stroke-width="0.5"/>
<line x1="38.75" y1="551.3" x2="80" y2="539.8" stroke="#e2e2e2" stroke-width="0.5"/>
<line x1="38.75" y1="575.1" x2="80" y2="563.6" stroke="#e2e2e2" stroke-width="0.5"/>
<line x1="47" y1="465.2" x2="47" y2="584.95" stroke="#e2e2e2" stroke-width="0.5"/>
<line x1="55" y1="462.97" x2="55" y2="581.27" stroke="#e2e2e2" stroke-width="0.5"/>
<line x1="63" y1="460.74" x2="63" y2="577.58" stroke="#e2e2e2" stroke-width="0.5"/>
<line x1="71.5" y1="458.37" x2="71.5" y2="573.67" stroke="#e2e2e2" stroke-width="0.5"/>
<line x1="80" y1="470.4" x2="226" y2="471.4" stroke="#e2e2e2" stroke-width="0.5"/>
<line x1="80" y1="490.6" x2="226" y2="491.6" stroke="#e2e2e2" stroke-width="0.5"/>
<line x1="80" y1="510.8" x2="226" y2="511.8" stroke="#e2e2e2" stroke-width="0.5"/>
<line x1="80" y1="531" x2="226" y2="532" stroke="#e2e2e2" stroke-width="0.5"/>
<line x1="80" y1="551" x2="226" y2="552" stroke="#e2e2e2" stroke-width="0.5"/>
<line x1="96" y1="457" x2="96" y2="569" stroke="#e2e2e2" stroke-width="0.5"/>
<line x1="112" y1="457" x2="112" y2="569" stroke="#e2e2e2" stroke-width="0.5"/>
<line x1="128.5" y1="457" x2="128.5" y2="569" stroke="#e2e2e2" stroke-width="0.5"/>
<line x1="149.2" y1="457" x2="149.2" y2="569" stroke="#e2e2e2" stroke-width="0.5"/>
<line x1="165.6" y1="457" x2="165.6" y2="569" stroke="#e2e2e2" stroke-width="0.5"/>
<line x1="182" y1="457" x2="182" y2="569" stroke="#e2e2e2" stroke-width="0.5"/>
<line x1="198.3" y1="457" x2="198.3" y2="569" stroke="#e2e2e2" stroke-width="0.5"/>
<line x1="214.6" y1="457" x2="214.6" y2="569" stroke="#e2e2e2" stroke-width="0.5"/>
<line x1="40" y1="588.75" x2="201.5" y2="594" stroke="#e2e2e2" stroke-width="0.5"/>
<line x1="48" y1="584.94" x2="205.4" y2="589.5" stroke="#e2e2e2" stroke-width="0.5"/>
<line x1="56" y1="581.13" x2="209.3" y2="585" stroke="#e2e2e2" stroke-width="0.5"/>
<line x1="64" y1="577.32" x2="213.2" y2="580.5" stroke="#e2e2e2" stroke-width="0.5"/>
<line x1="72" y1="573.51" x2="217.1" y2="576" stroke="#e2e2e2" stroke-width="0.5"/>
<line x1="80" y1="569.7" x2="221" y2="571.5" stroke="#e2e2e2" stroke-width="0.5"/>
<line x1="40" y1="588.75" x2="80" y2="569.7" stroke="#e2e2e2" stroke-width="0.5"/>
<line x1="60.19" y1="589.41" x2="97.62" y2="569.93" stroke="#e2e2e2" stroke-width="0.5"/>
<line x1="80.38" y1="590.06" x2="115.25" y2="570.15" stroke="#e2e2e2" stroke-width="0.5"/>
<line x1="100.56" y1="590.72" x2="132.88" y2="570.38" stroke="#e2e2e2" stroke-width="0.5"/>
<line x1="120.75" y1="591.38" x2="150.5" y2="570.6" stroke="#e2e2e2" stroke-width="0.5"/>
<line x1="140.94" y1="592.03" x2="168.12" y2="570.83" stroke="#e2e2e2" stroke-width="0.5"/>
<line x1="161.12" y1="592.69" x2="185.75" y2="571.05" stroke="#e2e2e2" stroke-width="0.5"/>
<line x1="181.31" y1="593.34" x2="203.38" y2="571.28" stroke="#e2e2e2" stroke-width="0.5"/>
<line x1="201.5" y1="594" x2="221" y2="571.5" stroke="#e2e2e2" stroke-width="0.5"/>
<line x1="38.75" y1="467.5" x2="38.75" y2="588.75" stroke="#c8c8c8" stroke-width="0.6"/>
<line x1="38.75" y1="467.5" x2="80" y2="456" stroke="#e0e0e0" stroke-width="0.5"/>
<line x1="80" y1="456" x2="226" y2="458" stroke="#e8e8e8" stroke-width="0.5"/>
<line x1="40" y1="588.75" x2="201.5" y2="594" stroke="#b8b8b8" stroke-width="0.6"/>
<line x1="201.5" y1="594" x2="221" y2="571.5" stroke="#b8b8b8" stroke-width="0.6"/>
<text x="33.6" y="480.4" font-size="4.8" text-anchor="end" fill="#333" stroke="#333" stroke-width="0.22">0.2</text>
<text x="33.6" y="504.7" font-size="4.8" text-anchor="end" fill="#333" stroke="#333" stroke-width="0.22">0.0</text>
<text x="33.6" y="528.7" font-size="4.8" text-anchor="end" fill="#333" stroke="#333" stroke-width="0.22">-0.2</text>
<text x="33.6" y="553.1" font-size="4.8" text-anchor="end" fill="#333" stroke="#333" stroke-width="0.22">-0.4</text>
<text x="33.6" y="576.9" font-size="4.8" text-anchor="end" fill="#333" stroke="#333" stroke-width="0.22">-0.6</text>
<text x="22.6" y="525.2" font-size="6" text-anchor="middle" fill="#333" stroke="#333" stroke-width="0.22" textLength="48" lengthAdjust="spacingAndGlyphs" transform="rotate(-90 22.6 525.2)">Δ<tspan font-style="italic">r</tspan><tspan font-size="4.0" font-style="italic">red</tspan> (core-circuit)</text>
<text x="59" y="598.6" font-size="4.6" text-anchor="middle" fill="#333" stroke="#333" stroke-width="0.22">0</text>
<text x="77" y="599.3" font-size="4.6" text-anchor="middle" fill="#333" stroke="#333" stroke-width="0.22">2</text>
<text x="94" y="600" font-size="4.6" text-anchor="middle" fill="#333" stroke="#333" stroke-width="0.22">4</text>
<text x="112.5" y="600.6" font-size="4.6" text-anchor="middle" fill="#333" stroke="#333" stroke-width="0.22">6</text>
<text x="131" y="601.2" font-size="4.6" text-anchor="middle" fill="#333" stroke="#333" stroke-width="0.22">8</text>
<text x="150" y="601.8" font-size="4.6" text-anchor="middle" fill="#333" stroke="#333" stroke-width="0.22">10</text>
<text x="168.5" y="602.5" font-size="4.6" text-anchor="middle" fill="#333" stroke="#333" stroke-width="0.22">12</text>
<text x="187.5" y="603.2" font-size="4.6" text-anchor="middle" fill="#333" stroke="#333" stroke-width="0.22">14</text>
<text x="113.5" y="608.6" font-size="6.4" text-anchor="middle" fill="#333" stroke="#333" stroke-width="0.22">PC1</text>
<text x="206.5" y="600" font-size="3.9" text-anchor="middle" fill="#333" stroke="#333" stroke-width="0.22">8</text>
<text x="209.5" y="596.5" font-size="3.9" text-anchor="middle" fill="#333" stroke="#333" stroke-width="0.22">6</text>
<text x="212.8" y="593.2" font-size="3.9" text-anchor="middle" fill="#333" stroke="#333" stroke-width="0.22">4</text>
<text x="216" y="589.8" font-size="3.9" text-anchor="middle" fill="#333" stroke="#333" stroke-width="0.22">2</text>
<text x="219.2" y="586.4" font-size="3.9" text-anchor="middle" fill="#333" stroke="#333" stroke-width="0.22">0</text>
<text x="222.3" y="583" font-size="3.9" text-anchor="middle" fill="#333" stroke="#333" stroke-width="0.22">-2</text>
<text x="225.5" y="579.5" font-size="3.9" text-anchor="middle" fill="#333" stroke="#333" stroke-width="0.22">-4</text>
<text x="228.5" y="596" font-size="6.4" text-anchor="middle" fill="#333" stroke="#333" stroke-width="0.22" transform="rotate(-6 228.5 596)">PC2</text>
<text x="42.4" y="474.2" font-size="6.6" fill="#333" stroke="#333" stroke-width="0.22">TGFβ-ON</text>
<path d="M146 494 C172 496 190 512 194 550" fill="none" stroke="#eeb0ae" stroke-width="0.6" opacity="0.35"/>
<path d="M146.46 494.31 C172.31 496.15 190.46 512.15 195.23 549.69" fill="none" stroke="#eeb0ae" stroke-width="0.6" opacity="0.35"/>
<path d="M146.92 494.62 C172.62 496.31 190.92 512.31 196.46 549.38" fill="none" stroke="#eeb0ae" stroke-width="0.6" opacity="0.35"/>
<path d="M147.38 494.92 C172.92 496.46 191.38 512.46 197.69 549.08" fill="none" stroke="#eeb0ae" stroke-width="0.6" opacity="0.35"/>
<path d="M147.85 495.23 C173.23 496.62 191.85 512.62 198.92 548.77" fill="none" stroke="#eeb0ae" stroke-width="0.6" opacity="0.35"/>
<path d="M148.31 495.54 C173.54 496.77 192.31 512.77 200.15 548.46" fill="none" stroke="#eeb0ae" stroke-width="0.6" opacity="0.35"/>
<path d="M148.77 495.85 C173.85 496.92 192.77 512.92 201.38 548.15" fill="none" stroke="#eeb0ae" stroke-width="0.6" opacity="0.35"/>
<path d="M149.23 496.15 C174.15 497.08 193.23 513.08 202.62 547.85" fill="none" stroke="#eeb0ae" stroke-width="0.6" opacity="0.35"/>
<path d="M149.69 496.46 C174.46 497.23 193.69 513.23 203.85 547.54" fill="none" stroke="#eeb0ae" stroke-width="0.6" opacity="0.35"/>
<path d="M150.15 496.77 C174.77 497.38 194.15 513.38 205.08 547.23" fill="none" stroke="#eeb0ae" stroke-width="0.6" opacity="0.35"/>
<path d="M150.62 497.08 C175.08 497.54 194.62 513.54 206.31 546.92" fill="none" stroke="#eeb0ae" stroke-width="0.6" opacity="0.35"/>
<path d="M151.08 497.38 C175.38 497.69 195.08 513.69 207.54 546.62" fill="none" stroke="#eeb0ae" stroke-width="0.6" opacity="0.35"/>
<path d="M151.54 497.69 C175.69 497.85 195.54 513.85 208.77 546.31" fill="none" stroke="#eeb0ae" stroke-width="0.6" opacity="0.35"/>
<path d="M152 498 C176 498 196 514 210 546" fill="none" stroke="#eeb0ae" stroke-width="0.6" opacity="0.35"/>
<path d="M84.1 497.9h0M85.1 514h0M74.1 513h0M83.6 500.8h0M87.6 513h0M81.7 494.4h0M87.1 504h0M74.6 502.8h0M88 517h0M80.8 519.2h0M84.5 497.3h0M88.7 503.5h0M80.9 513.9h0M81.5 496.9h0M84.8 509.9h0M78.3 495.1h0M82.7 500.4h0M91 493.8h0M84.3 488h0M84.4 518.9h0M87.4 510.8h0M80.8 490h0M80.1 501.8h0M87 510.5h0M74.8 507.8h0M92.2 500h0M75 489.2h0M92.9 502.8h0M87.5 510.7h0M92.7 502.9h0M86.6 503.6h0M88.3 502.2h0M87.7 496.1h0M77.7 477.6h0M89.9 516.2h0M87.4 492.2h0M90.9 510.6h0M80.2 494.6h0M80.5 494.9h0M87.2 517.1h0M75.1 501h0M74.8 481.2h0M90.6 501.3h0M86.1 517.3h0M77.1 476.7h0M76.5 518.5h0M75.8 514.3h0M76.6 476.8h0M75 510.1h0M88.6 513.6h0M86.9 507.2h0M83.4 517h0M79.2 518.4h0M74.3 504.6h0M80.4 508.1h0M77.4 513.9h0M81.5 501.3h0M83 505.8h0M77 511.1h0M81.4 504.4h0M86.9 494.4h0M81.9 510.6h0M93.4 510.5h0M85.6 488.9h0M75.2 518.9h0M88.4 512.4h0M80.8 502.7h0M94 512.6h0M86.3 489.6h0M82.8 515.1h0M81.7 506.1h0M86.3 515.4h0M82.7 501.8h0M90.7 515h0M74.9 512.7h0M90.6 514.2h0M85.7 488h0M91.4 511.5h0M88 516.2h0M85.4 511.1h0M78.1 509h0M86.4 505.8h0M79.2 509h0M90.2 496.2h0M75.8 511.5h0M85.9 515.5h0M92.1 499h0M83.8 501.9h0M77.9 484.5h0M77.7 506.8h0M81.4 500.8h0M82.3 498.8h0M77.1 478h0M76.2 503.8h0M86.2 491.2h0M74.7 519.6h0M91.8 497.4h0M90 494.7h0M93.4 509.8h0M90.8 518.4h0M79.2 477.7h0M78.1 484h0M75.7 478.2h0M85.4 514.3h0M83.4 517.7h0M86.3 493.5h0M76.5 518.2h0M79.3 500.8h0M87.1 518.1h0M87.7 493.3h0M93.8 519.6h0M78.5 477.7h0M79.2 491.5h0M92.5 515.8h0M90.1 507.2h0M87.3 519.4h0M75.1 482.4h0M89.5 517.3h0M86.1 509.3h0M76.2 490.3h0" stroke="#9c1d4f" stroke-width="4.8" stroke-linecap="round" fill="none"/>
<path d="M124.9 468.4h0M127 474h0M100.7 497h0M134.9 495.5h0M96.4 481.9h0M94.1 496.8h0M133.6 487.5h0M113 478.5h0M132.6 482.8h0M122.3 472.4h0M126.8 485.2h0M96.7 495h0M133.5 478.4h0M97.9 483.2h0M105.9 496h0M92 495.7h0M124.4 474.5h0M114.3 476.9h0M127.5 477.1h0M131.8 478.6h0M133.1 484.3h0M98.8 481.5h0M119.3 472.3h0M98.5 491.9h0M126.7 474.1h0M121.3 483.4h0M121.5 489.9h0M132 486.1h0M127.8 480.7h0M127.2 469.7h0M132 478.4h0M133.6 494.8h0M137.2 482.8h0M98.9 493.8h0M108.7 486.4h0M112.6 484h0M95.4 490.2h0M132.3 494.8h0M106 490h0M109.2 491.3h0M92.2 495.1h0M116.2 484.4h0M102.3 493.3h0M126 474h0M119.6 484.2h0M126.2 471.2h0M135.1 490.2h0M115.2 483.5h0M120.4 494.7h0M96.8 485.8h0M128.6 473.1h0M109.6 481h0M133.5 484.3h0M110 497.2h0M130.2 478.5h0M131.6 496.3h0M132.2 494.3h0M91.8 484h0M122.5 479.3h0M112 483.6h0M140.4 492.1h0M138.7 487.6h0M131.9 495.4h0M123 476.2h0M125 476.5h0M121.9 475.8h0M116.6 481.4h0M105.2 488.1h0M95.4 486.4h0M139.7 483.9h0M93.7 484.9h0M133.5 486.9h0M119.2 488.2h0M99.7 490h0M113.4 485h0M121.5 482.5h0M100.7 483.9h0M109.3 486.2h0M118.5 483.2h0M104.7 491.9h0M135.2 481.6h0M112.3 490.8h0M139.8 490.9h0M107.7 488.9h0M121.7 494.3h0M132.5 484.1h0M128.2 491h0M129.3 482.7h0M130.6 490h0M129.6 486.2h0M119.3 481h0M130.5 495.1h0M121.2 479.8h0M113 482.2h0M127.3 477.1h0M109.7 485.2h0M130.7 494.3h0M115.5 481.8h0M96.7 485.8h0M119.8 470.7h0M133.7 494h0M111.6 496.2h0M118.9 483.4h0M137.8 492h0M116.4 484h0M125.3 480.1h0M108 486.4h0M107.6 497.4h0M124.9 484.3h0M110.2 485.4h0M119.4 495.3h0M112.3 487.4h0M117.1 493.3h0M140.9 493.6h0M136.4 489.4h0M136.1 481h0M116.1 483.7h0M122.4 486.7h0M122.7 469.3h0M110.8 492.4h0M105.3 489.4h0M133.6 486.2h0M124.4 474.1h0M115.4 485.2h0M103.1 488.1h0M119.4 480.7h0M116.7 493.5h0M121.5 493h0M129.8 478h0M126.9 479h0M94.3 496h0M119.9 478.8h0M112.8 480h0M91.9 495.6h0M112.3 487.2h0M138.3 494.5h0M105.7 495.9h0M127.1 474.9h0M105.4 495.1h0M114.7 492.6h0M118.8 471.6h0M117.3 480h0M95.5 493.6h0M124.2 478.6h0M97.3 489.9h0M112.5 493.9h0M107.7 490.4h0M100 497.5h0M115.8 475h0M126.4 476.1h0" stroke="#ef9b33" stroke-width="4.8" stroke-linecap="round" fill="none"/>
<path d="M118.4 495.4h0M130.4 495h0M143.6 493.7h0M125.7 499.6h0M113.5 502.8h0M119.2 501.2h0M128.4 496.4h0M108.9 503.9h0M116.1 501.3h0M105.4 499.9h0M118.1 499h0M115.6 495.2h0M106.3 502h0M114.1 497.6h0M133.2 496.9h0M120.6 501.2h0M135 495.5h0M142.3 496.9h0M131.4 494.5h0M115.2 497.3h0M131.9 494.5h0M135.8 495.6h0M121.7 501.6h0M105.6 503.1h0M110.5 504.8h0M137.5 493.2h0M134.7 497.5h0M131.4 498.3h0M102.7 501.8h0M121.4 499.2h0M138.1 492.6h0M113.1 499.6h0M127.2 495.5h0M103 497h0M120.6 494.8h0M135.3 501.4h0M111.9 495.4h0M125.8 498.2h0M115 504.4h0M107.1 499.9h0M116.7 503.4h0M127.4 502.6h0M108.5 501.3h0M129.9 498.5h0M118 494.9h0M109.9 501.8h0M122.4 493.6h0M116.2 498.6h0M118.1 494.4h0M104.2 502h0" stroke="#ef9b33" stroke-width="4.6" stroke-linecap="round" fill="none"/>
<circle cx="115.8" cy="474" r="2.4" fill="#f3c07a"/>
<circle cx="123.5" cy="470" r="2.4" fill="#f3c07a"/>
<circle cx="119" cy="472.5" r="2.4" fill="#f3c07a"/>
<circle cx="126" cy="473" r="2.4" fill="#f3c07a"/>
<path d="M145.9 483.8h0M141.1 483.2h0M142.9 480.6h0M143.5 479.1h0M145.6 484.5h0M144 486.9h0M144.1 481.1h0M141.9 480.2h0" stroke="#21a064" stroke-width="4.6" stroke-linecap="round" fill="none"/>
<path d="M171.8 494.7h0M154.8 500.2h0M172 504.8h0M154.4 502.6h0M171.6 501.9h0M158.5 493h0M171.5 495.1h0M159.6 498.8h0M159.6 503.3h0M156.2 490.7h0M164.7 500.1h0M171.3 501.3h0M173.5 505.1h0M162.9 498h0M154.1 494.8h0M165.1 491.3h0M167.9 492.6h0M161.5 505.5h0M161.4 493.1h0M171.9 503.7h0M170.5 496.8h0M157.4 500.6h0M163.4 496.7h0M158.8 497h0M167.3 503.2h0M157.7 497.1h0M164.6 495.6h0M155.1 491.4h0M158.4 497.4h0M175.3 504.5h0M175 499.9h0M167.6 499.7h0M157.7 499.1h0M174.8 497.7h0M166.8 494.8h0M158.9 504.2h0M150.7 493h0M167.6 497.2h0M152.2 500.6h0M159.7 499.3h0M160.8 498.5h0M164.7 496.3h0M153 492.9h0M173.1 498.8h0M156.6 491.5h0" stroke="#2f9e60" stroke-width="4" stroke-linecap="round" fill="none"/>
<path d="M163.5 486.5h0M163.1 489.5h0M160.7 489.7h0M159.6 489.1h0M164.1 484.8h0M162.4 484.7h0M162.7 492.6h0M163.7 491.1h0M165.7 485.1h0M167.9 491.2h0M159.5 492.3h0M162.2 485.7h0M167.6 489.6h0M165.9 485.4h0M165.9 484.6h0M160.8 487.7h0" stroke="#21a064" stroke-width="4.8" stroke-linecap="round" fill="none"/>
<path d="M183.2 507.6h0M185.1 505h0M190.1 506.1h0M191.9 507.8h0M191.7 507.3h0M192.2 509.9h0M184.7 508.8h0M186.4 509h0M189.8 509.5h0M184.2 505.7h0M190.4 510.6h0M190.2 502.9h0" stroke="#98d18a" stroke-width="4.6" stroke-linecap="round" fill="none"/>
<circle cx="143" cy="505.5" r="2.2" fill="#5fb890"/>
<circle cx="147.5" cy="507" r="2.2" fill="#5fb890"/>
<path d="M62 530 C88 505 112 492 150 494" fill="none" stroke="#ffffff" stroke-width="1.3" opacity="0.95"/>
<path d="M64 536 C90 510 118 497 152 499" fill="none" stroke="#ffffff" stroke-width="0.7" opacity="0.85"/>
<path d="M94 493 C115 485 140 487 176 495" fill="none" stroke="#f6d2c6" stroke-width="0.5" opacity="0.9"/>
<path d="M94 495.2 C115 487.2 140 489.2 176 497.2" fill="none" stroke="#f6d2c6" stroke-width="0.5" opacity="0.9"/>
<path d="M94 497.4 C115 489.4 140 491.4 176 499.4" fill="none" stroke="#f6d2c6" stroke-width="0.5" opacity="0.9"/>
<path d="M94 499.6 C115 491.6 140 493.6 176 501.6" fill="none" stroke="#f6d2c6" stroke-width="0.5" opacity="0.9"/>
<path d="M94 501.8 C115 493.8 140 495.8 176 503.8" fill="none" stroke="#f6d2c6" stroke-width="0.5" opacity="0.9"/>
<path d="M151 494 C162 492 176 497" fill="none" stroke="#b8e6c4" stroke-width="0.5" opacity="0.9"/>
<path d="M151 497 C162 495 176 500" fill="none" stroke="#b8e6c4" stroke-width="0.5" opacity="0.9"/>
<path d="M151 500 C162 498 176 503" fill="none" stroke="#b8e6c4" stroke-width="0.5" opacity="0.9"/>
<path d="M151 503 C162 501 176 506" fill="none" stroke="#b8e6c4" stroke-width="0.5" opacity="0.9"/>
<circle cx="123.5" cy="476" r="7.8" fill="none" stroke="#5a2a20" stroke-width="0.6" stroke-dasharray="0.9 0.9"/>
<circle cx="162.9" cy="489.4" r="7.5" fill="none" stroke="#333" stroke-width="0.6" stroke-dasharray="0.9 0.9"/>
<circle cx="187.9" cy="506.7" r="7.8" fill="none" stroke="#6a3030" stroke-width="0.6" stroke-dasharray="0.9 0.9"/>
<path d="M128.3 469.2 C134 462 143 461.5 149 464 C155 467 158.5 474 160.4 480.5" fill="none" stroke="#111" stroke-width="0.8"/>
<polygon points="160.9,483.6 158.6,479.9 162.3,479.6" fill="#111"/>
<path d="M168.7 483.7 C174 480 182 479 185.5 485 C187.5 488.5 188.6 492 188.8 496" fill="none" stroke="#111" stroke-width="0.8"/>
<polygon points="188.9,499.4 186.9,495.6 190.8,495.8" fill="#111"/>
<text x="133.2" y="458.6" font-size="6.6" fill="#222" stroke="#222" stroke-width="0.22" transform="rotate(14 133.2 458.6)">* SMAD4 (-)</text>
<text x="173.4" y="473.8" font-size="6.6" fill="#222" stroke="#222" stroke-width="0.22" transform="rotate(31 173.4 473.8)">* ERK (-)</text>
<rect x="50" y="548.8" width="25" height="33.7" fill="white" stroke="#555" stroke-width="0.5" opacity="0.95"/>
<circle cx="55" cy="554" r="2.6" fill="#98d18a"/>
<text x="58.8" y="555.9" font-size="5.4" fill="#333" stroke="#333" stroke-width="0.22">Epi</text>
<circle cx="55" cy="561.8" r="2.6" fill="#21a064"/>
<text x="58.8" y="563.7" font-size="5.4" fill="#333" stroke="#333" stroke-width="0.22">Epi/H</text>
<circle cx="55" cy="569.6" r="2.6" fill="#f3c07a"/>
<text x="58.8" y="571.5" font-size="5.4" fill="#333" stroke="#333" stroke-width="0.22">H</text>
<circle cx="55" cy="577.4" r="2.6" fill="#9c1d4f"/>
<text x="58.8" y="579.3" font-size="5.4" fill="#333" stroke="#333" stroke-width="0.22">Mes</text>
<text x="2" y="620.3" font-size="14" font-weight="bold" fill="#111">F</text>
<text x="80" y="622.6" font-size="6.2" fill="#222" stroke="#222" stroke-width="0.22" textLength="115.5" lengthAdjust="spacingAndGlyphs">Epi state: p53 (+) &amp; SMAD4 (-) &amp; ERK (-)</text>
<rect x="28.4" y="628.2" width="222" height="126.2" fill="white" stroke="#c9c9c9" stroke-width="0.7"/>
<rect x="91.4" y="631.6" width="35.6" height="37.4" fill="#e0eed9"/>
<rect x="58.2" y="670" width="72" height="37.8" fill="#e0eed9"/>
<rect x="130" y="631.6" width="32.5" height="70" fill="#d9eacf"/>
<rect x="130" y="631.6" width="6" height="65" fill="#cfe5c7"/>
<rect x="162.5" y="631.6" width="46" height="13.8" fill="#e0eed9"/>
<rect x="158.8" y="658" width="50.5" height="37" fill="#e0eed9"/>
<rect x="174.3" y="658" width="35" height="36.5" fill="#dcebd4"/>
<polyline points="94,636.6 48.6,636.6 48.6,748.5" fill="none" stroke="#e5625f" stroke-width="0.95" stroke-dasharray="0.95 1.1"/>
<polyline points="48.6,748.5 96,748.5" fill="none" stroke="#9a9a9a" stroke-width="0.95" stroke-dasharray="0.95 1.1"/>
<polyline points="94,640 52.2,640 52.2,710 58,710" fill="none" stroke="#e5625f" stroke-width="0.95" stroke-dasharray="0.95 1.1"/>
<polygon points="59.6,710 57.78,708.88 57.78,711.12" fill="#e5625f"/>
<polyline points="100,658.7 66.5,658.7 66.5,700" fill="none" stroke="#e5625f" stroke-width="0.95" stroke-dasharray="0.95 1.1"/>
<polygon points="66.5,702 65.3,700.05 67.7,700.05" fill="#e5625f"/>
<polyline points="100,659.8 89.6,659.8 89.6,719.2 95.5,719.2" fill="none" stroke="#e5625f" stroke-width="0.95" stroke-dasharray="0.95 1.1"/>
<polygon points="97.2,719.2 95.38,718.08 95.38,720.32" fill="#e5625f"/>
<polyline points="66.5,714 66.5,743 96,743" fill="none" stroke="#e5625f" stroke-width="0.95" stroke-dasharray="0.95 1.1"/>
<polygon points="97.6,743 95.78,741.88 95.78,744.12" fill="#e5625f"/>
<polyline points="105.2,741 105.2,726" fill="none" stroke="#e5625f" stroke-width="0.95" stroke-dasharray="0.95 1.1"/>
<polygon points="105.2,724.3 104.08,726.12 106.32,726.12" fill="#e5625f"/>
<polyline points="146.5,700 146.5,721.5" fill="none" stroke="#e5625f" stroke-width="0.95" stroke-dasharray="0.95 1.1"/>
<polygon points="146.5,723.2 145.38,721.38 147.62,721.38" fill="#e5625f"/>
<polyline points="125.5,637.6 135,637.6" fill="none" stroke="#e5625f" stroke-width="0.8" stroke-dasharray="1.2 1.2"/>
<polygon points="136.6,637.6 135.04,636.64 135.04,638.56" fill="#e5625f"/>
<polyline points="216.5,638 208.5,638" fill="none" stroke="#e5625f" stroke-width="0.8" stroke-dasharray="1.2 1.2"/>
<polygon points="207.2,638 208.76,637.04 208.76,638.96" fill="#e5625f"/>
<polyline points="226,643.5 226,668.3 209,668.3" fill="none" stroke="#e5625f" stroke-width="0.95" stroke-dasharray="0.95 1.1"/>
<polygon points="207.6,668.3 209.16,667.34 209.16,669.26" fill="#e5625f"/>
<polyline points="218.5,645 218.5,668" fill="none" stroke="#e5625f" stroke-width="0.7" stroke-dasharray="0.95 1.1"/>
<polyline points="221.5,645 221.5,668" fill="none" stroke="#e5625f" stroke-width="0.7" stroke-dasharray="0.95 1.1"/>
<polyline points="123.5,660.5 214,660.5" fill="none" stroke="#9a9a9a" stroke-width="0.95" stroke-dasharray="0.95 1.1"/>
<polyline points="123.5,663 170,663" fill="none" stroke="#9a9a9a" stroke-width="0.95" stroke-dasharray="0.95 1.1"/>
<polyline points="108.5,666 108.5,674.5" fill="none" stroke="#9a9a9a" stroke-width="0.95" stroke-dasharray="0.95 1.1"/>
<polygon points="108.5,676.2 107.54,674.64 109.46,674.64" fill="#9a9a9a"/>
<polyline points="170,648.5 198,648.5 198,657" fill="none" stroke="#9a9a9a" stroke-width="0.95" stroke-dasharray="0.95 1.1"/>
<polyline points="224.5,645 224.5,748.5" fill="none" stroke="#4f8bd0" stroke-width="0.75" stroke-dasharray="0.95 1.1"/>
<polyline points="227.5,645 227.5,748.5" fill="none" stroke="#4f8bd0" stroke-width="0.75" stroke-dasharray="0.95 1.1"/>
<polyline points="230.5,645 230.5,748.5" fill="none" stroke="#4f8bd0" stroke-width="0.75" stroke-dasharray="0.95 1.1"/>
<polyline points="233.5,645 233.5,748.5" fill="none" stroke="#4f8bd0" stroke-width="0.75" stroke-dasharray="0.95 1.1"/>
<polyline points="233.5,748.5 130,748.5" fill="none" stroke="#4f8bd0" stroke-width="0.95" stroke-dasharray="0.95 1.1"/>
<polyline points="230.5,741.3 131,741.3" fill="none" stroke="#9a9a9a" stroke-width="0.95" stroke-dasharray="0.95 1.1"/>
<polyline points="227.5,735.6 111,735.6 111,727" fill="none" stroke="#4f8bd0" stroke-width="0.95" stroke-dasharray="0.95 1.1"/>
<polyline points="224.5,729.2 165,729.2" fill="none" stroke="#4f8bd0" stroke-width="0.95" stroke-dasharray="0.95 1.1"/>
<polyline points="221.5,722 221.5,690 206,690" fill="none" stroke="#9a9a9a" stroke-width="0.95" stroke-dasharray="0.95 1.1"/>
<polyline points="152.8,645 152.8,717.3" fill="none" stroke="#4f8bd0" stroke-width="0.75" stroke-dasharray="0.95 1.1"/>
<polyline points="155.4,645 155.4,717.3" fill="none" stroke="#4f8bd0" stroke-width="0.75" stroke-dasharray="0.95 1.1"/>
<polyline points="158.6,645 158.6,717.3" fill="none" stroke="#4f8bd0" stroke-width="0.75" stroke-dasharray="0.95 1.1"/>
<polyline points="158.6,717.3 124,717.3" fill="none" stroke="#4f8bd0" stroke-width="0.95" stroke-dasharray="0.95 1.1"/>
<polyline points="158.6,655.5 182,655.5" fill="none" stroke="#4f8bd0" stroke-width="0.95" stroke-dasharray="0.95 1.1"/>
<polyline points="155.4,667.5 173,667.5" fill="none" stroke="#4f8bd0" stroke-width="0.95" stroke-dasharray="0.95 1.1"/>
<polyline points="108.5,686 108.5,702 185,702" fill="none" stroke="#4f8bd0" stroke-width="0.95" stroke-dasharray="0.95 1.1"/>
<polyline points="158.6,705.8 177,705.8" fill="none" stroke="#4f8bd0" stroke-width="0.95" stroke-dasharray="0.95 1.1"/>
<polyline points="212,650 212,700 202,705.8" fill="none" stroke="#4f8bd0" stroke-width="0.95" stroke-dasharray="0.95 1.1"/>
<polyline points="137.7,644.4 137.7,682.7 130,682.7" fill="none" stroke="#e0504c" stroke-width="1.1" stroke-linejoin="round"/>
<polygon points="127.6,682.7 129.81,681.34 129.81,684.06" fill="#e0504c"/>
<polyline points="98,681.7 71.3,681.7 71.3,698.5" fill="none" stroke="#e0504c" stroke-width="1.1" stroke-linejoin="round"/>
<polygon points="71.3,701.2 69.94,698.99 72.66,698.99" fill="#e0504c"/>
<polyline points="82.5,710.6 141.9,710.6 141.9,646.5" fill="none" stroke="#e0504c" stroke-width="1.1" stroke-linejoin="round"/>
<polygon points="141.9,643.8 140.54,646.01 143.26,646.01" fill="#e0504c"/>
<polyline points="150.1,644.4 150.1,687.5 174.5,687.5" fill="none" stroke="#e0504c" stroke-width="1.1" stroke-linejoin="round"/>
<polygon points="177.2,687.5 174.99,686.14 174.99,688.86" fill="#e0504c"/>
<polyline points="105.8,644 105.8,653.8" fill="none" stroke="#e0504c" stroke-width="1.1" stroke-linejoin="round"/>
<polygon points="105.8,656.6 104.36,654.26 107.24,654.26" fill="#e0504c"/>
<polyline points="110,656.6 110,646.8" fill="none" stroke="#e0504c" stroke-width="1.1" stroke-linejoin="round"/>
<polygon points="110,644 108.56,646.34 111.44,646.34" fill="#e0504c"/>
<polyline points="164,636.4 174.5,636.4" fill="none" stroke="#4a86c4" stroke-width="1" stroke-linejoin="round"/>
<polyline points="174.5,634.6 174.5,638.2" fill="none" stroke="#4a86c4" stroke-width="1" stroke-linejoin="round"/>
<polyline points="174.5,640.6 164,640.6" fill="none" stroke="#4a86c4" stroke-width="1" stroke-linejoin="round"/>
<polyline points="164,638.8 164,642.4" fill="none" stroke="#4a86c4" stroke-width="1" stroke-linejoin="round"/>
<polyline points="205,689.5 216.5,689.5 216.5,640.5 209,640.5" fill="none" stroke="#4a86c4" stroke-width="1.1" stroke-linejoin="round"/>
<polyline points="209,638.7 209,642.3" fill="none" stroke="#4a86c4" stroke-width="1" stroke-linejoin="round"/>
<polyline points="185.5,674 185.5,681.5" fill="none" stroke="#6a9ad0" stroke-width="1" stroke-linejoin="round"/>
<polyline points="183.8,681.5 187.2,681.5" fill="none" stroke="#6a9ad0" stroke-width="1" stroke-linejoin="round"/>
<polyline points="189,674 189,681.5" fill="none" stroke="#6a9ad0" stroke-width="1" stroke-linejoin="round"/>
<polyline points="187.3,674 190.7,674" fill="none" stroke="#6a9ad0" stroke-width="1" stroke-linejoin="round"/>
<text x="118.7" y="641.15" font-size="6.8" text-anchor="end" font-weight="bold" font-style="italic" fill="#1a1a1a" stroke="#1a1a1a" stroke-width="0.12">SMAD4</text>
<polygon points="122,643.2 125.1,639.2 123.3,639.2 123.3,634.2 120.7,634.2 120.7,639.2 118.9,639.2" fill="#1a6cb4"/>
<text x="116.5" y="663.95" font-size="6.8" text-anchor="end" font-weight="bold" font-style="italic" fill="#1a1a1a" stroke="#1a1a1a" stroke-width="0.12">ERK</text>
<polygon points="119.8,666 122.9,662 121.1,662 121.1,657 118.5,657 118.5,662 116.7,662" fill="#1a6cb4"/>
<text x="119.4" y="684.15" font-size="6.8" text-anchor="end" font-weight="bold" fill="#1a1a1a" stroke="#1a1a1a" stroke-width="0.12">Twist1</text>
<polygon points="122.7,686.2 125.8,682.2 124,682.2 124,677.2 121.4,677.2 121.4,682.2 119.6,682.2" fill="#1a6cb4"/>
<text x="76.2" y="712.45" font-size="6.8" text-anchor="end" font-weight="bold" fill="#1a1a1a" stroke="#1a1a1a" stroke-width="0.12">AP-1</text>
<polygon points="79.5,714.5 82.6,710.5 80.8,710.5 80.8,705.5 78.2,705.5 78.2,710.5 76.4,710.5" fill="#1a6cb4"/>
<text x="116.7" y="721.65" font-size="6.8" text-anchor="end" font-weight="bold" fill="#333" stroke="#333" stroke-width="0.12">c-Myc</text>
<polygon points="120,723.7 123.1,719.7 121.3,719.7 121.3,714.7 118.7,714.7 118.7,719.7 116.9,719.7" fill="#1a6cb4"/>
<text x="122.5" y="748.85" font-size="6.8" text-anchor="end" font-weight="bold" fill="#333" stroke="#333" stroke-width="0.12">EpCAM</text>
<polygon points="125.8,750.9 128.9,746.9 127.1,746.9 127.1,741.9 124.5,741.9 124.5,746.9 122.7,746.9" fill="#1a6cb4"/>
<text x="155.2" y="640.35" font-size="6.8" text-anchor="end" font-weight="bold" fill="#1a1a1a" stroke="#1a1a1a" stroke-width="0.12">Snail</text>
<polygon points="158.5,642.4 161.6,638.4 159.8,638.4 159.8,633.4 157.2,633.4 157.2,638.4 155.4,638.4" fill="#1a6cb4"/>
<text x="199.6" y="641.15" font-size="6.8" text-anchor="end" font-weight="bold" fill="#1a1a1a" stroke="#1a1a1a" stroke-width="0.12">miR-34</text>
<polygon points="202.9,634.2 206,638.2 204.2,638.2 204.2,643.2 201.6,643.2 201.6,638.2 199.8,638.2" fill="#c2141e"/>
<text x="230.2" y="641.15" font-size="6.8" text-anchor="end" font-weight="bold" font-style="italic" fill="#1a1a1a" stroke="#1a1a1a" stroke-width="0.12">p53</text>
<polygon points="233.5,634.2 236.6,638.2 234.8,638.2 234.8,643.2 232.2,643.2 232.2,638.2 230.4,638.2" fill="#c2141e"/>
<text x="201" y="670.75" font-size="6.8" text-anchor="end" font-weight="bold" fill="#1a1a1a" stroke="#1a1a1a" stroke-width="0.12">miR-200</text>
<polygon points="204.3,663.8 207.4,667.8 205.6,667.8 205.6,672.8 203,672.8 203,667.8 201.2,667.8" fill="#c2141e"/>
<text x="197.6" y="690.45" font-size="6.8" text-anchor="end" font-weight="bold" fill="#1a1a1a" stroke="#1a1a1a" stroke-width="0.12">ZEB1</text>
<polygon points="200.9,692.5 204,688.5 202.2,688.5 202.2,683.5 199.6,683.5 199.6,688.5 197.8,688.5" fill="#1a6cb4"/>
<text x="198" y="707.95" font-size="6.8" text-anchor="end" font-weight="bold" fill="#444" stroke="#444" stroke-width="0.12">E-cad</text>
<polygon points="201.3,701 204.4,705 202.6,705 202.6,710 200,710 200,705 198.2,705" fill="#c2141e"/>
<text x="157.2" y="731.45" font-size="6.8" text-anchor="end" font-weight="bold" fill="#333" stroke="#333" stroke-width="0.12">Thy-1</text>
<polygon points="160.5,733.5 163.6,729.5 161.8,729.5 161.8,724.5 159.2,724.5 159.2,729.5 157.4,729.5" fill="#1a6cb4"/>
<text x="255.6" y="465.5" font-size="14" font-weight="bold" fill="#111">G</text>
<text x="372.5" y="467.3" font-size="6.7" text-anchor="middle" fill="#222" stroke="#222" stroke-width="0.22">Attractor landscape</text>
<defs><radialGradient id="g1" gradientUnits="userSpaceOnUse" cx="412" cy="512" r="95" gradientTransform="translate(412 512) scale(1 0.55) translate(-412 -512)"><stop offset="0" stop-color="#d5626f"/><stop offset="0.38" stop-color="#e69ca5"/><stop offset="1" stop-color="#f9e4e4"/></radialGradient><radialGradient id="g2" gradientUnits="userSpaceOnUse" cx="410" cy="570" r="50" gradientTransform="translate(410 570) scale(1 0.8) translate(-410 -570)"><stop offset="0" stop-color="#e4788f"/><stop offset="0.6" stop-color="#e993a5"/><stop offset="1" stop-color="#f1bcc6"/></radialGradient><linearGradient id="g3" x1="0" y1="0" x2="1" y2="0"><stop offset="0" stop-color="#76c05a"/><stop offset="0.7" stop-color="#82c660"/><stop offset="1" stop-color="#8fcb62"/></linearGradient><linearGradient id="g4" x1="0" y1="0" x2="1" y2="1"><stop offset="0" stop-color="#b7d76e"/><stop offset="1" stop-color="#c4de80"/></linearGradient></defs>
<polygon points="313.8,472.4 432.6,472.4 461,524.3 282.2,524.3" fill="url(#g1)" stroke="#a9a9a9" stroke-width="0.5"/>
<path d="M315.1 474.7h.5M316.5 475.5h.5M317.9 476.2h.5M321.5 473.8h.5M322.9 474.6h.5M324.3 475.3h.5M327.5 474.9h.5M328.8 475.7h.5M332 475.8h.5M333.4 476.5h.5M334.7 477.3h.5M338.5 473.4h.5M340.9 475.1h.5M344.8 473.5h.5M345.9 474.3h.5M347.1 475.1h.5M351.7 474.9h.5M352.8 475.8h.5M353.9 476.6h.5M357 475.8h.5M358.1 476.7h.5M359.1 477.5h.5M363.2 474h.5M365 475.7h.5M369.5 475.4h.5M370.4 476.3h.5M371.2 477.3h.5M374.4 473.9h.5M375.1 474.8h.5M375.8 475.8h.5M381.7 473.6h.5M382.2 474.5h.5M382.8 475.5h.5M386.8 474.2h.5M387.3 475.2h.5M393.7 474.6h.5M400.4 474.5h.5M400.5 475.4h.5M406.7 473.7h.5M406.7 474.6h.5M406.6 475.6h.5M413.8 475.3h.5M413.5 476.3h.5M413.3 477.2h.5M418.1 475.5h.5M417.4 477.3h.5M423.6 474h.5M423.1 474.9h.5M422.7 475.8h.5M429.3 473.6h.5M428.7 474.5h.5M428.1 475.4h.5M312.2 478.8h.5M313.7 479.5h.5M315.2 480.2h.5M321.1 478.9h.5M322.6 479.6h.5M323.8 478.2h.5M325.3 478.9h.5M326.7 479.7h.5M332 479.9h.5M333.4 480.6h.5M335.3 480.1h.5M336.6 480.8h.5M338 481.6h.5M343.6 479.2h.5M346.2 480.8h.5M347.4 478.3h.5M348.6 479.1h.5M349.8 479.9h.5M354 480h.5M356.4 481.6h.5M361.6 478.8h.5M362.6 479.6h.5M365.6 478.6h.5M366.6 479.5h.5M367.6 480.4h.5M380 479.4h.5M381.4 481.3h.5M384.7 479.5h.5M385.3 480.5h.5M390.9 479.5h.5M391.4 480.5h.5M391.8 481.4h.5M397.7 480h.5M398 480.9h.5M398.2 481.9h.5M404 478.8h.5M404 479.7h.5M404.1 480.7h.5M409.2 478.7h.5M409.1 479.6h.5M415.3 480.1h.5M415 481.1h.5M414.7 482h.5M421.6 479.1h.5M421.1 480.1h.5M427.7 477.8h.5M427.1 478.7h.5M426.4 479.6h.5M433.5 478.9h.5M432.7 479.8h.5M432 480.6h.5M308.4 482.8h.5M310 483.5h.5M317.4 483.7h.5M319 484.3h.5M320.5 485h.5M322.9 482.6h.5M324.5 483.3h.5M326 483.9h.5M329.9 483h.5M331.3 483.7h.5M335 484.1h.5M336.4 484.8h.5M337.9 485.5h.5M340.6 482.5h.5M342 483.3h.5M343.3 484h.5M347.3 483.6h.5M348.6 484.4h.5M350 485.1h.5M357.7 484.8h.5M358.7 483.8h.5M359.9 484.6h.5M361.1 485.4h.5M364.9 482.4h.5M367.1 484.1h.5M372.8 483.3h.5M373.7 484.2h.5M379.3 483.7h.5M380.1 484.6h.5M380.9 485.5h.5M385.7 485.1h.5M392.1 482.5h.5M392.5 483.5h.5M393 484.5h.5M397.8 483.6h.5M398.1 484.6h.5M398.4 485.5h.5M405.2 482.3h.5M405.2 483.3h.5M410.1 483.6h.5M410 484.6h.5M409.9 485.5h.5M417.6 484h.5M417.3 484.9h.5M416.9 485.9h.5M421.9 483.8h.5M421.4 484.7h.5M420.9 485.6h.5M428.2 484.3h.5M427.5 485.1h.5M426.7 486h.5M436.2 482.9h.5M435.3 483.7h.5M434.3 484.5h.5M306 487.5h.5M307.7 488.1h.5M309.3 488.6h.5M313.7 489h.5M322.4 489.5h.5M326.6 488.5h.5M328.2 489.1h.5M329.8 489.7h.5M333.5 486.7h.5M335 487.3h.5M336.5 488h.5M339 488h.5M340.5 488.7h.5M342 489.3h.5M344 487.4h.5M345.4 488.1h.5M346.9 488.8h.5M351.8 488.8h.5M353.2 489.5h.5M354.7 490.2h.5M357.1 487.7h.5M359.7 489.2h.5M363.2 487.4h.5M364.5 488.2h.5M365.7 489h.5M369.9 486.6h.5M371.1 487.5h.5M372.2 488.3h.5M376.9 487.1h.5M378.9 488.9h.5M382.7 488.6h.5M383.7 489.5h.5M389.1 489.6h.5M393.3 487h.5M393.8 488h.5M394.4 488.9h.5M400.8 486.7h.5M401.3 488.7h.5M405.9 486.9h.5M406 487.9h.5M406 488.9h.5M412.4 488.7h.5M412.2 489.6h.5M419.5 487.7h.5M419 488.6h.5M418.5 489.6h.5M424.5 488.2h.5M423.8 489.1h.5M423.1 490h.5M430.9 488.7h.5M430 489.5h.5M429.1 490.3h.5M436.6 487h.5M435.6 487.8h.5M305.6 491.8h.5M309.1 492.8h.5M311.3 490.9h.5M313 491.4h.5M314.7 491.9h.5M318.3 491.1h.5M320 491.6h.5M321.7 492.2h.5M329.4 492.1h.5M334.5 492.8h.5M336.2 493.4h.5M340.2 493.1h.5M341.9 493.7h.5M343.5 494.3h.5M347.6 492.1h.5M349.2 492.7h.5M356 493.5h.5M357.5 494.2h.5M361.2 492h.5M367.4 492.7h.5M368.7 493.5h.5M370.1 494.2h.5M372.1 492.3h.5M373.3 493h.5M374.6 493.8h.5M377.8 493h.5M379 493.8h.5M380.2 494.6h.5M384.4 493h.5M385.4 493.8h.5M386.5 494.7h.5M391.6 491.8h.5M393.1 493.6h.5M396.9 490.8h.5M397.4 491.8h.5M397.9 492.8h.5M402.3 493.1h.5M402.7 494.1h.5M403 495h.5M409.5 492.1h.5M409.5 493.1h.5M409.4 494h.5M416.1 492.6h.5M415.3 494.5h.5M422.3 491.4h.5M427.4 491.1h.5M426.5 491.9h.5M425.7 492.7h.5M434 493.1h.5M432.8 493.8h.5M431.6 494.6h.5M441 491h.5M439.7 491.7h.5M303.2 495.6h.5M306.8 496.4h.5M308.4 495.3h.5M310.2 495.8h.5M311.9 496.2h.5M314.5 496.1h.5M316.2 496.5h.5M318 497h.5M319.6 496.9h.5M325 495.5h.5M326.8 496h.5M328.5 496.5h.5M333.2 495.3h.5M334.9 495.8h.5M339.8 496.2h.5M341.5 496.7h.5M343.2 497.3h.5M344.8 497.4h.5M346.5 498h.5M348.2 498.5h.5M353.4 497.2h.5M355.1 497.8h.5M356 495.3h.5M359.2 496.5h.5M363.6 496.3h.5M365.1 496.9h.5M366.6 497.6h.5M370 496.4h.5M371.5 497.1h.5M372.9 497.8h.5M374.5 495.4h.5M375.9 496.2h.5M377.2 496.9h.5M381 495.8h.5M382.2 496.6h.5M383.5 497.4h.5M389 497.8h.5M390.2 498.7h.5M396.6 499.1h.5M400.1 497.6h.5M404.6 496.8h.5M404.9 497.8h.5M411.9 495.7h.5M411.7 496.6h.5M411.6 497.6h.5M416.8 495.5h.5M416.3 496.4h.5M415.9 497.3h.5M423.3 496.2h.5M422.4 497h.5M421.6 497.8h.5M430.7 497.5h.5M429.5 498.2h.5M428.2 498.9h.5M437.6 496.2h.5M434.8 497.4h.5M441.2 495.4h.5M439.8 495.9h.5M438.3 496.5h.5M302.4 502.1h.5M304.1 500.3h.5M305.9 500.6h.5M307.8 501h.5M310.4 500.4h.5M312.2 500.8h.5M318.1 500.9h.5M319.9 501.3h.5M321.8 501.7h.5M323.4 501.5h.5M325.2 501.8h.5M327 502.2h.5M332.7 502.1h.5M334.6 502.5h.5M335.3 500.5h.5M338.9 501.3h.5M342.6 500.8h.5M344.4 501.3h.5M348.6 501.6h.5M352.2 502.5h.5M354 500.9h.5M355.8 501.4h.5M357.5 501.9h.5M358.6 500.8h.5M368.4 502.2h.5M376.1 502.3h.5M378.2 501.4h.5M379.8 502h.5M381.4 502.6h.5M384.7 500.7h.5M386.2 501.4h.5M387.6 502.1h.5M391.5 500.5h.5M392.8 501.3h.5M394 502.1h.5M397.3 501.5h.5M398.3 502.4h.5M399.4 503.2h.5M402.5 501.2h.5M407.4 501.3h.5M413.4 501.5h.5M420 499.8h.5M419.2 500.6h.5M425.3 500.6h.5M424.2 501.3h.5M428.7 501.1h.5M437.5 500.5h.5M445.6 500.3h.5M443.9 500.6h.5M442.2 500.9h.5M295.9 506h.5M297.8 506.3h.5M299.7 506.6h.5M307.8 505.6h.5M309.6 504.8h.5M311.5 505.1h.5M319.9 506.1h.5M320.4 505.8h.5M322.2 506.1h.5M327.6 505h.5M329.5 505.3h.5M335.1 506.6h.5M339.6 503.9h.5M341.5 504.3h.5M343.3 504.6h.5M343.6 504.5h.5M347.3 505.2h.5M350.8 506.2h.5M352.6 506.5h.5M357.8 504.9h.5M361.4 505.7h.5M362 505.2h.5M365.7 506h.5M370.2 505.1h.5M371.9 505.5h.5M375.6 504.7h.5M379.1 505.7h.5M380.9 506.2h.5M382.6 506.6h.5M388.3 506.1h.5M391.6 506.3h.5M394.9 507.3h.5M406.8 507.2h.5M410.8 507.1h.5M416.3 505.7h.5M422.4 504.9h.5M430.2 506.5h.5M442 505.9h.5M440.1 505.9h.5M438.3 506h.5M445.8 504.8h.5M443.9 505h.5M442.1 505.1h.5M296.4 509.9h.5M298.3 510.1h.5M300.7 508.5h.5M302.6 508.7h.5M304.5 509h.5M309.3 509.9h.5M311.2 510.1h.5M312.8 509.1h.5M316.6 509.5h.5M320.4 509.5h.5M322.3 509.7h.5M331.6 509.9h.5M333.5 510.1h.5M335.4 510.3h.5M337.5 508.5h.5M341.2 509h.5M343.9 509.6h.5M347.7 510h.5M351.5 510.2h.5M355.3 510.6h.5M357.5 510.6h.5M359.4 510.8h.5M370.2 510.5h.5M374 510.9h.5M375.6 509.2h.5M377.5 509.4h.5M382.1 509.6h.5M384 509.9h.5M394 508.3h.5M397.6 509.1h.5M403.8 510.1h.5M408.7 510.4h.5M410.5 510.7h.5M418.3 509.6h.5M420.7 510h.5M430.2 509.8h.5M443.1 508.4h.5M441.2 508.3h.5M445.2 508.9h.5M292.7 514.2h.5M294.7 514.3h.5M296.6 514.5h.5M296.7 514.4h.5M298.6 514.5h.5M304.6 512.9h.5M306.5 513h.5M312.9 513.6h.5M317 513.5h.5M318.9 513.7h.5M322.7 514.9h.5M324.7 515h.5M333.7 514h.5M335.8 513.1h.5M337.7 513.2h.5M339.6 513.3h.5M339.8 514.7h.5M343.6 514.9h.5M349.9 514.9h.5M352.6 514.8h.5M354.5 514.8h.5M359.9 514.8h.5M372.2 514.5h.5M374.1 514.5h.5M376 514.5h.5M380 513.2h.5M381.9 513.2h.5M385.3 514.1h.5M387.1 514.1h.5M399.3 514.1h.5M405.4 512.8h.5M411.3 512h.5M414.8 511.9h.5M420.7 514.2h.5M426.7 513.6h.5M440.5 514.5h.5M445 514h.5M441.4 513.2h.5M452.6 514h.5M287.3 518.1h.5M289.2 518.2h.5M295.7 517.1h.5M297.6 517.2h.5M299.6 517.3h.5M306.5 518.4h.5M310.4 518.6h.5M320 518.9h.5M323.8 519h.5M325.1 517.5h.5M328.9 517.6h.5M334.3 519.3h.5M336.2 519.3h.5M336.4 517.5h.5M340.2 517.6h.5M347.1 518h.5M354.6 518.6h.5M355.4 518.1h.5M365.6 518.3h.5M367.5 518.2h.5M367.1 517.8h.5M369 517.7h.5M370.9 517.6h.5M375.8 518.1h.5M377.6 517.9h.5M379.4 517.7h.5M385.2 517.1h.5M387.7 517.2h.5M392.9 519.3h.5M394.4 518.8h.5M398.8 517.1h.5M406.2 516h.5M412.7 515.7h.5M417.1 518.8h.5M416.8 517.8h.5M422.2 517h.5M434.6 517.3h.5M440.3 517.6h.5M455 517.9h.5M453.3 517.4h.5M292.5 522.7h.5M294.4 522.7h.5M300.6 523.5h.5M302.5 523.5h.5M307.6 523.4h.5M320.3 521.9h.5M328.5 521.7h.5M330.4 521.6h.5M332.3 521.6h.5M340.6 521.4h.5M342.5 521.3h.5M344.4 521.3h.5M350.2 521.7h.5M353.3 521.9h.5M357 521.6h.5M361.4 523.4h.5M363.1 523.1h.5M366.1 522.8h.5M369.7 522.3h.5M370.7 523.3h.5M374.2 522.6h.5M376.1 521.6h.5M388.2 520.8h.5M388.9 521.3h.5M395.8 522.9h.5M397 522.2h.5M398.3 521.5h.5M404.6 522h.5M407.4 523h.5M408.6 521.2h.5M419.8 522h.5M430 520.6h.5M438.3 523.2h.5M435.9 521.5h.5M444.2 520.7h.5M442.7 520h.5M448.9 522.3h.5M456.3 523.1h.5M454.7 522.5h.5M453.2 521.8h.5" stroke="#e6828f" stroke-width="1.7" stroke-linecap="round" fill="none"/>
<path d="M326.1 474.1h.5M339.7 474.2h.5M364.1 474.8h.5M387.7 476.1h.5M393.4 473.6h.5M393.9 475.6h.5M400.6 476.4h.5M417.8 476.4h.5M319.7 478.2h.5M334.8 481.3h.5M344.9 480h.5M355.2 480.8h.5M360.5 477.9h.5M373.3 479.2h.5M374.2 480.1h.5M375 481h.5M380.7 480.4h.5M385.9 481.4h.5M409 480.6h.5M420.7 481h.5M311.6 484.1h.5M332.8 484.4h.5M355.2 483.2h.5M356.5 484h.5M366 483.3h.5M371.8 482.4h.5M384.3 483.2h.5M385 484.2h.5M405.3 484.3h.5M312.1 488.4h.5M315.4 489.5h.5M319.2 488.4h.5M320.8 488.9h.5M358.4 488.4h.5M377.9 488h.5M384.6 490.4h.5M388.4 488.7h.5M389.9 490.5h.5M401.1 487.7h.5M412.6 487.7h.5M434.5 488.6h.5M307.3 492.3h.5M323.6 491.3h.5M325.3 491.8h.5M327 492.4h.5M331 492.6h.5M332.7 493.2h.5M337.8 494h.5M350.7 493.3h.5M354.5 492.8h.5M359.7 491.3h.5M362.6 492.7h.5M392.4 492.7h.5M415.7 493.6h.5M421.7 492.3h.5M421 493.2h.5M438.5 492.3h.5M305 496h.5M321.4 497.4h.5M323.2 497.8h.5M336.7 496.3h.5M351.8 496.6h.5M357.6 495.9h.5M387.9 497h.5M394.8 497.3h.5M395.7 498.2h.5M399.5 496.7h.5M400.8 498.6h.5M405.3 498.7h.5M436.2 496.8h.5M298.7 501.4h.5M300.5 501.7h.5M314 501.1h.5M330.9 501.7h.5M337.1 500.9h.5M346.2 501.7h.5M350.4 502.1h.5M360.4 501.3h.5M362.1 501.9h.5M366.7 501.7h.5M370.1 502.7h.5M372.8 501.1h.5M374.4 501.7h.5M403.2 502.2h.5M404 503.1h.5M407.7 502.3h.5M408.1 503.2h.5M413.6 500.5h.5M413.1 502.4h.5M418.4 501.5h.5M423 502h.5M431.5 500h.5M430.1 500.5h.5M439.1 500.1h.5M435.8 500.9h.5M304 505h.5M305.9 505.3h.5M313.3 505.4h.5M316.2 505.5h.5M318.1 505.8h.5M324.1 506.4h.5M325.7 504.7h.5M333.2 506.3h.5M336.9 506.9h.5M345.4 504.9h.5M354.5 506.8h.5M359.6 505.3h.5M363.9 505.6h.5M368.4 504.6h.5M377.4 505.2h.5M384.4 507.1h.5M386.6 505.6h.5M390 506.6h.5M393.2 506.8h.5M398.4 504.8h.5M399.8 505.5h.5M401.1 506.3h.5M404.7 505.5h.5M405.8 506.3h.5M410.6 506.1h.5M411.1 508.1h.5M418.1 504.1h.5M417.2 504.9h.5M423.8 504.3h.5M420.9 505.5h.5M427.9 504.4h.5M426.3 504.9h.5M424.7 505.3h.5M433.9 506.1h.5M432.1 506.3h.5M294.5 509.7h.5M307.4 509.7h.5M314.7 509.3h.5M324.1 509.9h.5M326.5 509.7h.5M328.4 510h.5M330.3 510.2h.5M339.3 508.8h.5M345.8 509.8h.5M353.4 510.4h.5M355.6 510.4h.5M361.5 509.6h.5M363.4 509.8h.5M365.3 510h.5M372.1 510.7h.5M379.4 509.7h.5M380.2 509.4h.5M386.4 509.5h.5M388.3 509.8h.5M390.1 510h.5M395.8 508.7h.5M400.1 509.4h.5M402 509.7h.5M406.8 510h.5M416.4 509.7h.5M414.6 509.8h.5M424.5 510.4h.5M422.6 510.2h.5M432.1 510h.5M428.3 509.7h.5M437.4 508.4h.5M435.5 508.4h.5M433.6 508.3h.5M439.3 508.2h.5M449 509.2h.5M447.1 509.1h.5M300.5 514.7h.5M308.4 513.2h.5M309.1 513.3h.5M311 513.5h.5M320.8 513.8h.5M320.8 514.7h.5M329.9 513.7h.5M331.8 513.9h.5M341.7 514.8h.5M346 514.7h.5M347.9 514.8h.5M356.4 514.9h.5M361.8 514.9h.5M363.7 514.9h.5M364.9 514.3h.5M366.8 514.3h.5M368.7 514.4h.5M378.1 513.1h.5M383.4 514.1h.5M390.3 513.9h.5M392.2 513.8h.5M394.1 513.7h.5M395.6 514.5h.5M397.4 514.3h.5M401.8 513.3h.5M403.6 513h.5M410.2 512.7h.5M412.5 511.2h.5M416.2 513.8h.5M415.5 512.9h.5M419.4 513.4h.5M418.2 512.6h.5M428.3 514.2h.5M425.1 513.1h.5M434.3 513h.5M432.5 512.6h.5M430.7 512.2h.5M438.7 514h.5M436.9 513.6h.5M443.2 513.6h.5M450.8 513.6h.5M449 513.2h.5M291.1 518.3h.5M301.8 517.5h.5M303.8 517.6h.5M305.7 517.7h.5M308.5 518.5h.5M312 518.9h.5M313.9 519h.5M315.8 519h.5M321.9 519h.5M327 517.5h.5M332.4 519.3h.5M338.3 517.5h.5M343.3 518h.5M345.2 518h.5M350.9 518.7h.5M352.7 518.7h.5M357.3 518h.5M359.2 518h.5M363.8 518.4h.5M381.6 517.5h.5M383.4 517.3h.5M385.9 517.4h.5M389.4 516.9h.5M396 518.4h.5M400.3 516.6h.5M401.8 516.1h.5M403.8 517.4h.5M405 516.7h.5M412.1 517.6h.5M412.4 516.7h.5M416.6 516.8h.5M423.2 517.9h.5M421.3 516.1h.5M430.6 518.2h.5M429.3 517.4h.5M428 516.6h.5M433.1 516.6h.5M431.6 516h.5M441.9 518.3h.5M438.7 517h.5M448.9 518.5h.5M447.3 518h.5M445.6 517.4h.5M451.6 516.9h.5M285.4 522.1h.5M287.3 522.2h.5M289.2 522.2h.5M296.3 522.7h.5M298.8 523.5h.5M305.7 523.4h.5M309.5 523.3h.5M310.2 522.2h.5M312.1 522.2h.5M314 522.2h.5M316.5 522h.5M318.4 521.9h.5M321.6 522.9h.5M323.5 522.8h.5M325.4 522.8h.5M335.4 521.4h.5M337.3 521.3h.5M339.2 521.2h.5M346.5 521.9h.5M348.4 521.8h.5M355.2 521.8h.5M359.6 523.6h.5M367.9 522.5h.5M372.5 523h.5M377.8 521.3h.5M379.6 521h.5M385 521.7h.5M386.6 521.2h.5M390.4 520.8h.5M392 520.3h.5M402.9 523.6h.5M403.7 522.8h.5M408 522.1h.5M415.1 521.7h.5M415.1 520.7h.5M415.1 519.8h.5M419.4 521h.5M419.1 520.1h.5M425.5 522.1h.5M424.8 521.2h.5M424 520.2h.5M431.1 521.5h.5M428.9 519.8h.5M437.1 522.3h.5M445.7 521.4h.5M450.3 523h.5M447.4 521.6h.5" stroke="#2a1e1e" stroke-width="1.2" stroke-linecap="round" fill="none"/>
<path d="M410 511.3h.5M410.2 509.8h.5M412.6 508.8h.5M415.6 509.6h.5M415.3 511.1h.5M412.7 512.3h.5M419.2 510h.5M419.1 511.5h.5M417.5 513.1h.5M415 513.5h.5M411.7 513.6h.5M408.4 513.1h.5M406.8 512.1h.5M405.8 510.2h.5M406.7 508.8h.5M409.2 507.6h.5M412.2 507.3h.5M415.6 507.3h.5M418 508.5h.5" stroke="#2a2424" stroke-width="1.2" stroke-linecap="round" fill="none"/>
<text x="373.1" y="532.4" font-size="6" text-anchor="middle" fill="#333" stroke="#333" stroke-width="0.22">100%</text>
<polygon points="312.3,543.2 432.8,543.2 460,594.2 282.5,594.2" fill="url(#g2)" stroke="#c8a8a8" stroke-width="0.4"/>
<path d="M365.8 543.2 C367 549 368 553 372 559 C377 566 384 569 389 574 C393 579 392.8 588 392.8 594.2 L282.5 594.2 L312.3 543.2 Z" fill="#f4c77d"/>
<path d="M450.2 582.2h.5M422 557.6h.5M420.5 553.5h.5M407.6 561.5h.5M409.5 561.8h.5M420.5 576.7h.5M403 565.6h.5M430 545.9h.5M379.1 547h.5M396.9 549.7h.5M400.8 553.7h.5M387.8 562.3h.5M401.1 586.8h.5M390.6 554.4h.5M437.9 565.7h.5M385 562.3h.5M392.1 548.5h.5M398.7 580.1h.5M409.2 575h.5M445.8 577h.5M384.2 555.7h.5M431.8 568.7h.5M408.7 547.5h.5M405.3 554.9h.5M418.9 573.3h.5M432.9 547.6h.5M420.7 571.1h.5M404.1 579.5h.5M396.6 562.5h.5M399.8 568.4h.5M396.6 585.2h.5M382.4 563h.5M383.6 561.5h.5M424.1 545.5h.5M402.6 562.5h.5M430.3 550.9h.5M409.6 586.9h.5M370.2 549.9h.5M426.2 546h.5M399.2 567.7h.5M432.5 572.3h.5M439 558.5h.5M408.8 546.7h.5M405.1 544h.5M393.1 561.1h.5M392.7 555.4h.5M442.4 564.3h.5M412.5 560.4h.5M411.1 550.1h.5M399.9 588.4h.5M381.4 560.1h.5M386.8 566.6h.5M388 556.5h.5M373.2 551.5h.5M442.5 582.2h.5M380.2 560.9h.5M391.8 572.5h.5M416.4 554.2h.5M402.8 555.8h.5M386.9 556.2h.5M378.7 550.9h.5M384.7 568h.5M395 590.4h.5M405.7 583.6h.5M409.5 558.7h.5M452.9 589h.5M410.2 564.4h.5M414.4 591.9h.5M404.2 573.3h.5M421.9 590.2h.5M385.7 550.6h.5M397 572.9h.5M403.4 579.1h.5M438.7 584.6h.5M420.9 590h.5M392.3 559.5h.5M411.9 573.5h.5M416.1 549h.5M428.6 584.2h.5M438.6 571.9h.5M398.3 556h.5M371.2 546.2h.5M412.9 546.8h.5M443.7 584.3h.5M401.4 562.8h.5M428.6 575.2h.5M421.7 574h.5M401.2 587.2h.5M423 565.7h.5M417 569h.5M403.6 592.2h.5M412.3 573.9h.5M419 543.8h.5M397.5 545.7h.5M390.9 545.1h.5M414.6 551.8h.5M418.1 583.7h.5M393.1 563.9h.5M426.1 577.7h.5M381.3 553.9h.5M415.7 572.3h.5M397.3 573.3h.5M393.4 559.9h.5M431.2 579.1h.5M406.1 576.3h.5M435.8 564.9h.5M428.6 558.3h.5M412.6 568.7h.5M381.1 563.6h.5M382.3 545.5h.5M425.9 557h.5M389.1 548.9h.5M432.8 580.6h.5M396.5 579.1h.5M400.8 546.3h.5M432.3 546.2h.5M420.3 580.1h.5M426.9 590.2h.5M384.6 549.5h.5M393.3 546.8h.5M419.5 573.8h.5" stroke="#f3b3bf" stroke-width="1.1" stroke-linecap="round" fill="none"/>
<path d="M387.5 554.2h.5M446.5 586.9h.5M420 584.5h.5M403 559.7h.5M383.3 546.6h.5M400.2 543.7h.5M415 549h.5M421.2 567h.5M385.5 554.9h.5M423.9 545.4h.5M444.2 567.1h.5M421.2 585.5h.5M430.4 575.3h.5M404.6 584.8h.5M420.2 548.4h.5M427.6 543.4h.5M387.9 563.9h.5M410.4 584.9h.5M432.9 568.4h.5M376.9 554.1h.5M394.5 568.1h.5M434.3 555.8h.5M419.4 585h.5M402.3 560.5h.5M415 590.9h.5M429.7 565.9h.5M399.2 585.7h.5M434.6 559h.5M425.5 571.2h.5M370.9 547.8h.5M403.2 556.5h.5M399.5 574.8h.5M376.7 553.4h.5M422 583.4h.5M422.8 552h.5M408.1 544.7h.5M404.4 581.5h.5M443.2 580.4h.5M378.4 547h.5M380.9 544.7h.5M454.6 592.9h.5M370.6 547.2h.5M417.4 574.3h.5M412.6 544.8h.5M425.2 574h.5M417.6 577.6h.5M395.4 547.9h.5M395 550.1h.5M410.8 593.4h.5M411.7 572.2h.5M453.4 590.2h.5M429.9 567.9h.5M384 565.6h.5M438.5 564.8h.5M382.3 550.5h.5M432.4 590.9h.5M420.3 581.2h.5M418.7 558h.5M435.2 568.9h.5M444.6 593.1h.5M447.2 584.4h.5M412.7 560.7h.5M434.7 591.1h.5M439.4 572.2h.5M433.9 558h.5M416.7 545h.5M403.9 545.8h.5M439.2 570.1h.5M413.3 578.2h.5M442 584.4h.5M429.6 548.6h.5M395.8 571.3h.5M406.5 573.1h.5M399.6 556h.5M403.1 544.5h.5M381.1 557.2h.5M413.2 563.8h.5M440.9 585.4h.5M371.3 546.2h.5M400.9 582.3h.5M429.2 571h.5M408.5 544.8h.5M431.6 561.9h.5M402 578.1h.5M430.5 566.9h.5M436.6 568.7h.5M434.2 581h.5M394.5 543.5h.5M424.1 558.7h.5M419.1 558h.5M389.2 549.3h.5M435 563.1h.5M413.9 581.2h.5M413.4 593.2h.5M386.7 561.7h.5M397.4 586h.5M438.9 557.2h.5M429 580.1h.5M384.8 549.6h.5M402.3 552.5h.5M409.5 557.8h.5M385.8 549.9h.5M430 548.1h.5M430.4 562.8h.5M420 549h.5M448.8 590.3h.5M395.4 555.6h.5M398 549.8h.5M443.5 569.7h.5M420.6 561.2h.5M389.9 550.5h.5M411.6 574.9h.5M435.8 551.2h.5M427.4 569.7h.5M435.8 581.2h.5M392.6 560.9h.5M431.1 543.4h.5M398.8 566.4h.5M451.5 587.9h.5M383.7 550.2h.5M426.9 583.6h.5M440.6 592.1h.5M426 585.7h.5M382.1 543.6h.5M434.9 566.7h.5M400.9 544.2h.5M392.7 566.6h.5M416.5 589.5h.5M402.5 573.9h.5M430.2 590.4h.5M401.1 547h.5M382.7 545.6h.5M397.3 566h.5M418.6 565.8h.5M393 574.5h.5M418.9 546.5h.5M400.1 574.9h.5M428.4 564h.5M413.8 548.1h.5M390.6 572.1h.5M451.6 586.4h.5M439.9 593.7h.5M401.6 554.6h.5" stroke="#f3b3bf" stroke-width="1.2" stroke-linecap="round" fill="none"/>
<path d="M396.6 570.3h.5M428.9 548h.5M401.4 564h.5M431.9 563.1h.5M392.2 562.5h.5M421.3 590.3h.5M440.2 568.1h.5M451.6 587.6h.5M427.9 587.3h.5M388.3 564.4h.5M398.7 591.4h.5M426.9 593.7h.5M377.5 554.9h.5M406.4 563.3h.5M446.5 587h.5M443.9 571.8h.5M380.8 549.6h.5M423.2 566.6h.5M380.4 550.5h.5M426.1 576h.5M409.7 569.5h.5M381.3 547.8h.5M397.7 564.5h.5M400.3 581.8h.5M418.9 549h.5M402.8 557h.5M398.4 591.2h.5M451.2 590.8h.5M436.9 590.4h.5M440.5 591.1h.5M400.1 560.3h.5M450.3 593h.5M444.9 587h.5M440.6 569.7h.5M407.4 569.2h.5M414 546.9h.5M396.4 564.6h.5M443.5 592.9h.5M423.7 546.5h.5M431.7 557.1h.5M454.4 591.3h.5M402.9 552h.5M383.2 555.2h.5M392.5 575.8h.5M417 546.9h.5M421.5 584.5h.5M401.1 549.6h.5M407.8 563.3h.5M399.8 567h.5M400.8 576.2h.5M431.4 560.1h.5M437.4 554.3h.5M421.2 590.1h.5M450.6 593h.5M439 591.9h.5M388.6 566.9h.5M380.2 547.6h.5M393.6 553.8h.5M382.5 546.2h.5M403.4 559.8h.5M445 587.7h.5M447.1 574.3h.5M435.2 583.4h.5M396.3 545.6h.5M427.6 573.8h.5M395.2 551h.5M395.3 572.8h.5M398.1 546.1h.5M391.7 572.7h.5M399.1 543.8h.5M411 552.8h.5M408.7 544.9h.5M416.3 556.4h.5M401 556.1h.5M394.1 564.4h.5M401.3 590h.5M433.1 574.6h.5M390.6 553.4h.5M386.7 559.7h.5M394.7 556.9h.5M423.2 590.1h.5M448.4 583.1h.5M445.4 585.9h.5M391.8 564.9h.5M428 578h.5M394 546.5h.5M432.1 563.7h.5M440.2 585.5h.5M433.9 564.5h.5M374.3 551.9h.5M373.4 546.4h.5M386.2 554.7h.5M419.7 589.7h.5M381.6 562.8h.5M403.2 557.4h.5M422.4 586.3h.5M451.2 585.3h.5M425.5 555h.5M418.4 580.1h.5M431.3 548.3h.5M447.8 592.1h.5M430.9 566.6h.5M401.6 586h.5M387.6 547.9h.5M444.9 569.5h.5M434.6 573.7h.5M445.5 588.4h.5M426.6 580.5h.5M433.4 554.7h.5M399.9 564.4h.5M392.6 546.8h.5M376.7 556.8h.5M436.1 559.1h.5M415.7 556.1h.5M428.8 548.3h.5M407.6 543.3h.5" stroke="#f3b3bf" stroke-width="1" stroke-linecap="round" fill="none"/>
<path d="M364 568.5h.5M356.5 560.2h.5M311.3 550.7h.5M325.7 555.7h.5M303.7 570.8h.5M309.1 558.3h.5M353.2 554.7h.5M357.6 555.6h.5M331.9 554.6h.5M368.1 555.6h.5M388.9 584.2h.5M324 584.3h.5M364.8 553.5h.5M362.5 558h.5M364 586.7h.5M319.8 571.4h.5M387 591.3h.5M335.5 551.3h.5M313.1 564.2h.5M384.3 574.9h.5M317.5 559.1h.5M359.7 544.3h.5M354.5 557.9h.5M370.2 593.3h.5M325.5 586.7h.5M303.3 571.2h.5M298.1 594h.5M349.1 586.8h.5M351.1 555.3h.5M337.3 551.3h.5M352 555h.5M362.6 561.6h.5M318 544h.5M302.7 590.5h.5M354.1 578.1h.5M330.1 577.5h.5M351.3 546h.5M305.6 556.1h.5M350 570h.5M352.6 554.4h.5M288.8 588.1h.5M374.7 570.8h.5M311.6 571.3h.5" stroke="#f8d9a4" stroke-width="1.2" stroke-linecap="round" fill="none"/>
<path d="M344 579h.5M358.3 572.8h.5M304 570.2h.5M374.9 563.6h.5M331.6 590.3h.5M383.1 588.5h.5M312.8 580h.5M391 589.9h.5M363 553.4h.5M309.5 551h.5M334.2 572.9h.5M318.3 555.5h.5M374.3 571.1h.5M318.8 567.2h.5M348.8 549.3h.5M368.6 593.8h.5M349.4 577.5h.5M362.2 589.5h.5M305.5 587.6h.5M326.7 564.9h.5M346.1 578h.5M294.1 587.4h.5M378.8 569.9h.5M333.5 584.3h.5M327.9 578.3h.5M340.9 553.2h.5M320.2 566h.5M377.3 565.9h.5M359.9 581.5h.5M325.2 548.5h.5M360.8 573.7h.5M354.1 547.2h.5M339 546.6h.5" stroke="#f8d9a4" stroke-width="1.3" stroke-linecap="round" fill="none"/>
<path d="M338.4 578.3h.5M349.4 582.5h.5M302 590.1h.5M304.1 573.2h.5M315.4 557.1h.5M338.5 591.7h.5M311.7 570.4h.5M333.2 569.4h.5M323.2 586.6h.5M331.7 584.4h.5M324.5 586.6h.5M348.3 569.2h.5M320.3 591.2h.5M346 543.9h.5M347 550.2h.5M369.3 584.4h.5M378.4 572.3h.5M333 553.7h.5M327.8 560.7h.5M384.8 582.5h.5M353.4 557.1h.5M389.3 593.2h.5M324.1 563.2h.5M330.7 577.1h.5M293.5 585h.5M379.6 571.6h.5M379.1 574.6h.5M349.7 571.2h.5M353.5 574.9h.5M367.7 592.7h.5M306.9 558.4h.5M360.7 563.3h.5M325.4 555.2h.5M331.6 544.2h.5M361.3 564.3h.5M330 590.7h.5M373.1 566.4h.5M314.3 548.8h.5M380.4 587.2h.5M362.8 591.4h.5M356.7 568.3h.5M359 559.8h.5M311.8 575.3h.5M370.6 582.2h.5" stroke="#f8d9a4" stroke-width="1.1" stroke-linecap="round" fill="none"/>
<path d="M347.7 549h.5M350.8 550h.5M350.3 551.4h.5M346.9 552h.5M344.3 551.3h.5M344.6 549.7h.5M339.5 549h.5M341.7 547.7h.5M344.8 547.1h.5M348.4 546.7h.5M351.8 547.1h.5M354.3 548h.5M356 549.6h.5M356 551.4h.5M354.6 552.9h.5M351.8 553.9h.5M348.6 554.8h.5M344.8 554.3h.5M341.7 553.6h.5M339.6 552.4h.5M338.9 550.8h.5M345.5 544.3h.5M348.7 544.4h.5M352 544.8h.5M355.2 545.4h.5M357.8 546.3h.5M359.5 547.6h.5M360.9 549.4h.5M361.1 551h.5M360.9 552.5h.5M359.2 553.6h.5M357.4 554.9h.5M354.4 556.3h.5M351.4 556.9h.5M348 556.8h.5M344.4 556.6h.5M341.1 556.3h.5M338.5 555.3h.5M336.1 554h.5M334.3 552.5h.5M333.8 551.2h.5M333.9 549.6h.5M335 548.2h.5M336.6 546.9h.5M338.8 545.5h.5M342 544.8h.5M350.9 584h.5M350.2 585.8h.5M346.5 586.4h.5M344.2 585.3h.5M344.9 583.5h.5M348.3 583.2h.5M342.4 587.6h.5M339.8 586.4h.5M338.7 585.1h.5M339.4 583.4h.5M341.3 582.1h.5M344.1 581h.5M347.7 580.8h.5M351.2 581.1h.5M354.1 582.2h.5M355.5 583.7h.5M355.8 585.1h.5M354.8 586.6h.5M352.4 587.7h.5M349.1 588.3h.5M345.7 588.4h.5M344.1 578.8h.5M347.8 578.5h.5M351.3 578.8h.5M354.5 579.2h.5M357.2 579.9h.5M359.3 581.3h.5M360.9 582.6h.5M361.6 584.2h.5M361.1 585.9h.5M360.2 587.5h.5M358 588.9h.5M355.4 589.9h.5M352.4 590.8h.5M349 590.8h.5M345.4 591.2h.5M342.1 590.4h.5M339.1 589.8h.5M336.8 588.5h.5M334.6 587.4h.5M333.7 585.9h.5M333.6 584h.5M334 582.5h.5M335.6 581.1h.5M337.9 579.9h.5M340.6 579.2h.5M348.2 576h.5M351.9 576.2h.5M355 576.9h.5M358.1 577.8h.5M360.9 578.7h.5M363.1 579.6h.5M365 581.2h.5M366.1 582.6h.5M366.4 584.3h.5M366.1 585.7h.5M365.7 587.6h.5M364.3 588.9h.5M362.2 590.2h.5M359.6 591.1h.5M356.8 592.1h.5M353.6 592.6h.5M350 593h.5M346.7 593.2h.5M343 593.2h.5M339.8 592.4h.5M336.6 591.5h.5M333.8 590.5h.5M332 589.7h.5M330.1 588.4h.5M329 586.7h.5M328.3 585.1h.5M328.7 583.5h.5M329.5 581.9h.5M330.9 580.4h.5M332.8 579.2h.5M335.3 577.9h.5M338.1 577.3h.5M341.3 576.6h.5M345.1 576.3h.5M372.1 584.5h.5M374.9 585.1h.5M374.4 586.7h.5M370.7 587h.5M369.3 585.6h.5M376.7 583.2h.5M378.5 584.5h.5M379.4 586.2h.5M378.1 587.7h.5M375.6 588.7h.5M372.3 589.4h.5M369.2 588.7h.5M366.7 588h.5M365.4 586.2h.5M365.9 584.5h.5M367.5 583.2h.5M370.2 582.3h.5M373.6 582.2h.5M332.5 562.3h.5M382 581.4h.5M319.3 565.5h.5M299.1 583.3h.5M287.7 592h.5M335.3 572.3h.5M401.1 590h.5M297.3 592.6h.5M363.7 547.4h.5M390.1 580h.5M384.6 573.5h.5M324.3 574.9h.5M345.9 561.4h.5M323 589.7h.5M316 570.9h.5M369.7 563.6h.5M352 562.7h.5M363.5 590.4h.5M330.9 548.3h.5M389.1 577.9h.5M306.5 573.7h.5M332.8 546.3h.5M314.3 545.3h.5M331.7 562.7h.5M314.9 544.1h.5M305.8 586.5h.5M325 548.1h.5M315.8 563.8h.5" stroke="#2a2424" stroke-width="1.4" stroke-linecap="round" fill="none"/>
<path d="M332.1 577.2h.5M366.1 576.3h.5M318.2 562.7h.5M308.2 572.1h.5M363.8 566.8h.5M305.7 560.9h.5M329.4 570h.5M338.9 561.5h.5M376.4 582h.5M343.7 565.2h.5M323.1 566.9h.5M393.4 583.1h.5M387.7 587.4h.5M303.8 581.1h.5M289.8 592.2h.5M328.6 590h.5M309.1 592.1h.5M343.4 574.3h.5M387.5 590.1h.5M314.5 567.1h.5M347.3 563.1h.5M372.3 574.4h.5M329.5 590.4h.5M397.8 587.9h.5M318.8 550.8h.5M329.4 566.7h.5M311.1 588h.5M320.4 546.3h.5M358.8 576.2h.5M305.1 569.7h.5M309.6 579.7h.5M311 563.8h.5M378.2 566.2h.5M359.7 556.2h.5M329.7 560.4h.5M308.4 564.2h.5" stroke="#2a2424" stroke-width="1.5" stroke-linecap="round" fill="none"/>
<path d="M365.4 564.8h.5M333.1 592h.5M387.7 581.3h.5M329.2 575.3h.5M369.1 563.1h.5M314.4 556.9h.5M400.2 590.5h.5M321.8 585.2h.5M362.8 561.5h.5M378.1 574h.5M362.6 568.2h.5M333.7 558.7h.5M353 568.3h.5M376.4 589.9h.5M320.1 558.1h.5M309.1 581.9h.5M360.1 567.4h.5M377.3 569.1h.5M395 591.6h.5M316.1 592.2h.5M331.1 574h.5M379.8 575.1h.5M387.6 584.4h.5M305.2 580.2h.5M384.6 572.5h.5M364.1 550.2h.5M320.1 553.9h.5M316 543.7h.5M373.1 559.2h.5M328.7 575.6h.5M390.9 593.4h.5M403.1 593.9h.5M429 590h.5M428.8 543.3h.5M432.8 549.9h.5M420.2 568.8h.5M421 549.8h.5M420.2 544.3h.5M408.3 562.6h.5M443.6 593.8h.5M376.8 547.4h.5M425 549.7h.5M403.9 572.9h.5M377.1 545.1h.5M387.8 547h.5M430.5 587.8h.5M385.2 563.1h.5M413.9 561.3h.5M429.2 568.3h.5M408.6 576.4h.5M395.5 545.4h.5M377 547.1h.5M436.4 562.3h.5M384.5 559.6h.5M417.6 567.6h.5M383.8 562.6h.5M445.5 593.5h.5M431 582.6h.5M406.4 561.6h.5M437.3 575.4h.5M405.7 570.3h.5M380.9 557.5h.5M399.7 578.8h.5M390.1 556h.5M400.3 585.1h.5M437.2 555.2h.5M402.7 552.4h.5M440.9 576.2h.5M383.7 556.9h.5M415.2 587h.5M397.2 581.9h.5M436.9 580.1h.5M441.6 562.7h.5M386.3 546.7h.5M381.3 563.9h.5M409.6 573.7h.5M395.5 586.8h.5M430.4 583.9h.5M373 551.8h.5M410.3 581.3h.5M427.6 569.6h.5M417 564.2h.5M389.8 546h.5M413.8 548h.5M418.8 585.2h.5M430.8 564.8h.5M405.3 580h.5M404.6 576.7h.5M425.2 591.6h.5M418.3 561.5h.5M411.3 554.8h.5M391.6 545.1h.5M409.9 559h.5M385.1 551.5h.5M401.6 569.1h.5M385.1 556.9h.5M397.7 550.7h.5M404.3 574.6h.5M387.9 553.2h.5M441 578.5h.5M439.4 561.6h.5M396.1 581h.5M432.1 573.4h.5M419.5 546.8h.5M413.2 546.5h.5M424.6 589.3h.5M424.8 543.6h.5M434.2 568.5h.5M427.3 575.7h.5M417.4 586.2h.5M375.4 552.7h.5M397.5 552.4h.5M397.4 585h.5M421.5 544.7h.5M447.5 573.5h.5M429.9 578h.5M438.9 588.3h.5M418 554.8h.5M426.1 587.5h.5M432.2 550.1h.5M378 557.5h.5M413.5 557.6h.5M405.5 567.6h.5M435.4 589.7h.5M445.3 591.4h.5M432 589.2h.5M396.3 583.7h.5M431 570.4h.5M400.2 558.4h.5M416.8 544h.5M404.3 593.1h.5M409.7 576.7h.5M435 571.6h.5M427.2 545.4h.5M421.7 560.4h.5" stroke="#2a2424" stroke-width="1.2" stroke-linecap="round" fill="none"/>
<path d="M398.1 588.7h.5M410.6 590h.5M402.7 576h.5M395.4 545.7h.5M407.1 562.7h.5M389.6 555h.5M408.1 551.3h.5M439.1 569.8h.5M420.8 593.7h.5M412.2 575.9h.5M411.9 563.3h.5M417.1 592.7h.5M437.4 572.4h.5M393 554.3h.5M423.1 580.9h.5M448.9 593h.5M387.9 548.1h.5M420.8 569.7h.5M405.8 563.1h.5M392 568.8h.5M428.8 586.8h.5M377.5 553.8h.5M397.3 564.1h.5M410 566.8h.5M376.2 543.2h.5M394.3 572.5h.5M407.2 562.1h.5M440 564.3h.5M440.1 581.6h.5M414.7 574.7h.5M382.4 562.5h.5M444.6 571.2h.5M396.9 549.7h.5M411.2 568.9h.5M403.9 555.5h.5M406.9 548.3h.5M381.4 556.3h.5M438 574.1h.5M413.5 570.3h.5M399 543.6h.5M414.5 576.7h.5M405.7 572h.5M419.1 552.8h.5M429.5 549.9h.5M379.4 549h.5M428.1 546.3h.5M410.9 571.4h.5M406.9 561.8h.5M395 549.9h.5M426.3 557.6h.5M402.8 561h.5M439.9 568.4h.5M427.2 564h.5M399.9 561.7h.5M403 579.8h.5M407 544.1h.5M436.2 566.8h.5M396.3 570h.5M449.5 584.5h.5M430.2 570.6h.5M432.5 580.8h.5M407.3 556.3h.5M452.3 593h.5M377.2 547.7h.5M399.6 571.9h.5M388.2 567.9h.5M436 552.8h.5M411.1 552h.5M441.2 562.7h.5M450.7 592.3h.5M430 587.1h.5M419.3 557h.5M400.9 577.2h.5M405.4 551.9h.5M395.3 579.2h.5M380.1 563.6h.5M422.7 566.1h.5M438.4 584.4h.5M390.4 546h.5M399.1 576.5h.5M420.2 543.7h.5M414.9 558.5h.5M411 546.4h.5M400.3 567.6h.5M414 560.7h.5M452.4 590.5h.5M404.1 554.8h.5M383.2 559.7h.5M419 573h.5M427.2 546.9h.5M417.2 590.3h.5M406.4 570.9h.5" stroke="#2a2424" stroke-width="1.3" stroke-linecap="round" fill="none"/>
<path d="M397.7 581h.5M413.1 552h.5M453.1 585.5h.5M417.2 565.6h.5M431.5 575.4h.5M409.8 580.6h.5M438.9 581.6h.5M407.6 558.3h.5M401.5 589.7h.5M389.1 561.3h.5M456.6 593.5h.5M397.9 554.8h.5M421.9 583.9h.5M422.1 553.5h.5M442.2 580.6h.5M435.9 567.8h.5M445.7 582.2h.5M389.9 548.9h.5M414.6 586.6h.5M446.1 585.7h.5M418.7 576.1h.5M428.9 559.5h.5M396.3 558h.5M414.3 554.9h.5M387.5 549h.5M397.5 582.3h.5M439.6 566.1h.5M422.7 570.7h.5M409.5 566.8h.5M397 575.9h.5M401.5 591h.5M428.4 589.5h.5M398.3 579.7h.5M394.5 575.9h.5M423.8 546.5h.5M392.3 567.2h.5M388.2 571.1h.5M434.6 567.9h.5M426.6 568.4h.5M426 569.5h.5M422.9 548.9h.5M386.7 561.2h.5M380.4 554h.5M437.8 580.6h.5M392.3 544.6h.5M413.7 555.1h.5M394.1 570.7h.5M410.2 564.9h.5M421.8 588h.5M427.9 565.2h.5M438.8 568h.5M403 555.7h.5M425.8 585.5h.5M429.2 580.7h.5M434.5 573.1h.5M448.7 582.7h.5M394.9 590.1h.5M401.8 575.9h.5M409.2 568.7h.5M423.7 571.2h.5M404 552.2h.5M443.3 575.2h.5M400.4 584.9h.5M413.7 567.7h.5M419.2 578h.5M391.7 575.4h.5M430.1 557h.5M420.9 548.7h.5M424.9 590.2h.5M429.6 545.5h.5M425.9 548.1h.5M389.5 574.3h.5M419.6 558.9h.5M399.1 568.1h.5M421 554h.5M404.1 592.4h.5M437.6 573.5h.5M437.3 560.6h.5M403.1 555h.5M415.4 585.8h.5M444.2 577.1h.5M387.4 546.1h.5M436.9 555.4h.5M411.7 547.2h.5M447.6 584.3h.5M384.9 565.6h.5M409.2 553h.5M420 564h.5M392.9 552.6h.5M371.4 543.7h.5M438.2 568.1h.5M403.2 551.4h.5M434 549.9h.5M455.2 587.8h.5M428.1 548.6h.5M417.7 551.3h.5M429.3 545.9h.5M391.6 568.8h.5M385.4 559.3h.5M378.7 547.9h.5M375.3 543.4h.5M413.8 555.1h.5M456.7 592.2h.5M409.1 573.5h.5" stroke="#2a2424" stroke-width="1.1" stroke-linecap="round" fill="none"/>
<path d="M365.8 543.2 C367 549 368 553 372 559 C377 566 384 569 389 574 C393 579 392.8 588 392.8 594.2" fill="none" stroke="#1d1d1d" stroke-width="0.8"/>
<text x="338.8" y="602" font-size="6" text-anchor="middle" fill="#333" stroke="#333" stroke-width="0.22">63%</text>
<text x="427.2" y="602" font-size="6" text-anchor="middle" fill="#333" stroke="#333" stroke-width="0.22">37%</text>
<polygon points="311.4,614.3 432.8,614.3 459,665 281.3,665" fill="url(#g3)" stroke="#a8c8a0" stroke-width="0.4"/>
<path d="M445 656.1h.5M390 638.2h.5M313.6 651h.5M329.2 650.2h.5M415.8 616.7h.5M332.9 635.8h.5M312.8 643.6h.5M434.2 629.6h.5M320 663.9h.5M424 639h.5M398.3 665h.5M316.6 650.8h.5M373.6 617h.5M421.5 647h.5M427.1 640.7h.5M417.9 623.9h.5M355.8 626.3h.5M376.4 615h.5M365.1 627.1h.5M342.9 617.7h.5M335.4 621.8h.5M375.1 656.6h.5M437.1 627.2h.5M431.9 654.6h.5M425.8 663.8h.5M420.4 622.3h.5M426.1 624.4h.5M300.1 659.8h.5M315 618.9h.5M406.6 659h.5M322 638.3h.5M421.8 641.3h.5M403.9 655.1h.5M445.6 647.1h.5M416.1 651.5h.5M306.6 624.3h.5M451.2 660.8h.5M390.3 639.5h.5M423.9 642.6h.5M424.8 617.6h.5M428.4 630h.5M438.3 628.8h.5M336.1 664.9h.5M401.1 628.4h.5M359.8 619.2h.5M327.1 656.1h.5M309.1 632.9h.5M328.8 652.5h.5M431 656.4h.5M333.6 641.9h.5M368.9 653.4h.5M339.6 661.5h.5M426.7 634.8h.5M405.5 659.7h.5M364.1 663.7h.5M336.9 648.9h.5M384.5 631.5h.5M417.7 617.1h.5M411.8 654.2h.5M330.9 660.3h.5M355.1 625.6h.5M319.7 630.9h.5M413.2 618.6h.5M409 651.6h.5M310.1 657.7h.5M354.8 618.3h.5M433.5 640.4h.5M368.2 616.5h.5M363 625.7h.5M363.9 629.1h.5M333 657.5h.5M318.1 662.2h.5M376.1 642.3h.5M396.6 636.4h.5M426 622.2h.5M348.7 639.1h.5M341 635.3h.5M375.5 641.5h.5M368.9 631.5h.5M352.7 617.6h.5M403.4 626.5h.5M314.3 662.9h.5M330.7 632.8h.5M403 622.3h.5M377.5 651.9h.5M341.1 626.8h.5M426 659.9h.5M343.8 642.3h.5M418.9 631.5h.5M377 653.5h.5M315.7 664.4h.5M409.7 644.4h.5M345 624h.5M358.3 656.2h.5M381.1 643.4h.5M323.8 630.7h.5M311.8 652.8h.5M428.7 624.8h.5M313.6 628.6h.5M345.2 652.7h.5M426.6 664.7h.5M361.6 643.8h.5M314.8 646.8h.5M354.7 631.8h.5M358.8 650.9h.5M366 653.4h.5M439.7 650h.5M429.9 631.9h.5M348.1 650.2h.5M402.2 643.6h.5M372.1 624.8h.5M354.5 639.3h.5M428 663.7h.5M376.6 645.6h.5M368.7 622.9h.5M320 645.4h.5M358.8 623.3h.5M406 663.7h.5M441.6 653.4h.5M379.2 659.8h.5M345.7 628.4h.5M344.9 642.1h.5M407.6 622.5h.5M345.9 633.4h.5M380.4 654.1h.5M314.3 646h.5M417.6 651h.5M313 625h.5M289.2 653.2h.5M361.9 628.2h.5M351.3 637.7h.5M312.8 644.6h.5M391.8 619.9h.5M423.6 632.8h.5M430.2 623.4h.5M390.7 635.6h.5M406.8 655.3h.5M353.8 643.3h.5M425.9 657.8h.5M381.2 622h.5M416.4 648.8h.5M354.6 624h.5M392.1 617h.5M325.5 620.2h.5M343.1 622.7h.5M373.3 655.1h.5M404.9 637.3h.5M368.7 648h.5M368.2 648.8h.5M418.7 631.4h.5M314.8 636.9h.5M351.1 660.1h.5M403.6 647.2h.5M313.8 648.7h.5M401.1 660.8h.5M303.2 642.5h.5M354.4 636.8h.5M381.1 623.9h.5M388.6 635.7h.5M311 649.5h.5M438.6 646.4h.5M386.8 646.9h.5M352.5 639.5h.5M359.1 646.4h.5M387.7 647.3h.5M382.2 621.7h.5M420.9 619h.5M318.9 658.3h.5M349 637.5h.5M376.1 620.7h.5M386.3 650.7h.5M335.9 633.9h.5M347.7 619.9h.5M357.2 653.9h.5M313.6 643.7h.5M341.8 618.3h.5M393.5 626.9h.5M449.2 659.9h.5M338.1 654.4h.5M392.7 653.9h.5M293.8 663.4h.5M355.5 642.2h.5M353.2 650h.5M323.3 623.9h.5M362.3 649.8h.5M333.8 637.4h.5M424.9 643h.5M396.3 617.9h.5M424.2 647.8h.5M335.1 640.3h.5M378.3 625.7h.5M339.5 643h.5M375.2 635.5h.5M354.6 629.6h.5M334.9 634.8h.5M306.9 653.3h.5M328.5 652.7h.5M386.2 619.7h.5M438.2 634.2h.5M344.7 654.7h.5M372.8 621h.5M318.6 637.2h.5M400 629.2h.5M325.5 615h.5M365 640.8h.5M407.9 626.2h.5M382.4 648.2h.5M330.9 627.4h.5M366.6 627.3h.5M399.5 625.4h.5M320.3 657.7h.5M440.2 646.1h.5M391.9 616.9h.5M351.5 658.9h.5M357.7 633.3h.5M371.1 617.5h.5" stroke="#a3da86" stroke-width="1.1" stroke-linecap="round" fill="none"/>
<path d="M376.9 637.1h.5M401.3 618.7h.5M413.1 631.4h.5M424.7 650.2h.5M358.7 639.1h.5M312.8 638.8h.5M299.2 649.5h.5M308.4 631.1h.5M445 655.4h.5M388.3 616.3h.5M316.4 629h.5M396.2 643.6h.5M356.8 650.3h.5M333.1 651.6h.5M380.7 661.5h.5M433.1 624.3h.5M314.3 617.2h.5M308.5 626.2h.5M435 628.6h.5M393.5 652.1h.5M422.5 649.8h.5M422.8 656.2h.5M410.8 632.9h.5M386.2 623.8h.5M381 662.4h.5M300.9 635.2h.5M365.4 661.9h.5M336.3 641.3h.5M438.1 635.3h.5M383.4 640h.5M334.5 619.1h.5M363.3 625.7h.5M337 654h.5M389.2 639.7h.5M305.4 654.9h.5M341.4 663.8h.5M326.6 628.4h.5M400.8 646.6h.5M339.7 622h.5M440.6 638.2h.5M416.7 646.5h.5M317.6 655.9h.5M301.1 641.7h.5M364.3 660.8h.5M372.8 637h.5M407.4 635h.5M348.5 655h.5M400.2 647.6h.5M382.1 662.7h.5M298.2 645.9h.5M430.6 661.6h.5M326 656.3h.5M362.7 631.5h.5M330 659.9h.5M379.9 615.1h.5M290.4 656.8h.5M311.1 636.7h.5M409.4 650.1h.5M444.5 657.8h.5M377.1 661.8h.5M391.6 646.8h.5M394.9 638.1h.5M337.6 641.6h.5M310.2 643.6h.5M339.9 635.1h.5M348.7 628.2h.5M310.2 648.2h.5M373 659.8h.5M310.1 622.5h.5M313.4 614.4h.5M409.3 625.3h.5M327.6 618.8h.5M342.2 646.3h.5M336.1 633.7h.5M339.8 640.2h.5M416 615.4h.5M342.1 620.6h.5M325.5 649h.5M380.2 617.3h.5M322.1 627.6h.5M361.9 647h.5M413.2 652.4h.5M384.5 638.1h.5M307.9 656.9h.5M362.9 664.8h.5M293.5 656.1h.5M328.1 618.8h.5M411 621.6h.5M357.9 623.5h.5M361.1 638.2h.5M437.4 657.1h.5M399.3 630.1h.5M317.4 659h.5M316.5 629.3h.5M320.9 633.2h.5M368.1 619.1h.5M339.6 645.2h.5M355.1 615.1h.5M447.7 648.6h.5M365.9 650h.5M408.3 650.3h.5M417.1 647.4h.5M429.4 615h.5M382.6 643h.5M452 657.8h.5M372.1 628.2h.5M405.9 614.9h.5M343 654.3h.5M298.8 659.2h.5M402.6 660.9h.5M425.5 652h.5M412.2 618.7h.5M397 625.9h.5M439.3 649.1h.5M324.1 637.4h.5M441.9 663.8h.5M309.4 636.4h.5M330.3 624.9h.5M419.3 636.2h.5M287.9 660.8h.5M407.2 650.4h.5M306.2 637.2h.5M327.2 654.6h.5M308.4 641.7h.5M353.4 636.7h.5M421.6 646.1h.5M294.2 645h.5M415.9 662h.5M299 660.1h.5M448.3 650.2h.5M440.1 651.1h.5M358 621.4h.5M388.3 633.8h.5M344.7 625.4h.5M441 635.2h.5M352.6 644.6h.5M392.1 638.3h.5M340.5 633h.5M288.8 661.2h.5M386.3 622.5h.5M442.9 643.5h.5M369.6 653.5h.5M349.9 632h.5M329.9 648.3h.5M342.2 632.7h.5M439.2 651.8h.5M314.7 614.6h.5M348 640.6h.5M300.9 662.6h.5M387.5 625.7h.5M355.8 648.6h.5M303.6 646.1h.5M413 635.8h.5M331.2 621.8h.5M364.5 648.9h.5M356.4 626.4h.5M378.5 617.9h.5M351.1 636.2h.5M325.1 644.6h.5M424.8 635.6h.5M304 654.9h.5M378.1 646.5h.5M358.2 632.3h.5M385 638.6h.5M443.5 653.9h.5M317.6 623.6h.5M326 659.9h.5M338.4 629.2h.5M384.6 616.9h.5M336.4 645.7h.5M380.4 625.5h.5M370 637.7h.5M321.4 652.5h.5M320.8 661.3h.5M410.4 643.8h.5M399.7 620.3h.5M406.6 624.2h.5M387.7 616.6h.5M436.8 664.2h.5M322.4 625.1h.5M331.4 617.2h.5M320.8 649.8h.5M373.5 629.5h.5M427.5 626.4h.5M304.3 640.6h.5M373.4 657.3h.5M434.5 646.5h.5M327.2 658.1h.5M337.5 664.2h.5M309.2 651h.5M385.1 616.4h.5M365.7 637.2h.5M338.3 619.2h.5M404 639h.5M431.3 664h.5M382.6 664.5h.5M399.2 658.3h.5M416.3 632.5h.5M402.5 657.4h.5M337.7 646.1h.5M409.9 618.7h.5M407.5 664.4h.5M317.2 661.3h.5M411.5 643.4h.5M356.2 624.6h.5M338.7 661.2h.5M382.4 658.1h.5M331.6 646.3h.5" stroke="#a3da86" stroke-width="1.3" stroke-linecap="round" fill="none"/>
<path d="M407.6 659h.5M385.9 646.6h.5M346.4 624.4h.5M307.5 640h.5M346.2 658.6h.5M414.7 619.1h.5M367.9 626.1h.5M428.2 647.9h.5M420.8 618.6h.5M385.1 620.9h.5M373 627.3h.5M361.9 640.7h.5M336.1 642.1h.5M317.2 660.3h.5M368.7 639.2h.5M311.4 615.8h.5M355.5 662.3h.5M419.4 644.5h.5M306 663.5h.5M358.6 620.4h.5M424.6 649.4h.5M398.9 655.7h.5M379.5 646.7h.5M411.9 632h.5M360.7 617.9h.5M448.1 664.7h.5M333.5 654h.5M389.9 642.9h.5M446.9 647.2h.5M426.2 649.3h.5M303.1 652.6h.5M370.3 632.8h.5M359 643h.5M440.9 652.4h.5M395.6 633.6h.5M367.2 623.3h.5M413.4 656.7h.5M397.8 645.7h.5M367.6 616.6h.5M453.3 664.7h.5M320.2 633.5h.5M362.4 626.9h.5M362.7 654.6h.5M414.2 620.3h.5M416.8 634.8h.5M369.3 622.4h.5M314.9 625.6h.5M309.9 628h.5M450.6 651.3h.5M410.2 628.1h.5M317 652.7h.5M427.9 617.4h.5M377.3 622.1h.5M394.2 643.7h.5M447.6 661.8h.5M419 624.1h.5M400.2 631.6h.5M418.9 614.4h.5M373.2 625h.5M389.4 626h.5M413.5 662h.5M349.3 664.8h.5M387 654h.5M411.8 618.1h.5M337.2 631.2h.5M446.9 652.7h.5M406.6 616.3h.5M427.8 631.6h.5M318.1 653.2h.5M329.4 659.3h.5M425.2 633.4h.5M382.9 614.8h.5M395.7 663.4h.5M401.9 629h.5M415.7 619.5h.5M351 645.8h.5M391.6 656.6h.5M429 623.3h.5M308.3 621.2h.5M376.9 642.8h.5M351.7 627.2h.5M330.8 660.3h.5M379.8 622.3h.5M420.5 654.6h.5M325.5 660.4h.5M376.5 616.8h.5M418.3 637h.5M363 642.5h.5M319.2 630.5h.5M340.3 660.4h.5M329.8 660h.5M337.7 635.1h.5M344.8 646.6h.5M293.2 662h.5M292.2 656.9h.5M384.5 657.3h.5M450.3 661.5h.5M404.2 639.8h.5M390.7 632.3h.5M449.2 661h.5M385.3 646h.5M405.6 636.7h.5M323.9 647.6h.5M382.9 631.5h.5M390.3 663.3h.5M320.2 656.8h.5M289.9 663.9h.5M309.8 662.2h.5M417.7 622.3h.5M391.5 664.2h.5M381.6 664.9h.5M431.6 651h.5M451.6 659.1h.5M365.3 621.9h.5M359.9 621.7h.5M427.6 640.9h.5M379.4 629.9h.5M433 651.6h.5M341.9 636.9h.5M318.4 625h.5M351.4 623.1h.5M392.3 652.4h.5M308.8 651.8h.5M411.9 621h.5M425.4 653.4h.5M412.7 661.5h.5M402.5 662h.5M291.7 660.8h.5M333.1 644.2h.5M377.9 663.4h.5M369 649.9h.5M365.5 661.9h.5M288.5 660.3h.5M308.1 652.4h.5M312.3 655.1h.5M388.8 643.8h.5M439.7 648.6h.5M315.5 617.8h.5M315.9 649.9h.5M378 630.8h.5M337.9 632.7h.5M361 642.5h.5M418.2 619.7h.5M391.4 654.2h.5M361.7 618.1h.5M320.1 622.6h.5M389.8 648.9h.5M297.7 661h.5M329.7 627.6h.5M338.8 626.8h.5M337.7 651.9h.5M426.8 625.6h.5M417 619.5h.5M440.7 654.8h.5M402.3 639.6h.5M391.3 647.3h.5M392.8 637.7h.5M329.9 635h.5M316.2 634.9h.5M346.9 662.3h.5M335.4 620.3h.5M442.3 637.8h.5M337.2 656.3h.5M397.4 650.3h.5M430.5 615.2h.5M388.8 663.3h.5M411 620.4h.5M301 652.6h.5M350.7 664.4h.5M351 660.9h.5M311.1 645.2h.5M413.7 661.2h.5M391.9 654.1h.5M391.4 636.1h.5M395.2 664.8h.5M369.7 658.8h.5M397 659.2h.5M300.6 646.5h.5M347.6 636.6h.5M360.4 637.4h.5M371.4 625.8h.5M410.6 640.7h.5M358.8 640.2h.5M372.4 645.1h.5M437.4 644.5h.5M305.6 655.8h.5M368.3 620.6h.5M332.3 638.9h.5M296.5 648.7h.5M359.7 658.5h.5M435.7 659.2h.5M453.4 660.5h.5M412.5 619.6h.5M424.2 615.5h.5M313.8 648.2h.5M323.7 651h.5M356.7 624.9h.5M422.6 627.1h.5M327.3 650.6h.5M426.5 656.7h.5M420.8 625.9h.5M384.2 664.6h.5M428.5 621.7h.5M364.5 615.8h.5M415.3 635.6h.5M409.9 622.1h.5M352.5 628.2h.5M387.1 653.5h.5M342.3 619.4h.5M401.9 617.9h.5M303.8 655.5h.5M328.7 655h.5M374.6 627.1h.5M421.9 650.8h.5M335.6 623h.5M404.3 620h.5M351.5 658.1h.5M383.4 615.3h.5M332 660h.5M305.4 634.4h.5M349.8 664.2h.5M399 636.7h.5M340.2 615.9h.5M425 624h.5M380.4 628h.5M332.6 628h.5" stroke="#a3da86" stroke-width="1.2" stroke-linecap="round" fill="none"/>
<path d="M413 614.3 L432.8 614.3 L439.7 627.0 L414.6 627.0 C413.5 622 413 618 413 614.3 Z" fill="#d98a92"/>
<path d="M414.6 627.0 L439.7 627.0 L459.0 665.0 L400.8 665.0 C403 658 405 650 407.5 643 C409 636 410 631 414.6 627.0 Z" fill="#f3c47c"/>
<path d="M289.3 658.9h.5M316.6 645.7h.5M346.4 614.6h.5M304.7 628.5h.5M302.2 656.4h.5M370.1 617h.5M311.8 660.5h.5M307.9 636.7h.5M316.9 623.6h.5M312.8 626h.5M369.2 637.2h.5M294.3 661.3h.5M299.4 650.9h.5M369.7 656.1h.5M309.7 625.3h.5M317 623.3h.5M373 625h.5M344.9 658.9h.5M352.9 621.9h.5M380.7 639.2h.5M376.5 616.8h.5M327.3 648.5h.5M365 631.5h.5M335.3 661.2h.5M370.7 656.8h.5M311.3 653.8h.5M364.4 619h.5M354.4 654.7h.5M309.4 630.1h.5M357.8 619.5h.5M335.7 645.4h.5M364.7 636.8h.5M399 643.2h.5M348.8 617.9h.5M337.8 648.5h.5M332.4 626.6h.5M358.4 621.9h.5M373.4 619.5h.5M356.6 653.5h.5M371.7 624.5h.5M395.4 623.8h.5M325.6 635h.5M344.2 651h.5M393.5 641.7h.5M393.2 653.2h.5M312.1 620.5h.5M402.8 622h.5M311.4 646.7h.5M316.2 633h.5M374.4 615.9h.5M345.2 653.1h.5M346.8 615h.5M332 625.2h.5M359.7 644.6h.5M361.7 633.2h.5M303.4 646.8h.5M349.5 617.8h.5M324.3 643h.5M336.6 640.3h.5M363 654.6h.5M397.2 614.9h.5M365.4 638.7h.5M305.6 644.5h.5M376.8 634.3h.5M391.4 635.8h.5M377.3 619.8h.5M394.4 633.5h.5M339.1 623.2h.5M382.6 658.1h.5M395.1 644.6h.5M363.5 630.3h.5M371.6 628.9h.5M291.4 653.6h.5M301.8 633.5h.5M402.7 614.9h.5M319.3 659.8h.5M357.6 656.8h.5M290.2 654.4h.5M304.3 640.8h.5M307.6 660.8h.5M365.1 656.1h.5M312.2 615.4h.5M371.3 655.2h.5M342 661h.5M330.5 618.3h.5M374.7 614.4h.5M383.1 640.7h.5M411.1 630.6h.5M370.9 645.8h.5M309.3 644.2h.5M389.9 638.9h.5M301.8 660.3h.5M313.9 635.1h.5M357.2 643.1h.5M348.3 645.7h.5M321.3 629.1h.5M401.7 638.9h.5M333.6 620.1h.5M373.2 621.5h.5M394.8 635.2h.5M322.2 617.2h.5M370.4 642h.5M313.4 642.3h.5M302.6 655.1h.5M291.2 658.3h.5M338.6 621.3h.5M324.2 624.3h.5M321.7 625.7h.5M338.6 654h.5M396.2 640.9h.5M350.4 619.8h.5M396.4 631.2h.5M303.7 640.7h.5M387.3 648.3h.5M389.2 616.9h.5M373.8 646.8h.5M386.5 621.6h.5M362.2 637.6h.5M362.3 623.1h.5M382.2 623.4h.5M357.8 650.6h.5M364.7 635.4h.5M393.8 644.1h.5M399.2 624.3h.5M369.5 650.7h.5M322.3 646.5h.5M392.1 652.3h.5M309.6 637.8h.5M382.7 640.9h.5M321.5 631h.5M379.4 658.4h.5M336.4 643.8h.5M342.8 660h.5M314.7 656.9h.5" stroke="#1d4a1d" stroke-width="1.2" stroke-linecap="round" fill="none"/>
<path d="M324.6 625.6h.5M325.4 664.2h.5M396.7 634.8h.5M376.6 616.8h.5M292.5 661.8h.5M329.2 634.4h.5M332.3 632.6h.5M392.6 659.5h.5M386.2 662.6h.5M391.1 620.9h.5M391.5 640.3h.5M326.4 631h.5M388.6 640.6h.5M394.5 655.9h.5M386.6 655.9h.5M368.3 663.8h.5M309.7 619.5h.5M361 637.4h.5M344.8 614.6h.5M386.8 619.3h.5M350.1 662.8h.5M301.9 635.9h.5M304.8 635.2h.5M371.2 629.5h.5M306.5 644.2h.5M338.7 620h.5M367.1 637.8h.5M305.8 631.1h.5M364.5 626.2h.5M365.1 655h.5M343.2 615.9h.5M338.5 647.6h.5M355.6 655h.5M295.9 650.9h.5M361.6 621.2h.5M372.9 658.3h.5M405.7 615.7h.5M395.3 623.3h.5M310.4 626.9h.5M367.8 646.7h.5M375.5 658.7h.5M397.3 615.4h.5M336.8 636.7h.5M322.7 620.7h.5M315.2 643.8h.5M403.4 619.6h.5M370.1 629.3h.5M370.9 647.4h.5M387.1 663.3h.5M341.7 619.3h.5M294.9 648.3h.5M314.7 647.7h.5M289.8 663.9h.5M308.1 631.6h.5M309.4 619.4h.5M358.4 616.4h.5M381.5 655.5h.5M382.5 618h.5M317.3 647.8h.5M331.1 623.9h.5M371.4 640.1h.5M357.7 640h.5M371.2 645.4h.5M371.3 628.3h.5M390.1 627h.5M334.4 626.2h.5M361.6 622.1h.5M377.1 635.1h.5M373.2 622.7h.5M399.1 634.6h.5M290.8 664h.5M382.7 637h.5M375.6 654.9h.5M368.1 661.6h.5M368 658.3h.5M304 630.1h.5M365.4 654.9h.5M315.9 616.3h.5M392.3 642h.5M336.5 661.5h.5M361.7 619.1h.5M377.5 631.5h.5M413 633.1h.5M342.4 649.2h.5M329.9 634.6h.5M408.4 620h.5M351.5 643.8h.5M360.1 662.4h.5M347.3 636.2h.5M314.3 638.4h.5M383.1 660h.5M335.9 623.3h.5M372 621.1h.5M302.9 630.1h.5M325.8 633.9h.5M356 651.9h.5M401.1 623.5h.5M295.2 644h.5M386.3 652h.5M347.9 648.8h.5M321.3 632.3h.5M332 631.3h.5M408.7 629.6h.5M406.5 614.6h.5M301.6 633.8h.5M378.4 643.7h.5M404.5 643.4h.5M334.9 635.2h.5M378.5 629.1h.5M350.5 653.2h.5M393.3 631.2h.5M409.7 634.3h.5M354.9 638.3h.5M328 627h.5M306.4 634.4h.5M384.8 639.5h.5M362.7 636.3h.5M388.4 626.4h.5" stroke="#1d4a1d" stroke-width="1.5" stroke-linecap="round" fill="none"/>
<path d="M370.9 616.7h.5M309.2 655.7h.5M355.8 653.6h.5M314.8 632.2h.5M397.2 634.4h.5M381.4 619.4h.5M401.3 634.5h.5M392.9 629.9h.5M360.1 638.7h.5M401.3 643.1h.5M330.7 640.7h.5M353.2 648.6h.5M407.1 616.9h.5M362.8 645.4h.5M293.2 653.4h.5M407 629.8h.5M369.9 617.1h.5M388.7 637.4h.5M366.7 615.4h.5M343.3 621.5h.5M328.9 635.9h.5M361.2 618.8h.5M376.8 618.3h.5M365 626h.5M377.4 630.9h.5M361.6 658.8h.5M338.8 616.9h.5M374.8 623.7h.5M398.3 653.1h.5M327.3 639.2h.5M381.8 627h.5M326.7 633.6h.5M363.3 625.1h.5M303.2 655.6h.5M376.3 639.5h.5M337.3 650.1h.5M287.5 657.1h.5M403.9 628.7h.5M369.2 614.5h.5M403.6 656h.5M396.8 633.4h.5M364.9 639.1h.5M387.3 649.5h.5M399 649.8h.5M353.7 651.3h.5M301.9 638.2h.5M378.1 633.2h.5M309.4 655.7h.5M394.5 641.2h.5M341 634h.5M404 625.1h.5M403.9 637.6h.5M365.3 635.9h.5M337.7 657.9h.5M393.7 645.4h.5M352.3 617.2h.5M336.9 624.2h.5M334.7 626.3h.5M310.3 625.6h.5M398.9 619.6h.5M399.9 659.7h.5M336.1 616.7h.5M381.8 633.4h.5M332 633h.5M379.6 659.6h.5M305.9 643.2h.5M302.6 649.2h.5M402.5 633.5h.5M302 633.6h.5M317.3 625.3h.5M315.9 627.1h.5M363.3 633.4h.5M308.8 640.3h.5M290.8 659.3h.5M310.5 625.3h.5M374.4 625h.5M375.1 627.9h.5M337.3 620.4h.5M343 652.3h.5M365.6 617.9h.5M373.3 619.8h.5M315.2 627.2h.5M404.4 653.4h.5M372.8 620.8h.5M325.8 629h.5M326.9 636.3h.5M289.3 664.4h.5M305.8 636.9h.5M305.9 647.8h.5M308.7 641.1h.5M388.5 623.7h.5M307.9 645.4h.5M376.2 631.1h.5M398.7 620h.5M401 656.9h.5M333.8 645.1h.5M314.2 655.2h.5M304.4 661.3h.5M376.3 661.1h.5M364.8 620.8h.5M377.2 627.5h.5M379.6 635.5h.5M293.3 660.8h.5M334 635.3h.5M394.6 624.2h.5M336.3 663.8h.5M295.9 654.6h.5M378.6 628.4h.5M329.5 654.4h.5M327.3 655.3h.5M324.5 655.2h.5M323.7 653.5h.5M326.3 652.7h.5M328.7 653h.5M329 657.5h.5M326.3 657.7h.5M322.9 656.7h.5M320.8 655.8h.5M319.6 654.6h.5M320.1 653.1h.5M321.5 651.5h.5M324.1 650.9h.5M327.6 650.3h.5M330.3 651.2h.5M332.7 652h.5M333.7 653.5h.5M333.6 654.9h.5M331.8 656.6h.5M337.5 655h.5M336.6 656.7h.5M334.8 657.6h.5M332.5 658.6h.5M329.6 659.1h.5M326.1 659.6h.5M323.2 659.4h.5M320.2 658.3h.5M317.9 657.4h.5M316.4 655.9h.5M315.8 654.7h.5M316.1 652.9h.5M316.9 651.4h.5M318.8 650.2h.5M321.3 649.1h.5M323.9 648.7h.5M327 648.7h.5M330.4 648.8h.5M332.9 649.4h.5M335.3 650.5h.5M336.9 651.7h.5M337.5 653.2h.5M351.8 630.3h.5M348.8 630.5h.5M346.6 629.8h.5M346.5 628.4h.5M349 627.1h.5M352.1 627.7h.5M353.1 629h.5M357.3 630.4h.5M355.9 631.5h.5M353.3 632.5h.5M350.7 633.2h.5M347.4 633.1h.5M344.9 631.9h.5M342.8 630.8h.5M341.8 629.4h.5M342 627.7h.5M343.8 626.6h.5M345.9 625.6h.5M349.1 625h.5M352.2 625.3h.5M354.8 626.1h.5M356.7 627h.5M357.9 628.8h.5M352.1 635h.5M349.1 635h.5M346.1 635.1h.5M343 634.5h.5M340.6 633.3h.5M339 631.8h.5M337.4 630.5h.5M337.3 629.1h.5M337.5 627.2h.5M338.6 625.7h.5M340.5 624.9h.5M343 623.6h.5M345.7 623h.5M348.9 622.6h.5M352.1 622.8h.5M355.3 623.3h.5M357.5 624h.5M360 625.3h.5M361.4 626.9h.5M362.1 628.1h.5M362.1 630h.5M361.6 631.3h.5M360 632.6h.5M357.7 633.7h.5M355.1 634.8h.5M389.7 639.2h.5M391.9 638.4h.5M394.9 638.6h.5M396.1 639.8h.5M395.2 641.2h.5M392.5 641.8h.5M390 640.8h.5M384.9 639.9h.5M385.4 638.4h.5M387.7 636.9h.5M390.2 636h.5M393.4 636h.5M396.3 636.3h.5M399 637.2h.5M400.6 638.6h.5M400.7 640.2h.5M399.7 641.6h.5M397.8 642.8h.5M395.1 643.7h.5M392.2 644.2h.5M389.2 643.8h.5M386.7 642.8h.5M385 641.2h.5" stroke="#1d4a1d" stroke-width="1.3" stroke-linecap="round" fill="none"/>
<path d="M443 639.2h.5M444.2 663.5h.5M422.3 635.2h.5M430.3 644.1h.5M441.9 642.4h.5M451.3 653h.5M447.4 647.1h.5M412.2 653.3h.5M423.6 640.3h.5M433 664.1h.5M443.8 644.2h.5M431.7 661.7h.5M425.1 657.5h.5M453.2 661.3h.5M413.3 655.7h.5M424.7 649.6h.5M428.7 637.1h.5M419.8 662.4h.5M433.8 635.8h.5M428.8 632.2h.5M418.4 643.9h.5M427.6 646.6h.5M429.4 646.2h.5M434.2 641.9h.5M422.1 642.9h.5M413.1 631.5h.5M417.2 633.9h.5M406 662.8h.5M413.7 645.3h.5M441.5 648.9h.5M416.3 636.1h.5M415.3 643.9h.5M434.5 658.4h.5M428.2 629.1h.5M437.4 639.9h.5M420.2 648.9h.5M437.8 651.8h.5M417.2 631.3h.5M418.2 631.8h.5M443.9 653.7h.5M447.4 661.2h.5M438.7 630.1h.5M435.4 652.4h.5M427.1 629.2h.5M420.7 649.1h.5M445.2 656.2h.5M428 628.4h.5M421.7 621h.5M420.8 619.9h.5M422.7 619h.5M424.4 619.6h.5M424 620.6h.5M424.5 617.7h.5M426.7 619.1h.5M426.6 620.7h.5M424.9 622.4h.5M422.1 622.7h.5M419.9 621.5h.5M418.7 620.2h.5M419.3 618.6h.5M421.8 617.3h.5" stroke="#2a2424" stroke-width="1.2" stroke-linecap="round" fill="none"/>
<path d="M423 655h.5M450.3 661.7h.5M439 662h.5M449.3 651.8h.5M432 637.8h.5M424.8 660.9h.5M438.2 646.5h.5M430.4 628.9h.5M445.2 657.2h.5M429.5 634.8h.5M442.3 639.9h.5M444.1 644.2h.5M420 652.3h.5M408.4 642.9h.5M423.6 633.4h.5M422.7 643.7h.5M411.9 632.3h.5M449 662.6h.5M439.7 658.4h.5M420.8 629.3h.5M424 648.9h.5M444.2 659.3h.5M447.6 654.3h.5M445 652.7h.5M452 663.6h.5M436 636.5h.5M419.3 645.5h.5M441.9 643h.5M424.5 645.1h.5M425.1 634.1h.5M437.7 644.2h.5M430 663.6h.5M434.9 628.9h.5M430.4 659.2h.5M439 638.2h.5" stroke="#2a2424" stroke-width="1.3" stroke-linecap="round" fill="none"/>
<path d="M408.3 651.6h.5M437.7 635.4h.5M443 638.9h.5M420.1 663.2h.5M418.9 657.6h.5M436.6 632.5h.5M442.5 643.4h.5M435.3 635.8h.5M437.9 656.9h.5M408.3 645.4h.5M431.7 637.1h.5M417.4 632.2h.5M428.9 645.5h.5M429.1 644.8h.5M411.5 642.4h.5M420.4 632.4h.5M412.5 628.3h.5M422.5 663.6h.5M417.1 633.7h.5M416.4 634.7h.5M406.8 656h.5M425.3 637.4h.5M430.8 661.7h.5M428.1 648h.5M423.3 634.4h.5M441 640h.5M436.6 646.8h.5M439 635.5h.5M410.5 641.4h.5M437.8 657.4h.5M429 639.8h.5M449 657.1h.5M406.1 655.7h.5M437.5 645.7h.5M430.3 648h.5M431.1 656.2h.5M444.2 644.5h.5M420.3 654.6h.5" stroke="#2a2424" stroke-width="1.5" stroke-linecap="round" fill="none"/>
<path d="M413 614.3 C413 619 413.5 623 414.6 627.0 L439.7 627.0" fill="none" stroke="#1d1d1d" stroke-width="0.7"/>
<path d="M414.6 627.0 C410 631 409 636 407.5 643 C405 650 403 658 400.8 665.0" fill="none" stroke="#1d1d1d" stroke-width="0.7"/>
<text x="355.4" y="674.4" font-size="6" text-anchor="middle" fill="#333" stroke="#333" stroke-width="0.22">85%</text>
<text x="441.3" y="621.8" font-size="6" text-anchor="middle" fill="#333" stroke="#333" stroke-width="0.22">1%</text>
<text x="456.2" y="647.6" font-size="6" text-anchor="middle" fill="#333" stroke="#333" stroke-width="0.22">14%</text>
<polygon points="315,688.2 435,688.2 463.2,739 285.8,739" fill="url(#g4)" stroke="#c0d890" stroke-width="0.4"/>
<path d="M380.4 732.5h.5M297.4 732.5h.5M412 692.4h.5M398.9 729.3h.5M386.1 699.3h.5M413 694h.5M412.1 705.5h.5M413.6 718h.5M411.6 720.5h.5M428.3 694.3h.5M326 705.5h.5M431.6 730.3h.5M331.3 695.8h.5M340.9 720.1h.5M375 708.4h.5M419 693.8h.5M318.5 721.1h.5M340.1 696.3h.5M354.9 719.1h.5M447.6 713.3h.5M360.2 718.5h.5M328.7 734.2h.5M360.8 690.6h.5M451.5 734.2h.5M307.3 709.1h.5M427.2 725.2h.5M390.4 738.8h.5M435.6 702.6h.5M403.5 732.4h.5M392.8 715.1h.5M371.7 724.4h.5M387.1 727.8h.5M387.3 708.9h.5M364 697h.5M434.6 738.9h.5M421.9 736.7h.5M415.3 695.4h.5M382.8 695h.5M349.3 696.2h.5M423.9 721.8h.5M376 701.6h.5M404.6 693.1h.5M304.4 720.4h.5M398.8 722.8h.5M385.4 733.2h.5M457.5 738.9h.5M387.6 692.5h.5M397.2 695h.5M329.5 694.9h.5M417 706.4h.5M336.3 711h.5M390.6 727.1h.5M344.1 719.3h.5M388.1 724.1h.5M442.7 737.9h.5M361.8 707.1h.5M330.9 737.9h.5M358.5 706.1h.5M366.6 728.1h.5M305.6 725.5h.5M331.3 731.3h.5M335.9 699.1h.5M321.7 695.8h.5M320.2 737.4h.5M363 703.6h.5M394.5 726.2h.5M297.4 721.5h.5M451.4 722.4h.5M340.6 726.9h.5M362.1 712.1h.5M342.7 694.2h.5M324.4 707.1h.5M450.4 729.3h.5M355.5 726.3h.5M402.9 704h.5M421.3 690.2h.5M339.7 700h.5M421.3 729.8h.5M361.5 715.1h.5M304.2 732.7h.5M374 737.9h.5M426.1 696h.5M303.5 728.3h.5M449.4 719.4h.5M356.4 695.6h.5M400 709.8h.5M353.4 729.4h.5M346.7 717.6h.5M386.8 696.4h.5M423.7 702.1h.5M442.2 727.5h.5M454.6 730h.5M355.2 708.3h.5M424.8 713.5h.5M416.4 717.6h.5M319.3 692h.5M408 728.2h.5M343.6 698.6h.5M411.2 724.9h.5M351.7 704.6h.5M308.6 714.6h.5M378 738.6h.5M334.2 715h.5M369.5 700.9h.5M360.1 693.5h.5M433.5 706.4h.5M439.4 717h.5M352.3 705.6h.5" stroke="#cbe48f" stroke-width="1.1" stroke-linecap="round" fill="none"/>
<path d="M384.4 704.9h.5M358 737.6h.5M388.9 721.7h.5M378.1 723.6h.5M404.1 701.6h.5M312.7 704.3h.5M412.1 738.1h.5M389.5 726.4h.5M408.9 734.7h.5M304.2 718.5h.5M327 704.1h.5M344.1 715h.5M369.5 694.5h.5M352.1 700.9h.5M404.4 722.1h.5M295.2 727.2h.5M317.2 728.2h.5M336.4 734.1h.5M314.8 715.1h.5M314.7 729.8h.5M376.6 718.3h.5M350.5 723.9h.5M293.5 728.2h.5M334.2 729.5h.5M378.9 736.8h.5M337.5 732.9h.5M370.1 710.4h.5M444 729.6h.5M347.9 723.3h.5M389.9 694.6h.5M429.3 695h.5M326.2 693h.5M328.7 736.7h.5M320.2 712.2h.5M423.5 733.4h.5M417.4 720.7h.5M364.1 690.2h.5M327.5 697.6h.5M306.7 723.8h.5M306.2 733h.5M443.6 707.9h.5M440.5 735.8h.5M408.4 716.7h.5M352.9 708.9h.5M360.3 708.3h.5M304.8 709.6h.5M305.9 712.1h.5M410.3 737h.5M386.5 726.7h.5M316.4 694.1h.5M335 727.9h.5M386.4 729.6h.5M316.5 706h.5M295.9 733.7h.5M324.5 731.2h.5M343.3 735.2h.5M415.8 690.8h.5M372.1 690.5h.5M380.6 701.9h.5M365.9 726.5h.5M296.9 733.9h.5M319 732.6h.5M413.6 733.2h.5M439.5 706.5h.5M379.1 693.1h.5M304.7 736.6h.5M310.3 708.3h.5M336.1 719h.5M377.5 698.4h.5M415.2 709.4h.5M432 699.8h.5M386.4 714.1h.5M379.1 712.5h.5M441.9 707.6h.5M384.6 690.2h.5M406.4 702.7h.5M403.5 693.8h.5M319.5 724h.5M400.8 716.9h.5M357 704.3h.5M439.6 739h.5M440.4 738.5h.5M426.2 696.8h.5M350.1 736.3h.5M372.9 724.6h.5M368.2 697.2h.5M375.7 707.7h.5M441.3 719.8h.5M402.7 692.8h.5M418.9 692.6h.5M380.6 713.8h.5M354 706.6h.5M428.8 689.1h.5M444.5 725.6h.5M400.5 718.9h.5M443.5 718.1h.5M431.6 737.4h.5M331.1 727.9h.5M458.6 738.2h.5M414.3 720.6h.5M326.5 730h.5M352.9 735.7h.5M429.1 695h.5M386.2 721.2h.5M435.4 710.6h.5M405.7 712.5h.5M325.3 705.8h.5M425.3 728.2h.5M316.4 688.8h.5M371.1 736.1h.5M291 732.8h.5M357.6 725.1h.5M329.8 719h.5M338.3 696.3h.5" stroke="#cbe48f" stroke-width="1.3" stroke-linecap="round" fill="none"/>
<path d="M401.8 725.8h.5M418.2 722.1h.5M410 703h.5M442.1 738.9h.5M441.4 711.3h.5M403.3 696h.5M426.8 699.7h.5M401.6 701.2h.5M332.4 715.3h.5M395.6 706.9h.5M451.9 723.4h.5M386.8 699.4h.5M317.1 735h.5M380.7 716.2h.5M355.9 711.6h.5M347.1 718.6h.5M419.1 727.3h.5M310.6 709.5h.5M441.8 723.7h.5M451 730.4h.5M390.1 719.1h.5M359.1 737.5h.5M409.8 706.2h.5M310.5 723.4h.5M394.2 735.8h.5M402.2 706h.5M415.8 690.5h.5M417.2 695h.5M347.4 715.8h.5M328.7 723.9h.5M325.2 716.2h.5M412.1 731.7h.5M330 725h.5M307.6 734h.5M454 732.7h.5M402.6 714.7h.5M420.6 727.2h.5M371.8 728.9h.5M331.2 726.9h.5M400.8 697.3h.5M369.2 695.3h.5M365.4 728.5h.5M418.5 729.6h.5M426.2 720.4h.5M329.5 731.4h.5M394.3 711.7h.5M358.4 699.1h.5M354.2 703.2h.5M301.1 738h.5M412.3 703.3h.5M433.3 714.6h.5M320.8 688.8h.5M323.9 689.6h.5M371.2 692.3h.5M310.7 727.3h.5M365.8 696.3h.5M289.3 737.2h.5M432.9 723.3h.5M323.9 698.7h.5M334 723.1h.5M454.2 733.6h.5M369.5 711.6h.5M300.3 720.3h.5M363.3 731.1h.5M354.1 708.7h.5M346.6 697.4h.5M361.5 719.8h.5M433.7 718.5h.5M366.3 690.4h.5M391.8 726.7h.5M371.1 714.4h.5M302.1 723h.5M362.2 689.1h.5M417.7 693.1h.5M387.9 723.6h.5M347.6 720.1h.5M438.4 711.8h.5M321.2 689.9h.5M428.5 719.8h.5M316.9 728.6h.5M431.3 731.8h.5M344.9 705.6h.5M316.6 705.7h.5M361.6 711.5h.5M421.3 692.5h.5M351.7 717.2h.5M406.4 704.6h.5M319.1 721.6h.5M384.1 705.7h.5M389.6 696.3h.5M330.9 732.3h.5M389.7 730.2h.5M416.4 700.9h.5M307.7 729.3h.5M454.9 727.9h.5M334.5 704.5h.5M389 734.3h.5M318.3 717.1h.5M299.9 732.6h.5M422.5 698.4h.5M384.5 693.9h.5M346 714.7h.5M334.4 694.8h.5M322.5 696.1h.5M322.1 736.5h.5M422.7 694.6h.5M427.3 717.9h.5M428.5 710.7h.5M445.1 719.3h.5M374.6 695.2h.5M323.7 697.8h.5M338.7 729h.5M429.5 733.7h.5M369.6 717.5h.5M404 718.3h.5M395.5 724.6h.5M371.2 730.1h.5M322.6 718.1h.5M405.2 718.9h.5M381.1 737.7h.5M397.7 713.6h.5M373.2 707.1h.5M390.8 706.6h.5M389 695.8h.5M303.8 731.2h.5M384.7 706.9h.5M388.1 706h.5M313.5 708.9h.5" stroke="#cbe48f" stroke-width="1.2" stroke-linecap="round" fill="none"/>
<path d="M411 688.2 L435.0 688.2 L437.5 692.8 C436 697 431 700.5 424 700.8 C418 701 413 697.5 411.6 693.5 C411 691.5 411 690 411 688.2 Z" fill="#f3c47a"/>
<path d="M405.4 712.9h.5M307.4 721.8h.5M405.6 710.5h.5M314.8 695.2h.5M402.1 701.5h.5M414.5 733.3h.5M354.9 714.9h.5M378 689.3h.5M335.1 715.4h.5M389.9 702.6h.5M382.7 703.7h.5M423.7 716.3h.5M403.4 699.3h.5M393.4 694.7h.5M321 692.3h.5M456.5 736.6h.5M313.2 715.5h.5M388.4 691.3h.5M291 737.6h.5M364.3 730.9h.5M445.6 716.6h.5M349.7 721.1h.5M317.6 713.6h.5M306.7 707.2h.5M409.3 692.1h.5M311.3 696.6h.5M379.8 692.3h.5M329.9 718.8h.5M360.1 722.4h.5M354.7 721.3h.5M354.4 726h.5M426.1 718.2h.5M452.5 732.9h.5M444.3 710h.5M389.8 690.2h.5M339 688.5h.5M440.8 721.5h.5M307.3 708.6h.5M398.7 691.1h.5M426.1 711.9h.5M312.1 695h.5M429.6 719.8h.5M449 731.7h.5M338.2 714h.5M426.9 735.1h.5M312.5 697.9h.5M397.5 736.2h.5M314 717.3h.5M400.9 692.2h.5M402.5 710.9h.5M348.5 725.8h.5M358.8 727.3h.5M344.9 690.4h.5M337.5 696.6h.5M375.7 728.4h.5M338.2 692h.5M453.5 729.9h.5M396.7 693.8h.5M293.5 733.2h.5M320 692.9h.5M446.9 728.9h.5M441.2 719.1h.5M422.3 729.8h.5M428 734h.5M387.8 721.4h.5M375.2 733.4h.5M440.2 727.3h.5M405.3 696.7h.5M347.5 732.3h.5M346.1 689.2h.5M343.6 724.3h.5M304 725.9h.5M334 688.8h.5M420.2 717.7h.5M338.6 714.9h.5M372.2 729h.5M316.1 698.7h.5M379.2 703.7h.5M290.6 737.8h.5" stroke="#1c2a12" stroke-width="1.5" stroke-linecap="round" fill="none"/>
<path d="M324.3 719.2h.5M419.1 711.5h.5M342.2 734.4h.5M371.3 731.4h.5M353.7 720h.5M296.4 723.8h.5M404 697.7h.5M353 707.5h.5M356 722.4h.5M333.9 712.3h.5M429.6 723.1h.5M460.8 737h.5M350.9 714.8h.5M322.3 698h.5M343.2 737.1h.5M327.6 698.4h.5M382.1 706.5h.5M352.6 725h.5M393.9 713.2h.5M322.4 735.8h.5M417 705.5h.5M332.9 688.2h.5M350.6 707.1h.5M349.4 712.7h.5M364.5 688.3h.5M341.5 733.5h.5M443.6 725.7h.5M395.2 690.7h.5M426.2 731.7h.5M407.7 736.2h.5M331.8 689.7h.5M394 706.5h.5M332.4 714.7h.5M366.5 735.4h.5M316.1 709h.5M433.3 726.5h.5M307.3 726.4h.5M399.5 698.8h.5M383.1 731.5h.5M311.4 698.7h.5M338.4 692.5h.5M402.8 738.6h.5M347.4 716.8h.5M341.3 689.7h.5M338.3 693.4h.5M329.8 736.7h.5M411.9 722.4h.5M329.2 719.5h.5M372.9 728.3h.5M372.8 733.3h.5M357.8 738.2h.5M343.7 715.1h.5M293.4 729h.5M398.3 698.3h.5M297.8 719.9h.5M301.5 721.9h.5M316 697.1h.5M374.9 725.4h.5M390.7 707.8h.5M358.5 719.8h.5M307.7 713.9h.5M329.9 716.6h.5M338.6 708.1h.5M318.5 690.6h.5M365.2 737.5h.5" stroke="#1c2a12" stroke-width="1.2" stroke-linecap="round" fill="none"/>
<path d="M296.9 722.8h.5M321.6 714.5h.5M418.3 710.3h.5M302 722.9h.5M346.1 726.6h.5M392.2 694h.5M322.7 694.6h.5M398.1 696.3h.5M402.9 706.9h.5M435.3 710h.5M327.8 691.5h.5M351.1 708.2h.5M383.8 689h.5M419.6 721.1h.5M416.3 728.8h.5M451.6 736.9h.5M395.7 716.5h.5M403.6 692.9h.5M306.3 721.3h.5M337.2 716.7h.5M446.1 733.1h.5M453.3 731h.5M302.3 718.8h.5M437.7 721.8h.5M354.9 724.7h.5M326 692.3h.5M410.2 697.3h.5M431.8 722h.5M418.8 721.3h.5M338.9 725.3h.5M449 720.9h.5M404 693.9h.5M382.8 696.9h.5M450.9 729.4h.5M309.7 718.1h.5M412.7 725.1h.5M377.6 726.3h.5M353.5 730.7h.5M444.6 728.5h.5M414.9 713h.5M436.1 733.1h.5M358.8 726.7h.5M333 696.8h.5M412.9 708.2h.5M306 735.4h.5M355 688.4h.5M420.4 706.4h.5M403 689h.5M306.3 715h.5M375.2 729.6h.5M353.9 719.1h.5M305 708.9h.5M356.6 729.5h.5M378.7 698.3h.5M363.2 725.5h.5M408.9 719.6h.5M326.2 725.9h.5M327.5 727.6h.5M325.9 729h.5M322.5 729.4h.5M320 728.2h.5M319.7 726.8h.5M322.5 725.5h.5M328.3 724h.5M330.9 724.9h.5M332.4 726.5h.5M332.5 727.9h.5M331.4 729.5h.5M329.4 731h.5M326.4 731.7h.5M323.3 732h.5M319.9 731.6h.5M317.3 730.9h.5M315.1 729.4h.5M314.4 727.6h.5M314.7 726.4h.5M316.6 724.9h.5M318.7 723.4h.5M322.1 723.3h.5M325.2 723h.5M317.9 721h.5M321.1 720.3h.5M324.4 720.5h.5M327.5 720.8h.5M330.6 721.7h.5M333.1 722.6h.5M335.4 723.5h.5M336.9 725.2h.5M337.3 726.8h.5M337.3 728.3h.5M336.7 729.8h.5M335 731.5h.5M332.9 732.6h.5M330.4 733.6h.5M327.3 734.2h.5M323.9 734.3h.5M320.8 734.1h.5M317.6 734h.5M314.9 733h.5M312.5 731.7h.5M310.8 730.3h.5M309.7 729.1h.5M309.5 727.2h.5M309.9 726h.5M310.8 724.1h.5M312.7 722.9h.5M315.1 721.9h.5M352.7 699.1h.5M350.2 697.8h.5M350.5 696.3h.5M353.1 695.4h.5M356.2 695.8h.5M357.5 697.5h.5M355.8 698.7h.5M361.4 699.7h.5M359 700.9h.5M356.1 701.5h.5M352.6 701.9h.5M349.5 701h.5M347 700.3h.5M345.1 698.6h.5M344.8 696.9h.5M345.2 695.3h.5M347.1 694h.5M350 692.9h.5M353.2 692.7h.5M356.6 692.7h.5M359.1 693.7h.5M361.7 695.1h.5M362.9 696.3h.5M362.8 697.9h.5M352.6 690.1h.5M355.5 690.4h.5M359 690.8h.5M362 691.3h.5M364 692.7h.5M365.9 693.7h.5M367.4 695.3h.5M367.6 697h.5M367.5 698.4h.5M366.7 699.9h.5M364.6 701.6h.5M362.2 702.7h.5M359.6 703.6h.5M356.4 703.9h.5M353.6 704.3h.5M350.2 704.1h.5M347 703.3h.5M344.6 702.2h.5M342.3 701.1h.5M340.6 699.9h.5M340.2 698.5h.5M340 696.4h.5M340.6 694.9h.5M341.9 693.4h.5M343.9 692.1h.5M346.5 691.3h.5M349.1 690.6h.5M322.9 703.7h.5M326 702.9h.5M329.3 703.4h.5M330.8 705.2h.5M330.2 706.5h.5M328.1 707.8h.5M324.5 707.9h.5M321.8 706.7h.5M321.1 705.3h.5M327.4 710.2h.5M324.3 710.3h.5M321 710.1h.5M318.8 708.7h.5M317 707.4h.5M316.1 705.7h.5M316.3 704.5h.5M317.5 702.5h.5M320.2 701.6h.5M322.9 701h.5M326.4 700.4h.5M329.4 700.7h.5M332.2 701.6h.5M334.4 702.7h.5M335.8 704.5h.5M336 705.9h.5M335.2 707.5h.5M333.3 709h.5M330.8 710.1h.5M375.1 715.9h.5M372 716.2h.5M369.2 715.4h.5M369.2 713.4h.5M372 712.5h.5M375.4 712.8h.5M376.6 714.6h.5M380.6 712.4h.5M381.9 713.8h.5M381.7 715.7h.5M379.9 717.2h.5M377.9 718.1h.5M375 718.9h.5M371.5 719h.5M368.6 718.3h.5M365.7 717.4h.5M364.1 715.7h.5M363.6 714.5h.5M364.6 712.7h.5M366.4 711.3h.5M369.3 710.2h.5M372.4 709.9h.5M375.5 710.2h.5M378.5 711.1h.5M385.8 716.9h.5M384.2 718.4h.5M382.6 719.6h.5M379.5 720.6h.5M376.7 721.3h.5M373.6 721.4h.5M370.1 721.3h.5M367 720.8h.5M364.6 720.1h.5M362.3 718.9h.5M360.1 717.6h.5M358.9 716.1h.5M358.5 714.3h.5M359.3 712.8h.5M360.3 711.5h.5M362 710h.5M364.5 708.8h.5M367.1 708.1h.5M370.5 707.5h.5M373.4 707.4h.5M376.8 707.9h.5M379.7 708.3h.5M382.3 709.2h.5M384.3 710.6h.5M386 712.2h.5M386.8 713.8h.5M386.4 715.3h.5M394.6 726.7h.5M392.5 725.2h.5M393.9 723.6h.5M397.2 723.1h.5M400.2 724.2h.5M400.7 726h.5M397.9 727.1h.5M390.8 721.7h.5M393.6 721h.5M396.8 720.7h.5M400.1 720.8h.5M402.8 721.8h.5M404.9 723.3h.5M405.6 724.9h.5M405.3 726.3h.5M403.5 727.6h.5M401 728.9h.5M398.3 729.6h.5M395.1 729.5h.5M391.7 728.9h.5M389.4 727.7h.5M387.8 726.1h.5M387.9 724.2h.5M388.8 723h.5M303.8 731.5h.5M301.6 732.6h.5M298.3 733.1h.5M295.8 731.7h.5M296.3 729.9h.5M299.4 729.2h.5M302.9 729.6h.5" stroke="#1c2a12" stroke-width="1.3" stroke-linecap="round" fill="none"/>
<path d="M420.6 694.8h.5M419.8 693.5h.5M421.9 692.7h.5M423.7 693.7h.5M423 695h.5M418.9 696.3h.5M417.4 694.5h.5M417.6 693h.5M419.3 691.5h.5M421.8 691.1h.5M424.3 691.9h.5M425.9 693h.5M425.9 694.9h.5M424.3 696.3h.5M421.8 696.9h.5" stroke="#2a2424" stroke-width="1.3" stroke-linecap="round" fill="none"/>
<path d="M440.2 700.2h.5M429.4 695.4h.5M438.1 698.4h.5M426.7 691.2h.5M426.7 698.5h.5M420.8 690.4h.5M420 688.7h.5M423.5 702.3h.5M415.9 699.8h.5M412.9 690.3h.5M424.3 694.3h.5M420.2 702.7h.5M413.4 694.3h.5M432.8 691.1h.5" stroke="#2a2424" stroke-width="1.4" stroke-linecap="round" fill="none"/>
<path d="M430.3 689.1h.5M432 694.1h.5M432.4 698.2h.5M420.4 695.7h.5M439.3 700.4h.5M418.6 692.1h.5M413.5 697.8h.5M424 693.8h.5" stroke="#2a2424" stroke-width="1.2" stroke-linecap="round" fill="none"/>
<path d="M415.8 702.1h.5M427.7 701.7h.5M434.3 694.7h.5" stroke="#2a2424" stroke-width="1.1" stroke-linecap="round" fill="none"/>
<path d="M411 688.2 C411 691 411 694 413 697 C418 699.5 423 700 427 705 C432 707 438 706.5 443.5 703.5" fill="none" stroke="#1d1d1d" stroke-width="0.7"/>
<path d="M444 707 L432 728.7" fill="none" stroke="#8a8aa8" stroke-width="1.1" stroke-dasharray="1.4 0.8" opacity="0.8"/>
<text x="375.8" y="750" font-size="6" text-anchor="middle" fill="#333" stroke="#333" stroke-width="0.22">93%</text>
<text x="446.8" y="696" font-size="6" text-anchor="middle" fill="#333" stroke="#333" stroke-width="0.22">7%</text>
<path d="M453.5 527.2 C476 533 478 556 454.29 564.87" fill="none" stroke="#c9967a" stroke-width="1.8"/><polygon points="450.8,566.5 455.62,560.28 455.24,564.43 458.67,566.8" fill="#c9967a"/>
<path d="M460.3 597.7 C482 604 484 628 459.79 635.37" fill="none" stroke="#cbc58f" stroke-width="1.8"/><polygon points="456.3,637 461.12,630.78 460.74,634.93 464.17,637.3" fill="#cbc58f"/>
<path d="M461.7 666.8 C484 673 486 697 462.57 704.56" fill="none" stroke="#aaa6da" stroke-width="1.8"/><polygon points="459,706 464.14,700.04 463.54,704.16 466.84,706.72" fill="#aaa6da"/>
<text x="470.3" y="536" font-size="7" font-weight="bold" fill="#222" stroke="#222" stroke-width="0.22">p53 (+)</text>
<text x="474" y="604.1" font-size="7" font-weight="bold" fill="#222" stroke="#222" stroke-width="0.22">SMAD4 (-)</text>
<text x="483.4" y="682.3" font-size="7" font-weight="bold" fill="#222" stroke="#222" stroke-width="0.22">ERK (-)</text>
<rect x="462.4" y="463.3" width="24.2" height="34" fill="white" stroke="#666" stroke-width="0.6"/>
<circle cx="467.4" cy="468.4" r="2.5" fill="#93d093"/>
<text x="471.2" y="470.2" font-size="4.9" fill="#333" stroke="#333" stroke-width="0.22">Epi</text>
<circle cx="467.4" cy="476.15" r="2.5" fill="#1fa061"/>
<text x="471.2" y="477.95" font-size="4.9" fill="#333" stroke="#333" stroke-width="0.22">Epi/H</text>
<circle cx="467.4" cy="483.9" r="2.5" fill="#f6b77c"/>
<text x="471.2" y="485.7" font-size="4.9" fill="#333" stroke="#333" stroke-width="0.22">H</text>
<circle cx="467.4" cy="491.65" r="2.5" fill="#a3195b"/>
<text x="471.2" y="493.45" font-size="4.9" fill="#333" stroke="#333" stroke-width="0.22">Mes</text>
</svg>
</body></html>
